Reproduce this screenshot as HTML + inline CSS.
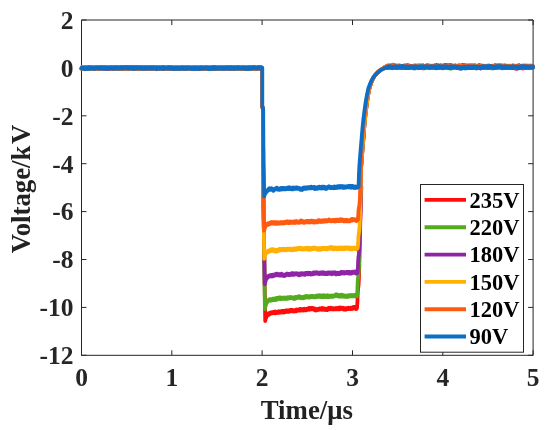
<!DOCTYPE html>
<html lang="en"><head><meta charset="utf-8"><title>Voltage vs Time</title>
<style>html,body{margin:0;padding:0;background:#fff}body{width:550px;height:430px;overflow:hidden}</style></head>
<body>
<svg width="550" height="430" viewBox="0 0 550 430" style="display:block">
<rect width="550" height="430" fill="#fff"/>
<g stroke="#262626" stroke-width="1" fill="none">
<path d="M81.5 20.0 H533.1 V355.3 H81.5 Z"/>
<path d="M81.5 355.3 V350.3 M81.5 20.0 V25.0"/>
<path d="M171.8 355.3 V350.3 M171.8 20.0 V25.0"/>
<path d="M262.1 355.3 V350.3 M262.1 20.0 V25.0"/>
<path d="M352.5 355.3 V350.3 M352.5 20.0 V25.0"/>
<path d="M442.8 355.3 V350.3 M442.8 20.0 V25.0"/>
<path d="M533.1 355.3 V350.3 M533.1 20.0 V25.0"/>
<path d="M81.5 20.0 H86.5 M533.1 20.0 H528.1"/>
<path d="M81.5 67.9 H86.5 M533.1 67.9 H528.1"/>
<path d="M81.5 115.8 H86.5 M533.1 115.8 H528.1"/>
<path d="M81.5 163.7 H86.5 M533.1 163.7 H528.1"/>
<path d="M81.5 211.6 H86.5 M533.1 211.6 H528.1"/>
<path d="M81.5 259.5 H86.5 M533.1 259.5 H528.1"/>
<path d="M81.5 307.4 H86.5 M533.1 307.4 H528.1"/>
<path d="M81.5 355.3 H86.5 M533.1 355.3 H528.1"/>
</g>
<g>
<path d="M81.5 68.4L81.8 67.6L82.1 68.6L82.4 67.8L82.7 68.5L83.0 67.8L83.3 68.7L83.6 67.8L83.9 68.5L84.2 67.8L84.5 68.5L84.8 67.8L85.1 68.6L85.4 67.8L85.7 68.5L86.0 67.5L86.3 68.5L86.6 67.7L86.9 68.5L87.2 67.6L87.5 68.5L87.8 67.7L88.1 68.4L88.4 67.4L88.7 68.3L89.0 67.3L89.3 68.6L89.6 67.6L89.9 68.4L90.2 67.6L90.5 68.7L90.8 67.5L91.1 68.4L91.4 67.7L91.7 68.4L92.0 67.7L92.3 68.3L92.6 67.5L92.9 68.4L93.2 67.4L93.5 68.2L93.8 67.6L94.1 68.4L94.4 67.6L94.7 68.4L95.0 67.5L95.3 68.3L95.6 67.7L95.9 68.5L96.2 67.8L96.5 68.8L96.8 67.6L97.1 68.5L97.4 67.5L97.7 68.7L98.0 67.6L98.3 68.7L98.6 67.9L98.9 68.8L99.2 68.0L99.5 68.9L99.8 67.7L100.1 68.8L100.4 67.8L100.7 68.5L101.0 67.7L101.3 68.5L101.6 67.5L101.9 68.4L102.2 67.7L102.5 68.4L102.8 67.6L103.1 68.5L103.4 67.4L103.7 68.3L104.0 67.5L104.3 68.3L104.6 67.6L104.9 68.4L105.2 67.7L105.5 68.4L105.8 67.8L106.1 68.5L106.4 67.6L106.7 68.7L107.0 67.6L107.3 68.6L107.6 67.7L107.9 68.6L108.2 67.6L108.5 68.8L108.8 67.8L109.1 68.6L109.4 67.5L109.7 68.6L110.0 67.8L110.3 68.5L110.6 67.7L110.9 68.5L111.2 67.7L111.5 68.4L111.8 67.6L112.1 68.6L112.4 67.5L112.7 68.4L113.0 67.6L113.3 68.3L113.6 67.6L113.9 68.3L114.2 67.5L114.5 68.3L114.8 67.6L115.1 68.3L115.4 67.5L115.7 68.5L116.0 67.7L116.3 68.5L116.6 67.5L116.9 68.6L117.2 67.6L117.5 68.5L117.8 67.8L118.1 68.6L118.4 67.7L118.7 68.7L119.0 67.8L119.3 68.8L119.6 67.6L119.9 68.6L120.2 67.6L120.5 68.5L120.8 67.3L121.1 68.5L121.4 67.3L121.7 68.5L122.0 67.4L122.3 68.4L122.6 67.6L122.9 68.4L123.2 67.3L123.5 68.7L123.8 67.6L124.1 68.3L124.4 67.6L124.7 68.2L125.0 67.4L125.3 68.5L125.6 67.5L125.9 68.3L126.2 67.1L126.5 68.1L126.8 67.4L127.1 68.1L127.4 67.3L127.7 68.2L128.0 67.3L128.3 68.3L128.6 67.5L128.9 68.3L129.2 67.5L129.5 68.2L129.8 67.1L130.1 68.4L130.4 67.3L130.7 68.1L131.0 67.5L131.3 68.3L131.6 67.4L131.9 68.2L132.2 67.5L132.5 68.2L132.8 67.5L133.1 68.5L133.4 67.7L133.7 68.8L134.0 67.6L134.3 68.7L134.6 67.1L134.9 68.4L135.2 67.4L135.5 68.2L135.8 67.4L136.1 68.4L136.4 67.3L136.7 68.2L137.0 67.6L137.3 68.3L137.6 67.7L137.9 68.5L138.2 67.6L138.5 68.4L138.8 67.6L139.1 68.6L139.4 67.7L139.7 68.7L140.0 67.6L140.3 68.5L140.6 67.8L140.9 68.7L141.2 67.5L141.5 68.7L141.8 67.7L142.1 68.6L142.4 67.7L142.7 68.9L143.0 67.7L143.3 68.4L143.6 67.8L143.9 68.6L144.2 67.7L144.5 68.3L144.8 67.4L145.1 68.2L145.4 67.5L145.7 68.4L146.0 67.3L146.3 68.0L146.6 66.9L146.9 68.3L147.2 67.2L147.5 68.2L147.8 67.4L148.1 68.2L148.4 67.6L148.7 68.3L149.0 67.7L149.3 68.3L149.6 67.4L149.9 68.4L150.2 67.7L150.5 68.5L150.8 67.6L151.1 68.7L151.4 67.7L151.7 68.4L152.0 67.7L152.3 68.6L152.6 67.8L152.9 68.6L153.2 67.7L153.5 68.5L153.8 67.8L154.1 68.4L154.4 67.5L154.7 68.4L155.0 67.5L155.3 68.4L155.6 67.5L155.9 68.3L156.2 67.2L156.5 68.2L156.8 67.4L157.1 68.2L157.4 67.6L157.7 68.4L158.0 67.5L158.3 68.6L158.6 67.6L158.9 68.3L159.2 67.5L159.5 68.3L159.8 67.4L160.1 68.5L160.4 67.4L160.7 68.4L161.0 67.4L161.3 68.5L161.6 67.6L161.9 68.3L162.2 67.2L162.5 68.3L162.8 67.5L163.1 68.5L163.4 67.6L163.7 68.5L164.0 67.4L164.3 68.5L164.6 67.6L164.9 68.5L165.2 67.8L165.5 68.5L165.8 67.9L166.1 68.6L166.4 67.9L166.7 68.6L167.0 67.9L167.3 68.5L167.6 67.7L167.9 68.8L168.2 67.6L168.5 68.3L168.8 67.3L169.1 68.3L169.4 67.3L169.7 68.6L170.0 67.5L170.3 68.5L170.6 67.7L170.9 68.7L171.2 67.7L171.5 68.5L171.8 67.7L172.1 68.9L172.4 67.8L172.7 68.6L173.0 67.7L173.3 68.5L173.6 67.9L173.9 68.8L174.2 67.9L174.5 68.7L174.8 67.7L175.1 68.7L175.4 67.6L175.7 68.5L176.0 67.6L176.3 68.3L176.6 67.6L176.9 68.4L177.2 67.4L177.5 68.6L177.8 67.6L178.1 68.4L178.4 67.7L178.7 68.6L179.0 67.4L179.3 68.5L179.6 67.8L179.9 68.5L180.2 67.7L180.5 68.6L180.8 67.8L181.1 68.7L181.4 67.6L181.7 68.6L182.0 67.7L182.3 68.8L182.6 67.5L182.9 68.5L183.2 67.5L183.5 68.5L183.8 67.8L184.1 68.6L184.4 67.3L184.7 68.4L185.0 67.4L185.3 68.4L185.6 67.6L185.9 68.6L186.2 67.5L186.5 68.4L186.8 67.3L187.1 68.4L187.4 67.6L187.7 68.5L188.0 67.6L188.3 68.4L188.6 67.8L188.9 68.5L189.2 67.7L189.5 68.5L189.8 67.7L190.1 68.8L190.4 67.9L190.7 68.8L191.0 67.7L191.3 68.7L191.6 67.9L191.9 68.8L192.2 67.7L192.5 68.5L192.8 67.5L193.1 68.5L193.4 67.6L193.7 68.2L194.0 67.3L194.3 68.3L194.6 67.6L194.9 68.4L195.2 67.7L195.5 68.6L195.8 67.8L196.1 68.5L196.4 67.8L196.7 68.7L197.0 67.9L197.3 68.9L197.6 67.8L197.9 68.7L198.2 67.5L198.5 68.5L198.8 67.6L199.1 68.7L199.4 67.6L199.7 68.5L200.0 67.5L200.3 68.4L200.6 67.6L200.9 68.5L201.2 67.6L201.5 68.4L201.8 67.6L202.1 68.6L202.4 67.6L202.7 68.9L203.0 67.6L203.3 68.7L203.6 68.1L203.9 68.8L204.2 68.1L204.5 68.8L204.8 67.7L205.1 68.9L205.4 67.7L205.7 68.8L206.0 67.7L206.3 68.7L206.6 67.8L206.9 68.7L207.2 67.6L207.5 68.5L207.8 67.5L208.1 68.9L208.4 67.5L208.7 68.4L209.0 67.4L209.3 68.4L209.6 67.6L209.9 68.6L210.2 67.5L210.5 68.6L210.8 67.6L211.1 68.5L211.4 67.6L211.7 68.8L212.0 67.8L212.3 68.5L212.6 67.8L212.9 68.5L213.2 67.7L213.5 68.5L213.8 67.9L214.1 68.8L214.4 67.5L214.7 68.5L215.0 67.7L215.3 68.4L215.6 67.7L215.9 68.5L216.2 67.8L216.5 68.6L216.8 67.7L217.1 68.4L217.4 67.8L217.7 68.5L218.0 67.7L218.3 68.7L218.6 67.9L218.9 68.6L219.2 67.9L219.5 68.5L219.8 67.6L220.1 68.5L220.4 67.6L220.7 68.6L221.0 67.8L221.3 68.8L221.6 67.8L221.9 68.4L222.2 67.8L222.5 68.5L222.8 67.8L223.1 68.7L223.4 67.8L223.7 68.6L224.0 67.9L224.3 68.8L224.6 67.9L224.9 68.6L225.2 68.0L225.5 68.7L225.8 67.9L226.1 69.0L226.4 68.0L226.7 68.7L227.0 67.9L227.3 68.6L227.6 67.8L227.9 68.5L228.2 67.7L228.5 68.4L228.8 67.7L229.1 68.6L229.4 67.6L229.7 68.5L230.0 67.5L230.3 68.4L230.6 67.5L230.9 68.6L231.2 67.8L231.5 68.9L231.8 67.7L232.1 68.7L232.4 67.5L232.7 68.5L233.0 67.5L233.3 68.4L233.6 67.7L233.9 68.7L234.2 67.4L234.5 68.4L234.8 67.7L235.1 68.6L235.4 67.6L235.7 68.5L236.0 67.7L236.3 68.4L236.6 67.6L236.9 68.5L237.2 67.7L237.5 68.5L237.8 67.6L238.1 68.5L238.4 67.5L238.7 68.3L239.0 67.5L239.3 68.4L239.6 67.3L239.9 68.3L240.2 67.6L240.5 68.3L240.8 67.3L241.1 68.3L241.4 67.6L241.7 68.5L242.0 67.2L242.3 68.4L242.6 67.5L242.9 68.4L243.2 67.6L243.5 68.3L243.8 67.6L244.1 68.9L244.4 67.8L244.7 68.5L245.0 67.7L245.3 68.8L245.6 67.7L245.9 68.6L246.2 67.9L246.5 68.7L246.8 67.9L247.1 68.6L247.4 67.8L247.7 69.0L248.0 68.0L248.3 68.6L248.6 68.0L248.9 68.9L249.2 68.0L249.5 68.8L249.8 67.7L250.1 68.4L250.4 67.7L250.7 68.5L251.0 67.4L251.3 68.5L251.6 67.4L251.9 68.2L252.2 67.4L252.5 68.5L252.8 67.4L253.1 68.3L253.4 67.5L253.7 68.3L254.0 67.4L254.3 68.3L254.6 67.5L254.9 68.5L255.2 67.6L255.5 68.5L255.8 67.7L256.1 68.6L256.4 67.9L256.7 68.7L257.0 67.8L257.3 68.4L257.6 67.5L257.9 68.4L258.2 67.5L258.5 68.3L258.8 67.0L259.1 68.4L259.4 67.4L259.7 68.1L260.0 67.2L260.3 68.2L260.6 67.4L260.9 68.3L261.2 67.6L261.5 68.5L262.1 67.9L262.1 105.8L263.0 109.4L263.2 163.3L263.4 196.8L265.2 321.0L265.5 319.7L265.8 318.1L266.1 317.8L266.4 316.2L266.7 316.5L267.0 315.1L267.3 315.7L267.6 314.4L267.9 315.2L268.2 313.5L268.5 315.0L268.8 313.7L269.1 314.7L269.4 312.9L269.7 314.0L270.0 312.6L270.3 313.9L270.6 312.4L270.9 313.5L271.2 312.4L271.5 313.6L271.8 312.2L272.1 313.4L272.4 312.1L272.7 313.0L273.0 312.1L273.3 313.0L273.6 312.0L273.9 313.1L274.2 311.7L274.5 312.9L274.8 311.6L275.1 313.3L275.4 311.7L275.7 313.0L276.0 311.8L276.3 313.1L276.6 311.9L276.9 312.8L277.2 311.9L277.5 312.7L277.8 311.8L278.1 312.7L278.4 311.6L278.7 312.8L279.0 311.3L279.3 312.6L279.6 311.7L279.9 312.6L280.2 311.4L280.5 312.6L280.8 311.4L281.1 312.4L281.4 311.2L281.7 312.1L282.0 310.9L282.3 312.3L282.6 311.3L282.9 312.2L283.2 310.9L283.5 312.6L283.8 311.2L284.1 312.2L284.4 311.1L284.7 312.1L285.0 310.7L285.3 312.2L285.6 310.7L285.9 311.7L286.2 310.5L286.5 311.5L286.8 310.4L287.1 311.9L287.4 310.5L287.7 311.8L288.0 310.4L288.3 311.5L288.6 310.5L288.9 311.8L289.2 310.5L289.5 311.7L289.8 310.2L290.1 311.4L290.4 310.0L290.7 311.2L291.0 310.0L291.3 311.4L291.6 309.9L291.9 311.0L292.2 310.2L292.5 311.1L292.8 310.2L293.1 311.2L293.4 310.2L293.7 311.5L294.0 310.5L294.3 311.4L294.6 310.1L294.9 311.2L295.2 310.2L295.5 311.1L295.8 309.8L296.1 311.3L296.4 310.0L296.7 311.0L297.0 309.4L297.3 310.7L297.6 309.7L297.9 310.7L298.2 309.6L298.5 310.5L298.8 309.4L299.1 310.5L299.4 309.5L299.7 310.5L300.0 308.8L300.3 310.5L300.6 309.3L300.9 310.4L301.2 309.2L301.5 310.5L301.8 309.2L302.1 310.1L302.4 309.1L302.7 310.3L303.0 309.2L303.3 310.6L303.6 308.9L303.9 310.1L304.2 309.2L304.5 310.1L304.8 308.8L305.1 310.2L305.4 309.0L305.7 310.2L306.0 309.2L306.3 310.3L306.6 309.1L306.9 310.1L307.2 308.7L307.5 309.9L307.8 308.4L308.1 309.5L308.4 308.2L308.7 309.3L309.0 308.0L309.3 309.2L309.6 308.2L309.9 309.7L310.2 308.0L310.5 309.2L310.8 308.3L311.1 309.2L311.4 308.0L311.7 309.2L312.0 307.9L312.3 309.2L312.6 308.4L312.9 309.2L313.2 308.1L313.5 309.3L313.8 308.3L314.1 309.6L314.4 308.4L314.7 310.1L315.0 308.7L315.3 309.8L315.6 309.1L315.9 310.5L316.2 309.1L316.5 310.3L316.8 309.3L317.1 310.3L317.4 309.1L317.7 310.0L318.0 309.0L318.3 309.8L318.6 308.9L318.9 309.9L319.2 308.8L319.5 309.8L319.8 308.5L320.1 309.5L320.4 308.4L320.7 309.6L321.0 308.4L321.3 309.5L321.6 308.1L321.9 309.8L322.2 308.0L322.5 309.4L322.8 308.3L323.1 309.4L323.4 308.6L323.7 309.8L324.0 308.3L324.3 309.7L324.6 308.7L324.9 309.9L325.2 308.8L325.5 309.9L325.8 308.9L326.1 310.0L326.4 309.0L326.7 309.9L327.0 308.7L327.3 310.1L327.6 308.4L327.9 309.5L328.2 308.4L328.5 309.2L328.8 308.0L329.1 309.1L329.4 308.0L329.7 309.0L330.0 307.9L330.3 309.3L330.6 307.8L330.9 309.1L331.2 307.8L331.5 309.2L331.8 308.1L332.1 309.3L332.4 308.2L332.7 309.4L333.0 308.1L333.3 309.4L333.6 308.4L333.9 309.5L334.2 308.4L334.5 309.4L334.8 308.5L335.1 309.4L335.4 308.3L335.7 309.2L336.0 308.3L336.3 309.2L336.6 308.2L336.9 309.4L337.2 308.2L337.5 309.3L337.8 308.0L338.1 309.2L338.4 307.7L338.7 309.3L339.0 308.1L339.3 309.1L339.6 307.7L339.9 309.3L340.2 307.6L340.5 309.0L340.8 307.8L341.1 308.9L341.4 307.6L341.7 308.7L342.0 307.9L342.3 309.0L342.6 308.1L342.9 309.3L343.2 307.8L343.5 309.4L343.8 308.3L344.1 309.6L344.4 308.5L344.7 309.6L345.0 308.5L345.3 309.6L345.6 308.3L345.9 309.7L346.2 308.5L346.5 309.4L346.8 308.2L347.1 309.2L347.4 308.0L347.7 309.1L348.0 308.2L348.3 309.1L348.6 307.8L348.9 308.9L349.2 307.9L349.5 308.8L349.8 308.0L350.1 309.0L350.4 307.7L350.7 308.9L351.0 307.9L351.3 309.0L351.6 307.9L351.9 308.7L352.2 307.6L352.5 308.9L352.8 307.4L353.1 308.6L353.4 307.0L353.7 308.1L354.0 306.9L354.3 308.0L354.6 307.2L354.9 308.1L355.2 307.3L355.5 308.8L355.8 307.6L356.1 309.1L356.4 307.7L356.7 308.8L357.0 307.7L357.1 307.3L357.1 306.9L357.1 306.5L357.2 306.1L357.2 305.7L357.2 305.3L357.2 304.9L357.3 304.5L357.3 304.1L357.3 303.7L357.3 303.3L357.4 302.9L357.4 302.5L357.4 302.1L357.4 301.7L357.4 301.3L357.4 300.9L357.5 300.5L357.5 300.1L357.5 299.7L357.5 299.3L357.5 298.9L357.5 298.5L357.5 298.1L357.5 297.7L357.6 297.3L357.6 296.9L357.6 296.5L357.6 296.1L357.6 295.7L357.6 295.3L357.6 294.9L357.7 294.5L357.7 294.1L357.7 293.7L357.7 293.3L357.7 292.9L357.8 292.5L357.8 292.1L357.8 291.7L357.9 291.3L357.9 290.9L357.9 290.5L358.0 290.1L358.0 289.7L358.1 289.3L358.1 288.9L358.1 288.5L358.2 288.1L358.2 287.7L358.3 287.3L358.3 286.9L358.4 286.5L358.4 286.1L358.5 285.7L358.5 285.3L358.5 284.9L358.6 284.5L358.6 284.1L358.6 283.7L358.6 283.3L358.7 282.9L358.7 282.5L358.7 282.1L358.7 281.7L358.8 281.3L358.8 280.9L358.8 280.5L358.8 280.1L358.8 279.7L358.9 279.3L358.9 278.9L358.9 278.5L358.9 278.1L358.9 277.7L359.0 277.3L359.0 276.9L359.0 276.5L359.0 276.1L359.0 275.7L359.0 275.3L359.0 274.9L359.1 274.5L359.1 274.1L359.1 273.7L359.1 273.3L359.1 272.9L359.1 272.5L359.1 272.1L359.1 271.7L359.2 271.3L359.2 270.9L359.2 270.5L359.2 270.1L359.2 269.7L359.2 269.3L359.2 268.9L359.2 268.5L359.2 268.1L359.2 267.7L359.2 267.3L359.3 266.9L359.3 266.5L359.3 266.1L359.3 265.7L359.3 265.3L359.3 264.9L359.3 264.5L359.3 264.1L359.3 263.7L359.3 263.3L359.3 262.9L359.3 262.5L359.4 262.1L359.4 261.7L359.4 261.3L359.4 260.9L359.4 260.5L359.4 260.1L359.4 259.7L359.4 259.3L359.4 258.9L359.4 258.5L359.4 258.1L359.4 257.7L359.5 257.3L359.5 256.9L359.5 256.5L359.5 256.1L359.5 255.7L359.5 255.3L359.5 254.9L359.5 254.5L359.5 254.1L359.5 253.7L359.5 253.3L359.5 252.9L359.5 252.5L359.6 252.1L359.6 251.7L359.6 251.3L359.6 250.9L359.6 250.5L359.6 250.1L359.6 249.7L359.6 249.3L359.6 248.9L359.6 248.5L359.6 248.1L359.6 247.7L359.6 247.3L359.7 246.9L359.7 246.5L359.7 246.1L359.7 245.7L359.7 245.3L359.7 244.9L359.7 244.5L359.7 244.1L359.7 243.7L359.7 243.3L359.7 242.9L359.7 242.5L359.8 242.1L359.8 241.7L359.8 241.3L359.8 240.9L359.8 240.5L359.8 240.1L359.8 239.7L359.8 239.3L359.8 238.9L359.8 238.5L359.8 238.1L359.9 237.7L359.9 237.3L359.9 236.9L359.9 236.5L359.9 236.1L359.9 235.7L359.9 235.3L359.9 234.9L359.9 234.5L359.9 234.1L360.0 233.7L360.0 233.3L360.0 232.9L360.0 232.5L360.0 232.1L360.0 231.7L360.0 231.3L360.0 230.9L360.0 230.5L360.1 230.1L360.1 229.7L360.1 229.3L360.1 228.9L360.1 228.5L360.1 228.1L360.1 227.7L360.1 227.3L360.1 226.9L360.1 226.5L360.2 226.1L360.2 225.7L360.2 225.3L360.2 224.9L360.2 224.5L360.2 224.1L360.2 223.7L360.2 223.3L360.2 222.9L360.3 222.5L360.3 222.1L360.3 221.7L360.3 221.3L360.3 220.9L360.3 220.5L360.3 220.1L360.3 219.7L360.3 219.3L360.4 218.9L360.4 218.5L360.4 218.1L360.4 217.7L360.4 217.3L360.4 216.9L360.4 216.5L360.4 216.1L360.4 215.7L360.5 215.3L360.5 214.9L360.5 214.5L360.5 214.1L360.5 213.7L360.5 213.3L360.5 212.9L360.5 212.5L360.6 212.1L360.6 211.7L360.6 211.3L360.6 210.9L360.6 210.5L360.6 210.1L360.6 209.7L360.6 209.3L360.6 208.9L360.7 208.5L360.7 208.1L360.7 207.7L360.7 207.3L360.7 206.9L360.7 206.5L360.7 206.1L360.7 205.7L360.8 205.3L360.8 204.9L360.8 204.5L360.8 204.1L360.8 203.7L360.8 203.3L360.8 202.9L360.8 202.5L360.8 202.1L360.9 201.7L360.9 201.3L360.9 200.9L360.9 200.5L360.9 200.1L360.9 199.7L360.9 199.3L360.9 198.9L361.0 198.5L361.0 198.1L361.0 197.7L361.0 197.3L361.0 196.9L361.0 196.5L361.0 196.1L361.0 195.7L361.1 195.3L361.1 194.9L361.1 194.5L361.1 194.1L361.1 193.7L361.1 193.3L361.1 192.9L361.2 192.5L361.2 192.1L361.2 191.7L361.2 191.3L361.2 190.9L361.2 190.5L361.2 190.1L361.2 189.7L361.3 189.3L361.3 188.9L361.3 188.5L361.3 188.1L361.3 187.7L361.3 187.3L361.3 186.9L360.4 186.5L360.4 186.1L360.4 185.7L360.4 185.3L360.4 184.9L360.5 184.5L360.5 184.1L360.5 183.7L360.5 183.3L360.5 182.9L360.5 182.5L360.5 182.1L360.5 181.7L360.5 181.3L360.6 180.9L360.6 180.5L360.6 180.1L360.6 179.7L360.6 179.3L360.6 178.9L360.6 178.5L360.6 178.1L360.6 177.7L360.7 177.3L360.7 176.9L360.7 176.5L360.7 176.1L360.7 175.7L360.7 175.3L360.7 174.9L360.7 174.5L360.8 174.1L360.8 173.7L360.8 173.3L360.8 172.9L360.8 172.5L360.8 172.1L360.9 171.7L360.9 171.3L360.9 170.9L360.9 170.5L360.9 170.1L361.0 169.7L361.0 169.3L361.0 168.9L361.0 168.5L361.1 168.1L361.1 167.7L361.1 167.3L361.1 166.9L361.1 166.5L361.2 166.1L361.2 165.7L361.2 165.3L361.3 164.9L361.3 164.5L361.3 164.1L361.3 163.7L361.4 163.3L361.4 162.9L361.4 162.5L361.5 162.1L361.5 161.7L361.5 161.3L361.5 160.9L361.6 160.5L361.6 160.1L361.6 159.7L361.7 159.3L361.7 158.9L361.7 158.5L361.8 158.1L361.8 157.7L361.8 157.3L361.9 156.9L361.9 156.5L361.9 156.1L362.0 155.7L362.0 155.3L362.0 154.9L362.0 154.5L362.1 154.1L362.1 153.7L362.1 153.3L362.2 152.9L362.2 152.5L362.2 152.1L362.3 151.7L362.3 151.3L362.3 150.9L362.4 150.5L362.4 150.1L362.4 149.7L362.5 149.3L362.5 148.9L362.5 148.5L362.6 148.1L362.6 147.7L362.6 147.3L362.7 146.9L362.7 146.5L362.7 146.1L362.8 145.7L362.8 145.3L362.8 144.9L362.9 144.5L362.9 144.1L362.9 143.7L363.0 143.3L363.0 142.9L363.1 142.5L363.1 142.1L363.1 141.7L363.2 141.3L363.2 140.9L363.2 140.5L363.3 140.1L363.3 139.7L363.3 139.3L363.4 138.9L363.4 138.5L363.4 138.1L363.5 137.7L363.5 137.3L363.5 136.9L363.5 136.5L363.6 136.1L363.6 135.7L363.6 135.3L363.6 134.9L363.7 134.5L363.7 134.1L363.7 133.7L363.8 133.3L363.8 132.9L363.8 132.5L363.9 132.1L363.9 131.7L363.9 131.3L363.9 130.9L364.0 130.5L364.0 130.1L364.0 129.7L364.1 129.3L364.1 128.9L364.1 128.5L364.2 128.1L364.2 127.7L364.2 127.3L364.2 126.9L364.3 126.5L364.3 126.1L364.4 125.7L364.4 125.3L364.4 124.9L364.5 124.5L364.5 124.1L364.5 123.7L364.6 123.3L364.6 122.9L364.6 122.5L364.7 122.1L364.7 121.7L364.8 121.3L364.8 120.9L364.8 120.5L364.9 120.1L364.9 119.7L365.0 119.3L365.0 118.9L365.0 118.5L365.1 118.1L365.1 117.7L365.2 117.3L365.2 116.9L365.3 116.5L365.3 116.1L365.3 115.7L365.4 115.3L365.4 114.9L365.5 114.5L365.5 114.1L365.6 113.7L365.6 113.3L365.7 112.9L365.7 112.5L365.8 112.1L365.8 111.7L365.8 111.3L365.9 110.9L365.9 110.5L366.0 110.1L366.0 109.7L366.1 109.3L366.1 108.9L366.2 108.5L366.2 108.1L366.3 107.7L366.3 107.3L366.4 106.9L366.4 106.5L366.5 106.1L366.5 105.7L366.6 105.3L366.6 104.9L366.7 104.5L366.7 104.1L366.8 103.7L366.8 103.3L366.9 102.9L367.0 102.5L367.0 102.1L367.1 101.7L367.1 101.3L367.2 100.9L367.2 100.5L367.3 100.1L367.3 99.7L367.4 99.3L367.5 98.9L367.5 98.5L367.6 98.1L367.7 97.7L367.7 97.3L367.8 96.9L367.9 96.5L367.9 96.1L368.0 95.7L368.1 95.3L368.1 94.9L368.2 94.5L368.3 94.1L368.3 93.7L368.4 93.3L368.5 92.9L368.5 92.5L368.6 92.1L368.7 91.7L368.8 91.3L368.8 90.9L368.9 90.5L369.0 90.1L369.1 89.7L369.2 89.3L369.3 88.9L369.4 88.5L369.5 88.1L369.6 87.7L369.7 87.3L369.8 86.9L369.9 86.5L370.1 86.1L370.2 85.7L370.3 85.3L370.4 84.9L370.6 84.5L370.7 84.1L370.8 83.7L371.0 83.3L371.1 82.9L371.3 82.5L371.4 82.1L371.6 81.7L371.7 81.3L371.9 80.9L372.1 80.5L372.2 80.1L372.4 79.7L372.6 79.3L372.8 78.9L373.0 78.5L373.2 78.1L373.4 77.7L373.7 77.3L373.9 76.9L374.2 76.5L374.4 76.1L374.7 75.7L375.0 75.3L375.3 74.9L375.7 74.5L376.0 74.1L376.4 73.7L376.8 73.3L377.1 72.9L377.5 72.5L377.9 72.1L378.4 71.7L378.8 71.3L379.3 70.9L379.8 70.5L380.3 70.1L380.9 69.7L381.6 69.3L382.4 68.9L383.5 68.5L383.8 68.1L384.1 67.8L384.4 67.8L384.7 67.4L385.0 67.5L385.3 67.1L385.6 67.4L385.9 66.9L386.2 67.3L386.5 66.8L386.8 67.2L387.1 66.7L387.4 67.3L387.7 66.5L388.0 67.6L388.3 66.8L388.6 67.6L388.9 66.8L389.2 67.7L389.5 66.6L389.8 67.5L390.1 66.1L390.4 67.3L390.7 65.6L391.0 67.0L391.3 65.5L391.6 66.8L391.9 65.7L392.2 66.9L392.5 65.6L392.8 66.9L393.1 65.4L393.4 66.7L393.7 65.7L394.0 66.7L394.3 65.0L394.6 66.6L394.9 65.4L395.2 66.4L395.5 65.4L395.8 66.7L396.1 65.6L396.4 66.8L396.7 65.9L397.0 67.0L397.3 66.1L397.6 67.5L397.9 65.9L398.2 66.8L398.5 65.9L398.8 66.8L399.1 65.7L399.4 66.9L399.7 65.9L400.0 67.4L400.3 66.1L400.6 67.3L400.9 66.5L401.2 67.5L401.5 66.3L401.8 67.2L402.1 66.2L402.4 67.2L402.7 66.1L403.0 67.4L403.3 66.0L403.6 67.6L403.9 66.0L404.2 67.6L404.5 66.8L404.8 67.9L405.1 66.8L405.4 67.5L405.7 66.4L406.0 67.0L406.3 65.4L406.6 66.5L406.9 65.1L407.2 66.3L407.5 65.4L407.8 66.6L408.1 65.5L408.4 66.8L408.7 65.8L409.0 67.2L409.3 65.9L409.6 67.5L409.9 66.4L410.2 67.3L410.5 66.4L410.8 67.8L411.1 66.7L411.4 67.5L411.7 66.4L412.0 67.7L412.3 66.1L412.6 67.1L412.9 65.9L413.2 67.2L413.5 66.1L413.8 66.9L414.1 65.8L414.4 66.9L414.7 65.9L415.0 66.9L415.3 65.5L415.6 66.8L415.9 65.7L416.2 67.1L416.5 65.7L416.8 67.2L417.1 65.8L417.4 66.9L417.7 65.6L418.0 66.9L418.3 65.5L418.6 66.6L418.9 65.5L419.2 66.6L419.5 65.7L419.8 66.9L420.1 65.7L420.4 67.2L420.7 66.0L421.0 67.5L421.3 66.4L421.6 67.9L421.9 66.9L422.2 67.9L422.5 67.1L422.8 68.4L423.1 67.4L423.4 68.4L423.7 66.9L424.0 68.2L424.3 67.1L424.6 68.0L424.9 66.6L425.2 67.7L425.5 66.0L425.8 67.4L426.1 66.1L426.4 67.1L426.7 65.9L427.0 66.9L427.3 65.7L427.6 66.9L427.9 65.3L428.2 66.7L428.5 65.5L428.8 66.7L429.1 65.8L429.4 66.9L429.7 65.8L430.0 66.9L430.3 65.8L430.6 66.9L430.9 65.9L431.2 67.1L431.5 66.2L431.8 67.2L432.1 65.8L432.4 67.6L432.7 66.4L433.0 67.6L433.3 66.6L433.6 67.5L433.9 66.2L434.2 67.4L434.5 66.0L434.8 66.9L435.1 65.8L435.4 66.8L435.7 65.8L436.0 67.1L436.3 65.8L436.6 67.0L436.9 65.6L437.2 66.9L437.5 65.8L437.8 67.4L438.1 66.0L438.4 67.7L438.7 66.4L439.0 67.9L439.3 66.6L439.6 68.0L439.9 66.5L440.2 67.6L440.5 66.7L440.8 67.6L441.1 66.7L441.4 67.5L441.7 66.5L442.0 67.6L442.3 65.9L442.6 67.1L442.9 65.9L443.2 66.9L443.5 65.8L443.8 66.8L444.1 65.7L444.4 67.1L444.7 65.5L445.0 66.7L445.3 65.6L445.6 66.5L445.9 65.0L446.2 66.6L446.5 65.5L446.8 66.7L447.1 65.5L447.4 66.5L447.7 65.3L448.0 66.9L448.3 65.4L448.6 66.7L448.9 65.9L449.2 67.1L449.5 65.5L449.8 67.1L450.1 65.4L450.4 66.5L450.7 65.2L451.0 66.2L451.3 65.1L451.6 66.8L451.9 65.8L452.2 67.0L452.5 66.1L452.8 67.4L453.1 66.6L453.4 67.5L453.7 66.1L454.0 67.2L454.3 66.1L454.6 67.3L454.9 65.7L455.2 67.0L455.5 65.7L455.8 67.4L456.1 65.9L456.4 67.2L456.7 66.4L457.0 67.9L457.3 66.3L457.6 67.7L457.9 66.6L458.2 67.8L458.5 67.0L458.8 68.4L459.1 67.1L459.4 68.3L459.7 66.8L460.0 68.0L460.3 66.9L460.6 68.1L460.9 66.7L461.2 67.7L461.5 66.5L461.8 67.4L462.1 66.1L462.4 67.0L462.7 65.5L463.0 66.6L463.3 65.8L463.6 67.0L463.9 65.7L464.2 67.2L464.5 66.3L464.8 67.8L465.1 66.2L465.4 68.2L465.7 66.5L466.0 67.9L466.3 66.5L466.6 67.9L466.9 66.8L467.2 67.9L467.5 66.5L467.8 67.5L468.1 65.7L468.4 67.7L468.7 65.9L469.0 67.2L469.3 65.7L469.6 67.1L469.9 65.5L470.2 67.1L470.5 65.9L470.8 66.9L471.1 65.8L471.4 67.3L471.7 65.6L472.0 66.9L472.3 65.9L472.6 67.0L472.9 66.2L473.2 67.5L473.5 65.7L473.8 66.8L474.1 65.5L474.4 66.7L474.7 65.5L475.0 66.5L475.3 65.4L475.6 66.8L475.9 65.9L476.2 67.3L476.5 66.3L476.8 67.9L477.1 66.9L477.4 67.7L477.7 66.1L478.0 67.2L478.3 65.4L478.6 66.9L478.9 65.1L479.2 66.2L479.5 65.1L479.8 66.3L480.1 65.3L480.4 66.4L480.7 65.6L481.0 66.7L481.3 65.7L481.6 66.8L481.9 65.5L482.2 66.9L482.5 65.7L482.8 67.0L483.1 65.9L483.4 67.0L483.7 66.1L484.0 67.3L484.3 66.0L484.6 67.2L484.9 66.0L485.2 67.4L485.5 66.0L485.8 67.2L486.1 65.9L486.4 67.5L486.7 66.0L487.0 67.4L487.3 65.7L487.6 67.9L487.9 66.0L488.2 67.5L488.5 66.4L488.8 67.3L489.1 66.4L489.4 67.6L489.7 66.2L490.0 67.2L490.3 66.2L490.6 67.4L490.9 66.2L491.2 67.7L491.5 66.2L491.8 67.3L492.1 66.1L492.4 67.8L492.7 66.4L493.0 67.9L493.3 66.5L493.6 67.2L493.9 65.9L494.2 66.8L494.5 65.5L494.8 66.3L495.1 65.1L495.4 66.4L495.7 65.5L496.0 66.8L496.3 65.9L496.6 66.9L496.9 66.0L497.2 67.7L497.5 66.0L497.8 67.0L498.1 66.1L498.4 67.1L498.7 65.8L499.0 67.0L499.3 65.9L499.6 67.0L499.9 66.0L500.2 67.1L500.5 66.2L500.8 67.4L501.1 66.0L501.4 67.3L501.7 65.9L502.0 67.4L502.3 66.0L502.6 67.3L502.9 66.2L503.2 67.8L503.5 66.0L503.8 67.3L504.1 65.7L504.4 66.9L504.7 65.7L505.0 67.0L505.3 65.7L505.6 66.8L505.9 65.7L506.2 66.9L506.5 65.8L506.8 66.8L507.1 66.0L507.4 67.1L507.7 65.9L508.0 67.7L508.3 66.2L508.6 67.6L508.9 66.6L509.2 67.5L509.5 66.5L509.8 67.5L510.1 66.2L510.4 67.5L510.7 65.8L511.0 67.8L511.3 66.2L511.6 67.2L511.9 66.2L512.2 67.3L512.5 65.8L512.8 66.9L513.1 65.7L513.4 67.1L513.7 66.3L514.0 67.5L514.3 66.7L514.6 68.3L514.9 67.0L515.2 68.4L515.5 67.0L515.8 68.4L516.1 67.4L516.4 68.9L516.7 67.4L517.0 68.5L517.3 67.1L517.6 68.1L517.9 66.3L518.2 67.4L518.5 65.7L518.8 66.6L519.1 65.2L519.4 66.6L519.7 65.7L520.0 66.8L520.3 65.8L520.6 67.3L520.9 66.4L521.2 67.4L521.5 66.7L521.8 67.9L522.1 66.6L522.4 68.0L522.7 67.1L523.0 68.5L523.3 67.2L523.6 68.3L523.9 67.1L524.2 68.0L524.5 66.9L524.8 68.0L525.1 66.4L525.4 67.6L525.7 66.5L526.0 67.5L526.3 66.2L526.6 67.4L526.9 66.4L527.2 67.7L527.5 66.2L527.8 67.2L528.1 66.1L528.4 67.2L528.7 66.0L529.0 67.0L529.3 66.1L529.6 67.5L529.9 66.1L530.2 67.0L530.5 66.0L530.8 67.3L531.1 66.0L531.4 66.9L531.7 66.1L532.0 67.2L532.3 66.0L532.6 67.3L532.9 66.1" fill="none" stroke="#ff0d0d" stroke-width="3.8" stroke-linejoin="round" stroke-linecap="round"/>
<path d="M81.5 69.0L81.8 67.8L82.1 68.7L82.4 67.9L82.7 68.6L83.0 67.8L83.3 68.8L83.6 67.6L83.9 68.6L84.2 67.5L84.5 68.3L84.8 67.4L85.1 68.5L85.4 67.5L85.7 68.3L86.0 67.6L86.3 68.4L86.6 67.5L86.9 68.5L87.2 67.6L87.5 68.5L87.8 67.5L88.1 68.8L88.4 67.8L88.7 68.7L89.0 68.0L89.3 68.8L89.6 67.9L89.9 68.7L90.2 67.8L90.5 68.7L90.8 67.6L91.1 68.4L91.4 67.4L91.7 68.4L92.0 67.7L92.3 68.5L92.6 67.7L92.9 68.5L93.2 67.5L93.5 68.5L93.8 67.7L94.1 68.4L94.4 67.3L94.7 68.4L95.0 67.7L95.3 68.5L95.6 67.8L95.9 68.9L96.2 67.7L96.5 68.6L96.8 67.7L97.1 68.9L97.4 67.8L97.7 68.6L98.0 67.8L98.3 68.8L98.6 67.9L98.9 69.1L99.2 67.8L99.5 68.6L99.8 67.7L100.1 68.5L100.4 67.4L100.7 68.5L101.0 67.3L101.3 68.3L101.6 67.1L101.9 68.2L102.2 67.3L102.5 68.3L102.8 67.3L103.1 68.2L103.4 67.3L103.7 68.5L104.0 67.4L104.3 68.4L104.6 67.2L104.9 68.2L105.2 67.5L105.5 68.4L105.8 67.2L106.1 68.3L106.4 67.4L106.7 68.3L107.0 67.3L107.3 68.3L107.6 67.4L107.9 68.4L108.2 67.6L108.5 68.4L108.8 67.5L109.1 68.3L109.4 67.5L109.7 68.2L110.0 67.4L110.3 68.3L110.6 67.3L110.9 68.3L111.2 67.4L111.5 68.3L111.8 67.4L112.1 68.3L112.4 67.4L112.7 68.4L113.0 67.4L113.3 68.7L113.6 67.4L113.9 68.4L114.2 67.6L114.5 68.6L114.8 67.4L115.1 68.6L115.4 67.7L115.7 68.5L116.0 67.4L116.3 68.6L116.6 67.6L116.9 68.6L117.2 67.7L117.5 68.4L117.8 67.4L118.1 68.7L118.4 67.5L118.7 68.3L119.0 67.6L119.3 68.5L119.6 67.6L119.9 68.5L120.2 67.6L120.5 68.6L120.8 67.6L121.1 68.5L121.4 67.4L121.7 68.5L122.0 67.8L122.3 68.9L122.6 67.8L122.9 68.6L123.2 67.7L123.5 68.7L123.8 67.7L124.1 68.7L124.4 67.7L124.7 68.5L125.0 67.8L125.3 68.4L125.6 67.5L125.9 68.4L126.2 67.3L126.5 68.3L126.8 67.6L127.1 68.3L127.4 67.7L127.7 68.6L128.0 67.6L128.3 68.4L128.6 67.7L128.9 68.7L129.2 67.6L129.5 68.6L129.8 67.7L130.1 68.6L130.4 67.8L130.7 68.8L131.0 67.8L131.3 68.8L131.6 67.9L131.9 68.9L132.2 68.0L132.5 68.9L132.8 68.0L133.1 68.8L133.4 67.8L133.7 68.6L134.0 67.8L134.3 68.5L134.6 67.8L134.9 68.4L135.2 67.6L135.5 68.5L135.8 67.4L136.1 68.3L136.4 67.5L136.7 68.3L137.0 67.6L137.3 68.7L137.6 67.7L137.9 68.6L138.2 67.6L138.5 68.4L138.8 67.3L139.1 68.4L139.4 67.6L139.7 68.5L140.0 67.6L140.3 68.4L140.6 67.3L140.9 68.4L141.2 67.5L141.5 68.3L141.8 67.4L142.1 68.3L142.4 67.6L142.7 68.8L143.0 67.6L143.3 68.5L143.6 67.7L143.9 68.7L144.2 67.6L144.5 68.5L144.8 67.7L145.1 68.8L145.4 67.8L145.7 68.7L146.0 67.9L146.3 68.6L146.6 67.9L146.9 68.5L147.2 67.7L147.5 68.5L147.8 67.8L148.1 68.4L148.4 67.6L148.7 68.5L149.0 67.5L149.3 68.3L149.6 67.5L149.9 68.3L150.2 67.6L150.5 68.7L150.8 67.5L151.1 68.4L151.4 67.7L151.7 68.8L152.0 67.7L152.3 68.5L152.6 67.8L152.9 68.6L153.2 67.7L153.5 68.6L153.8 67.6L154.1 68.8L154.4 67.8L154.7 68.7L155.0 67.5L155.3 68.5L155.6 67.8L155.9 68.6L156.2 67.5L156.5 68.5L156.8 67.6L157.1 68.6L157.4 67.7L157.7 68.4L158.0 67.7L158.3 68.5L158.6 67.7L158.9 68.6L159.2 67.7L159.5 68.7L159.8 67.4L160.1 68.4L160.4 67.6L160.7 68.4L161.0 67.4L161.3 68.2L161.6 67.4L161.9 68.3L162.2 67.6L162.5 68.2L162.8 67.5L163.1 68.3L163.4 67.3L163.7 68.3L164.0 67.6L164.3 68.3L164.6 67.5L164.9 68.5L165.2 67.4L165.5 68.4L165.8 67.4L166.1 68.6L166.4 67.5L166.7 68.6L167.0 67.7L167.3 68.6L167.6 67.6L167.9 68.6L168.2 67.8L168.5 69.0L168.8 68.0L169.1 69.0L169.4 68.1L169.7 68.8L170.0 67.9L170.3 68.6L170.6 67.9L170.9 68.6L171.2 67.4L171.5 68.4L171.8 67.5L172.1 68.3L172.4 67.6L172.7 68.4L173.0 67.3L173.3 68.6L173.6 67.6L173.9 68.3L174.2 67.4L174.5 68.3L174.8 67.7L175.1 68.8L175.4 67.7L175.7 68.7L176.0 67.6L176.3 68.3L176.6 67.4L176.9 68.5L177.2 67.6L177.5 68.4L177.8 67.7L178.1 68.5L178.4 67.6L178.7 68.5L179.0 67.7L179.3 68.7L179.6 67.6L179.9 68.6L180.2 67.5L180.5 68.5L180.8 67.7L181.1 68.6L181.4 67.9L181.7 68.7L182.0 67.7L182.3 68.7L182.6 67.8L182.9 68.8L183.2 67.7L183.5 68.7L183.8 67.5L184.1 68.5L184.4 67.6L184.7 68.7L185.0 67.9L185.3 68.6L185.6 68.0L185.9 69.0L186.2 68.0L186.5 69.1L186.8 67.9L187.1 69.0L187.4 68.0L187.7 68.8L188.0 67.5L188.3 68.7L188.6 67.9L188.9 68.6L189.2 67.4L189.5 68.5L189.8 67.8L190.1 68.6L190.4 67.8L190.7 68.8L191.0 68.0L191.3 68.8L191.6 68.0L191.9 69.0L192.2 67.9L192.5 68.8L192.8 67.9L193.1 68.6L193.4 67.6L193.7 68.5L194.0 67.5L194.3 68.7L194.6 67.8L194.9 68.8L195.2 67.8L195.5 68.6L195.8 67.6L196.1 68.6L196.4 67.9L196.7 68.6L197.0 67.7L197.3 68.6L197.6 67.7L197.9 68.6L198.2 67.6L198.5 68.2L198.8 67.4L199.1 68.3L199.4 67.3L199.7 68.6L200.0 67.3L200.3 68.6L200.6 67.6L200.9 68.4L201.2 67.5L201.5 68.6L201.8 67.4L202.1 68.6L202.4 67.7L202.7 68.6L203.0 67.7L203.3 68.8L203.6 67.7L203.9 68.5L204.2 67.5L204.5 68.8L204.8 67.6L205.1 68.8L205.4 67.7L205.7 68.4L206.0 67.4L206.3 68.4L206.6 67.7L206.9 68.4L207.2 67.3L207.5 68.2L207.8 67.3L208.1 68.2L208.4 67.4L208.7 68.0L209.0 67.4L209.3 68.2L209.6 67.3L209.9 68.5L210.2 67.4L210.5 68.5L210.8 67.8L211.1 68.6L211.4 67.9L211.7 68.6L212.0 67.8L212.3 68.6L212.6 67.7L212.9 68.5L213.2 67.8L213.5 68.7L213.8 67.6L214.1 68.4L214.4 67.6L214.7 68.6L215.0 67.6L215.3 68.9L215.6 67.7L215.9 68.6L216.2 67.5L216.5 68.8L216.8 67.6L217.1 68.3L217.4 67.7L217.7 68.4L218.0 67.6L218.3 68.6L218.6 67.5L218.9 68.7L219.2 67.6L219.5 68.4L219.8 67.5L220.1 68.5L220.4 67.6L220.7 68.5L221.0 67.7L221.3 68.4L221.6 67.5L221.9 68.6L222.2 67.7L222.5 68.5L222.8 67.7L223.1 68.5L223.4 67.5L223.7 68.6L224.0 67.7L224.3 68.6L224.6 67.4L224.9 68.7L225.2 67.5L225.5 68.3L225.8 67.6L226.1 68.4L226.4 67.2L226.7 68.2L227.0 67.4L227.3 68.3L227.6 67.3L227.9 68.5L228.2 67.5L228.5 68.2L228.8 67.5L229.1 68.4L229.4 67.4L229.7 68.4L230.0 67.7L230.3 68.4L230.6 67.5L230.9 68.5L231.2 67.6L231.5 68.5L231.8 67.5L232.1 68.6L232.4 67.8L232.7 68.8L233.0 67.6L233.3 68.8L233.6 67.7L233.9 68.6L234.2 67.8L234.5 68.5L234.8 67.8L235.1 68.7L235.4 67.6L235.7 68.4L236.0 67.6L236.3 68.5L236.6 67.5L236.9 68.5L237.2 67.4L237.5 68.6L237.8 67.6L238.1 68.8L238.4 67.5L238.7 68.5L239.0 67.6L239.3 68.5L239.6 67.6L239.9 68.3L240.2 67.5L240.5 68.6L240.8 67.3L241.1 68.3L241.4 67.6L241.7 68.4L242.0 67.6L242.3 68.5L242.6 67.7L242.9 68.4L243.2 67.6L243.5 68.8L243.8 67.5L244.1 68.9L244.4 67.6L244.7 68.7L245.0 67.6L245.3 68.5L245.6 67.8L245.9 68.7L246.2 67.8L246.5 68.8L246.8 68.0L247.1 68.9L247.4 67.8L247.7 68.4L248.0 67.6L248.3 68.5L248.6 67.3L248.9 68.4L249.2 67.4L249.5 68.5L249.8 67.5L250.1 68.8L250.4 67.8L250.7 68.7L251.0 67.9L251.3 68.9L251.6 67.9L251.9 69.0L252.2 67.8L252.5 68.7L252.8 67.9L253.1 68.8L253.4 67.7L253.7 68.8L254.0 67.7L254.3 68.6L254.6 67.8L254.9 68.5L255.2 67.8L255.5 68.6L255.8 67.5L256.1 68.5L256.4 67.4L256.7 68.7L257.0 67.6L257.3 68.6L257.6 67.7L257.9 68.5L258.2 67.8L258.5 68.7L258.8 67.7L259.1 68.6L259.4 67.8L259.7 68.6L260.0 67.7L260.3 68.4L260.6 67.5L260.9 68.2L261.2 67.5L261.5 68.1L262.1 67.9L262.1 105.8L263.0 109.4L263.2 163.3L263.4 196.8L264.9 309.0L265.2 307.6L265.5 305.9L265.8 305.5L266.1 304.0L266.4 303.9L266.7 302.4L267.0 302.6L267.3 301.3L267.6 301.8L267.9 300.4L268.2 301.2L268.5 299.9L268.8 300.9L269.1 299.3L269.4 300.5L269.7 299.4L270.0 300.6L270.3 299.1L270.6 300.3L270.9 299.2L271.2 300.7L271.5 299.2L271.8 300.1L272.1 299.1L272.4 300.3L272.7 298.7L273.0 299.9L273.3 298.9L273.6 299.8L273.9 298.6L274.2 300.1L274.5 298.8L274.8 300.1L275.1 298.7L275.4 300.0L275.7 298.2L276.0 299.9L276.3 298.8L276.6 299.9L276.9 297.8L277.2 299.5L277.5 298.4L277.8 299.3L278.1 298.0L278.4 298.9L278.7 297.8L279.0 298.7L279.3 297.4L279.6 298.8L279.9 297.7L280.2 299.0L280.5 297.5L280.8 299.0L281.1 297.7L281.4 299.1L281.7 297.9L282.0 298.8L282.3 297.9L282.6 298.7L282.9 297.8L283.2 298.8L283.5 297.6L283.8 298.7L284.1 297.7L284.4 298.6L284.7 297.7L285.0 298.8L285.3 297.8L285.6 298.7L285.9 297.7L286.2 299.0L286.5 297.6L286.8 298.9L287.1 297.6L287.4 298.6L287.7 297.3L288.0 298.7L288.3 297.4L288.6 298.5L288.9 297.2L289.2 298.4L289.5 297.4L289.8 298.3L290.1 297.3L290.4 298.2L290.7 297.2L291.0 298.1L291.3 297.1L291.6 298.1L291.9 297.2L292.2 298.4L292.5 297.4L292.8 298.3L293.1 297.4L293.4 298.5L293.7 297.4L294.0 299.0L294.3 297.4L294.6 298.4L294.9 297.3L295.2 298.8L295.5 297.3L295.8 298.3L296.1 296.9L296.4 298.1L296.7 296.9L297.0 297.9L297.3 296.9L297.6 297.9L297.9 296.8L298.2 297.9L298.5 296.6L298.8 297.6L299.1 296.1L299.4 297.7L299.7 296.7L300.0 297.9L300.3 296.7L300.6 298.2L300.9 296.8L301.2 298.0L301.5 297.2L301.8 298.1L302.1 297.1L302.4 298.0L302.7 296.9L303.0 298.4L303.3 296.9L303.6 298.3L303.9 297.0L304.2 297.7L304.5 296.4L304.8 297.7L305.1 296.5L305.4 297.4L305.7 296.1L306.0 297.7L306.3 296.0L306.6 297.3L306.9 296.2L307.2 297.3L307.5 296.2L307.8 297.4L308.1 296.3L308.4 297.5L308.7 296.4L309.0 297.4L309.3 296.2L309.6 297.5L309.9 296.2L310.2 297.1L310.5 296.1L310.8 297.4L311.1 295.9L311.4 296.9L311.7 296.0L312.0 297.0L312.3 295.9L312.6 297.0L312.9 296.3L313.2 297.2L313.5 296.3L313.8 297.4L314.1 296.3L314.4 297.4L314.7 296.4L315.0 297.2L315.3 296.2L315.6 297.3L315.9 295.9L316.2 297.0L316.5 295.8L316.8 296.8L317.1 295.7L317.4 296.8L317.7 295.4L318.0 297.0L318.3 295.8L318.6 296.9L318.9 295.7L319.2 296.8L319.5 295.3L319.8 296.7L320.1 295.4L320.4 296.8L320.7 295.8L321.0 297.1L321.3 295.6L321.6 297.2L321.9 295.8L322.2 296.7L322.5 295.7L322.8 297.1L323.1 295.7L323.4 297.0L323.7 295.2L324.0 296.8L324.3 295.6L324.6 297.1L324.9 295.7L325.2 296.7L325.5 295.6L325.8 296.8L326.1 295.8L326.4 296.9L326.7 295.8L327.0 297.2L327.3 295.5L327.6 296.8L327.9 295.8L328.2 296.8L328.5 295.5L328.8 297.1L329.1 295.8L329.4 296.8L329.7 295.9L330.0 297.0L330.3 295.8L330.6 296.8L330.9 295.7L331.2 296.9L331.5 295.8L331.8 296.8L332.1 295.5L332.4 296.6L332.7 295.7L333.0 296.8L333.3 295.6L333.6 296.6L333.9 295.4L334.2 296.3L334.5 295.1L334.8 296.2L335.1 294.9L335.4 295.9L335.7 294.5L336.0 295.5L336.3 294.4L336.6 295.3L336.9 294.4L337.2 295.7L337.5 294.9L337.8 296.3L338.1 294.9L338.4 296.2L338.7 295.1L339.0 296.5L339.3 295.5L339.6 296.5L339.9 295.3L340.2 296.7L340.5 295.2L340.8 296.2L341.1 294.7L341.4 295.9L341.7 294.9L342.0 296.6L342.3 294.9L342.6 296.3L342.9 295.1L343.2 296.5L343.5 295.1L343.8 296.4L344.1 295.4L344.4 296.7L344.7 295.6L345.0 296.8L345.3 295.7L345.6 296.9L345.9 295.7L346.2 296.7L346.5 295.7L346.8 296.8L347.1 295.7L347.4 297.0L347.7 295.5L348.0 296.9L348.3 295.3L348.6 296.5L348.9 295.4L349.2 296.5L349.5 295.2L349.8 296.3L350.1 295.4L350.4 296.4L350.7 295.2L351.0 296.4L351.3 295.0L351.6 296.3L351.9 295.2L352.2 296.2L352.5 295.2L352.8 296.1L353.1 295.1L353.4 296.4L353.7 295.3L354.0 296.1L354.3 295.0L354.6 296.1L354.9 295.3L355.2 296.2L355.5 295.2L355.8 296.4L356.1 295.2L356.4 296.2L356.7 295.2L357.0 296.3L357.0 295.4L357.1 295.0L357.1 294.6L357.1 294.2L357.2 293.8L357.2 293.4L357.2 293.0L357.3 292.6L357.3 292.2L357.3 291.8L357.3 291.4L357.3 291.0L357.4 290.6L357.4 290.2L357.4 289.8L357.4 289.4L357.4 289.0L357.5 288.6L357.5 288.2L357.5 287.8L357.5 287.4L357.5 287.0L357.5 286.6L357.5 286.2L357.6 285.8L357.6 285.4L357.6 285.0L357.6 284.6L357.6 284.2L357.6 283.8L357.6 283.4L357.7 283.0L357.7 282.6L357.7 282.2L357.7 281.8L357.7 281.4L357.8 281.0L357.8 280.6L357.8 280.2L357.9 279.8L357.9 279.4L357.9 279.0L358.0 278.6L358.0 278.2L358.1 277.8L358.1 277.4L358.2 277.0L358.2 276.6L358.3 276.2L358.3 275.8L358.4 275.4L358.4 275.0L358.5 274.6L358.5 274.2L358.5 273.8L358.6 273.4L358.6 273.0L358.6 272.6L358.6 272.2L358.7 271.8L358.7 271.4L358.7 271.0L358.8 270.6L358.8 270.2L358.8 269.8L358.8 269.4L358.8 269.0L358.9 268.6L358.9 268.2L358.9 267.8L358.9 267.4L358.9 267.0L359.0 266.6L359.0 266.2L359.0 265.8L359.0 265.4L359.0 265.0L359.0 264.6L359.1 264.2L359.1 263.8L359.1 263.4L359.1 263.0L359.1 262.6L359.1 262.2L359.1 261.8L359.1 261.4L359.1 261.0L359.2 260.6L359.2 260.2L359.2 259.8L359.2 259.4L359.2 259.0L359.2 258.6L359.2 258.2L359.2 257.8L359.2 257.4L359.2 257.0L359.3 256.6L359.3 256.2L359.3 255.8L359.3 255.4L359.3 255.0L359.3 254.6L359.3 254.2L359.3 253.8L359.3 253.4L359.3 253.0L359.3 252.6L359.4 252.2L359.4 251.8L359.4 251.4L359.4 251.0L359.4 250.6L359.4 250.2L359.4 249.8L359.4 249.4L359.4 249.0L359.4 248.6L359.4 248.2L359.4 247.8L359.5 247.4L359.5 247.0L359.5 246.6L359.5 246.2L359.5 245.8L359.5 245.4L359.5 245.0L359.5 244.6L359.5 244.2L359.5 243.8L359.5 243.4L359.5 243.0L359.6 242.6L359.6 242.2L359.6 241.8L359.6 241.4L359.6 241.0L359.6 240.6L359.6 240.2L359.6 239.8L359.6 239.4L359.6 239.0L359.6 238.6L359.6 238.2L359.7 237.8L359.7 237.4L359.7 237.0L359.7 236.6L359.7 236.2L359.7 235.8L359.7 235.4L359.7 235.0L359.7 234.6L359.7 234.2L359.7 233.8L359.7 233.4L359.8 233.0L359.8 232.6L359.8 232.2L359.8 231.8L359.8 231.4L359.8 231.0L359.8 230.6L359.8 230.2L359.8 229.8L359.8 229.4L359.9 229.0L359.9 228.6L359.9 228.2L359.9 227.8L359.9 227.4L359.9 227.0L359.9 226.6L359.9 226.2L359.9 225.8L360.0 225.4L360.0 225.0L360.0 224.6L360.0 224.2L360.0 223.8L360.0 223.4L360.0 223.0L360.0 222.6L360.0 222.2L360.1 221.8L360.1 221.4L360.1 221.0L360.1 220.6L360.1 220.2L360.1 219.8L360.1 219.4L360.1 219.0L360.1 218.6L360.2 218.2L360.2 217.8L360.2 217.4L360.2 217.0L360.2 216.6L360.2 216.2L360.2 215.8L360.2 215.4L360.2 215.0L360.3 214.6L360.3 214.2L360.3 213.8L360.3 213.4L360.3 213.0L360.3 212.6L360.3 212.2L360.3 211.8L360.4 211.4L360.4 211.0L360.4 210.6L360.4 210.2L360.4 209.8L360.4 209.4L360.4 209.0L360.4 208.6L360.4 208.2L360.5 207.8L360.5 207.4L360.5 207.0L360.5 206.6L360.5 206.2L360.5 205.8L360.5 205.4L360.5 205.0L360.6 204.6L360.6 204.2L360.6 203.8L360.6 203.4L360.6 203.0L360.6 202.6L360.6 202.2L360.6 201.8L360.7 201.4L360.7 201.0L360.7 200.6L360.7 200.2L360.7 199.8L360.7 199.4L360.7 199.0L360.7 198.6L360.8 198.2L360.8 197.8L360.8 197.4L360.8 197.0L360.8 196.6L360.8 196.2L360.8 195.8L360.8 195.4L360.9 195.0L360.9 194.6L360.9 194.2L360.9 193.8L360.9 193.4L360.9 193.0L360.9 192.6L360.9 192.2L361.0 191.8L361.0 191.4L361.0 191.0L361.0 190.6L361.0 190.2L361.0 189.8L361.0 189.4L361.1 189.0L361.1 188.6L361.1 188.2L361.1 187.8L361.1 187.4L361.1 187.0L360.4 186.6L360.4 186.2L360.4 185.8L360.4 185.4L360.4 185.0L360.5 184.6L360.5 184.2L360.5 183.8L360.5 183.4L360.5 183.0L360.5 182.6L360.5 182.2L360.5 181.8L360.5 181.4L360.6 181.0L360.6 180.6L360.6 180.2L360.6 179.8L360.6 179.4L360.6 179.0L360.6 178.6L360.6 178.2L360.6 177.8L360.7 177.4L360.7 177.0L360.7 176.6L360.7 176.2L360.7 175.8L360.7 175.4L360.7 175.0L360.7 174.6L360.8 174.2L360.8 173.8L360.8 173.4L360.8 173.0L360.8 172.6L360.8 172.2L360.9 171.8L360.9 171.4L360.9 171.0L360.9 170.6L360.9 170.2L361.0 169.8L361.0 169.4L361.0 169.0L361.0 168.6L361.1 168.2L361.1 167.8L361.1 167.4L361.1 167.0L361.1 166.6L361.2 166.2L361.2 165.8L361.2 165.4L361.2 165.0L361.3 164.6L361.3 164.2L361.3 163.8L361.4 163.4L361.4 163.0L361.4 162.6L361.5 162.2L361.5 161.8L361.5 161.4L361.5 161.0L361.6 160.6L361.6 160.2L361.6 159.8L361.7 159.4L361.7 159.0L361.7 158.6L361.8 158.2L361.8 157.8L361.8 157.4L361.9 157.0L361.9 156.6L361.9 156.2L361.9 155.8L362.0 155.4L362.0 155.0L362.0 154.6L362.1 154.2L362.1 153.8L362.1 153.4L362.2 153.0L362.2 152.6L362.2 152.2L362.3 151.8L362.3 151.4L362.3 151.0L362.4 150.6L362.4 150.2L362.4 149.8L362.5 149.4L362.5 149.0L362.5 148.6L362.6 148.2L362.6 147.8L362.6 147.4L362.7 147.0L362.7 146.6L362.7 146.2L362.8 145.8L362.8 145.4L362.8 145.0L362.9 144.6L362.9 144.2L362.9 143.8L363.0 143.4L363.0 143.0L363.0 142.6L363.1 142.2L363.1 141.8L363.1 141.4L363.2 141.0L363.2 140.6L363.3 140.2L363.3 139.8L363.3 139.4L363.4 139.0L363.4 138.6L363.4 138.2L363.4 137.8L363.5 137.4L363.5 137.0L363.5 136.6L363.6 136.2L363.6 135.8L363.6 135.4L363.6 135.0L363.7 134.6L363.7 134.2L363.7 133.8L363.8 133.4L363.8 133.0L363.8 132.6L363.8 132.2L363.9 131.8L363.9 131.4L363.9 131.0L364.0 130.6L364.0 130.2L364.0 129.8L364.1 129.4L364.1 129.0L364.1 128.6L364.1 128.2L364.2 127.8L364.2 127.4L364.2 127.0L364.3 126.6L364.3 126.2L364.3 125.8L364.4 125.4L364.4 125.0L364.5 124.6L364.5 124.2L364.5 123.8L364.6 123.4L364.6 123.0L364.6 122.6L364.7 122.2L364.7 121.8L364.8 121.4L364.8 121.0L364.8 120.6L364.9 120.2L364.9 119.8L365.0 119.4L365.0 119.0L365.0 118.6L365.1 118.2L365.1 117.8L365.2 117.4L365.2 117.0L365.2 116.6L365.3 116.2L365.3 115.8L365.4 115.4L365.4 115.0L365.5 114.6L365.5 114.2L365.6 113.8L365.6 113.4L365.7 113.0L365.7 112.6L365.7 112.2L365.8 111.8L365.8 111.4L365.9 111.0L365.9 110.6L366.0 110.2L366.0 109.8L366.1 109.4L366.1 109.0L366.2 108.6L366.2 108.2L366.3 107.8L366.3 107.4L366.4 107.0L366.4 106.6L366.5 106.2L366.5 105.8L366.6 105.4L366.6 105.0L366.7 104.6L366.7 104.2L366.8 103.8L366.8 103.4L366.9 103.0L366.9 102.6L367.0 102.2L367.1 101.8L367.1 101.4L367.2 101.0L367.2 100.6L367.3 100.2L367.3 99.8L367.4 99.4L367.5 99.0L367.5 98.6L367.6 98.2L367.6 97.8L367.7 97.4L367.8 97.0L367.8 96.6L367.9 96.2L368.0 95.8L368.0 95.4L368.1 95.0L368.2 94.6L368.2 94.2L368.3 93.8L368.4 93.4L368.5 93.0L368.5 92.6L368.6 92.2L368.7 91.8L368.8 91.4L368.8 91.0L368.9 90.6L369.0 90.2L369.1 89.8L369.2 89.4L369.3 89.0L369.4 88.6L369.5 88.2L369.6 87.8L369.7 87.4L369.8 87.0L369.9 86.6L370.0 86.2L370.2 85.8L370.3 85.4L370.4 85.0L370.5 84.6L370.7 84.2L370.8 83.8L370.9 83.4L371.1 83.0L371.2 82.6L371.4 82.2L371.5 81.8L371.7 81.4L371.9 81.0L372.0 80.6L372.2 80.2L372.4 79.8L372.6 79.4L372.8 79.0L373.0 78.6L373.2 78.2L373.4 77.8L373.6 77.4L373.9 77.0L374.1 76.6L374.4 76.2L374.7 75.8L375.0 75.4L375.3 75.0L375.6 74.6L376.0 74.2L376.3 73.8L376.7 73.4L377.1 73.0L377.5 72.6L377.9 72.2L378.3 71.8L378.7 71.4L379.2 71.0L379.7 70.6L380.2 70.2L380.8 69.8L381.5 69.4L382.3 69.0L383.3 68.6L383.6 68.2L383.9 67.9L384.2 68.0L384.5 67.6L384.8 67.8L385.1 67.4L385.4 67.6L385.7 67.0L386.0 67.6L386.3 66.8L386.6 67.3L386.9 66.5L387.2 67.4L387.5 66.3L387.8 67.3L388.1 66.5L388.4 67.5L388.7 66.5L389.0 67.8L389.3 66.4L389.6 67.2L389.9 65.7L390.2 66.8L390.5 65.7L390.8 66.4L391.1 65.0L391.4 66.4L391.7 65.2L392.0 66.1L392.3 65.1L392.6 66.1L392.9 65.1L393.2 66.2L393.5 65.3L393.8 67.1L394.1 65.8L394.4 67.2L394.7 66.2L395.0 67.5L395.3 66.3L395.6 67.7L395.9 66.6L396.2 67.5L396.5 66.5L396.8 67.6L397.1 66.6L397.4 67.6L397.7 66.5L398.0 67.7L398.3 66.2L398.6 67.4L398.9 65.9L399.2 67.4L399.5 66.0L399.8 67.5L400.1 66.2L400.4 67.1L400.7 66.2L401.0 67.2L401.3 66.2L401.6 67.1L401.9 65.9L402.2 67.2L402.5 66.0L402.8 67.2L403.1 66.0L403.4 67.2L403.7 65.8L404.0 67.1L404.3 65.9L404.6 67.2L404.9 65.6L405.2 66.9L405.5 66.1L405.8 67.5L406.1 66.3L406.4 67.8L406.7 66.8L407.0 68.0L407.3 66.7L407.6 67.9L407.9 66.6L408.2 67.8L408.5 66.7L408.8 67.7L409.1 66.4L409.4 67.6L409.7 66.4L410.0 67.8L410.3 66.3L410.6 68.0L410.9 66.2L411.2 67.6L411.5 66.5L411.8 67.5L412.1 66.5L412.4 67.5L412.7 66.5L413.0 67.5L413.3 66.5L413.6 67.6L413.9 66.0L414.2 67.7L414.5 66.5L414.8 67.9L415.1 66.7L415.4 68.0L415.7 66.6L416.0 67.7L416.3 66.4L416.6 67.5L416.9 66.4L417.2 67.7L417.5 66.3L417.8 67.4L418.1 66.6L418.4 67.7L418.7 66.5L419.0 67.7L419.3 66.5L419.6 67.2L419.9 65.7L420.2 67.2L420.5 65.8L420.8 67.0L421.1 65.7L421.4 66.9L421.7 65.9L422.0 67.0L422.3 66.1L422.6 67.5L422.9 66.4L423.2 67.5L423.5 66.7L423.8 67.9L424.1 67.0L424.4 68.2L424.7 66.9L425.0 68.2L425.3 67.2L425.6 68.1L425.9 66.5L426.2 67.4L426.5 66.2L426.8 67.2L427.1 65.9L427.4 67.5L427.7 65.8L428.0 67.4L428.3 66.0L428.6 67.2L428.9 66.0L429.2 67.2L429.5 66.3L429.8 67.4L430.1 66.1L430.4 67.5L430.7 66.5L431.0 67.7L431.3 66.6L431.6 67.6L431.9 66.7L432.2 67.6L432.5 66.8L432.8 67.6L433.1 66.7L433.4 67.7L433.7 66.5L434.0 67.7L434.3 66.3L434.6 67.6L434.9 66.2L435.2 68.0L435.5 66.2L435.8 67.1L436.1 65.6L436.4 67.3L436.7 65.0L437.0 66.7L437.3 65.3L437.6 66.9L437.9 65.9L438.2 67.0L438.5 66.1L438.8 67.5L439.1 66.2L439.4 67.2L439.7 66.0L440.0 67.2L440.3 65.9L440.6 66.7L440.9 65.4L441.2 66.8L441.5 65.7L441.8 67.0L442.1 65.8L442.4 66.8L442.7 65.7L443.0 66.7L443.3 65.8L443.6 67.2L443.9 66.0L444.2 67.4L444.5 66.4L444.8 67.5L445.1 66.4L445.4 67.4L445.7 66.1L446.0 67.3L446.3 66.1L446.6 67.6L446.9 65.9L447.2 67.1L447.5 66.3L447.8 67.3L448.1 66.5L448.4 67.7L448.7 66.4L449.0 67.7L449.3 66.7L449.6 68.2L449.9 67.2L450.2 68.3L450.5 67.3L450.8 68.7L451.1 67.7L451.4 68.5L451.7 67.0L452.0 68.3L452.3 66.8L452.6 67.9L452.9 66.6L453.2 67.7L453.5 66.7L453.8 67.5L454.1 66.3L454.4 67.5L454.7 66.3L455.0 67.5L455.3 66.4L455.6 67.2L455.9 65.8L456.2 67.1L456.5 65.9L456.8 66.8L457.1 65.8L457.4 66.9L457.7 65.6L458.0 67.1L458.3 65.7L458.6 66.9L458.9 65.7L459.2 66.9L459.5 65.6L459.8 67.0L460.1 65.4L460.4 66.7L460.7 65.5L461.0 66.7L461.3 65.7L461.6 67.1L461.9 65.3L462.2 67.1L462.5 65.9L462.8 66.8L463.1 66.0L463.4 66.9L463.7 65.8L464.0 67.2L464.3 65.8L464.6 66.8L464.9 65.5L465.2 66.7L465.5 65.8L465.8 66.7L466.1 65.5L466.4 66.8L466.7 65.4L467.0 67.0L467.3 65.6L467.6 66.9L467.9 65.9L468.2 67.0L468.5 65.9L468.8 67.2L469.1 66.0L469.4 67.2L469.7 65.9L470.0 66.8L470.3 65.8L470.6 66.8L470.9 65.8L471.2 66.8L471.5 65.7L471.8 66.7L472.1 65.3L472.4 66.9L472.7 65.4L473.0 66.7L473.3 65.5L473.6 66.4L473.9 65.5L474.2 66.5L474.5 65.3L474.8 67.1L475.1 65.5L475.4 67.2L475.7 66.0L476.0 66.9L476.3 66.0L476.6 67.6L476.9 66.2L477.2 67.3L477.5 66.4L477.8 67.4L478.1 66.4L478.4 67.4L478.7 66.3L479.0 67.2L479.3 66.3L479.6 67.5L479.9 66.5L480.2 67.5L480.5 66.4L480.8 68.0L481.1 66.8L481.4 68.0L481.7 66.6L482.0 67.8L482.3 66.7L482.6 67.6L482.9 66.8L483.2 67.6L483.5 66.5L483.8 67.4L484.1 65.9L484.4 67.7L484.7 66.2L485.0 67.1L485.3 66.0L485.6 67.4L485.9 65.8L486.2 67.3L486.5 66.0L486.8 67.5L487.1 66.6L487.4 67.3L487.7 66.1L488.0 67.2L488.3 65.8L488.6 66.6L488.9 65.6L489.2 66.9L489.5 65.9L489.8 67.4L490.1 66.5L490.4 67.8L490.7 67.0L491.0 68.3L491.3 67.1L491.6 68.1L491.9 67.1L492.2 68.2L492.5 67.0L492.8 68.3L493.1 66.8L493.4 68.4L493.7 66.4L494.0 67.5L494.3 66.3L494.6 67.8L494.9 66.2L495.2 67.0L495.5 65.6L495.8 67.2L496.1 65.5L496.4 66.7L496.7 65.6L497.0 67.2L497.3 65.8L497.6 66.9L497.9 65.9L498.2 67.0L498.5 66.0L498.8 67.5L499.1 66.3L499.4 67.2L499.7 65.8L500.0 67.0L500.3 65.7L500.6 66.7L500.9 65.1L501.2 66.6L501.5 65.3L501.8 66.4L502.1 65.6L502.4 66.6L502.7 65.8L503.0 66.8L503.3 65.9L503.6 67.5L503.9 66.2L504.2 67.3L504.5 66.2L504.8 67.6L505.1 66.5L505.4 67.6L505.7 66.5L506.0 67.3L506.3 66.4L506.6 67.5L506.9 66.0L507.2 67.2L507.5 65.7L507.8 67.2L508.1 66.2L508.4 67.2L508.7 66.0L509.0 67.2L509.3 65.9L509.6 67.1L509.9 66.3L510.2 67.3L510.5 66.4L510.8 67.8L511.1 66.6L511.4 67.4L511.7 66.4L512.0 67.2L512.3 65.9L512.6 66.8L512.9 65.7L513.2 66.7L513.5 65.6L513.8 67.1L514.1 66.0L514.4 67.2L514.7 66.0L515.0 67.3L515.3 66.2L515.6 67.5L515.9 66.0L516.2 67.2L516.5 66.1L516.8 66.9L517.1 65.8L517.4 66.9L517.7 65.7L518.0 66.9L518.3 65.5L518.6 66.8L518.9 65.8L519.2 66.8L519.5 65.9L519.8 67.1L520.1 66.2L520.4 67.6L520.7 66.3L521.0 67.5L521.3 66.4L521.6 67.5L521.9 66.2L522.2 67.1L522.5 65.7L522.8 66.7L523.1 65.5L523.4 67.1L523.7 66.1L524.0 67.4L524.3 66.7L524.6 68.0L524.9 67.0L525.2 68.1L525.5 66.8L525.8 68.2L526.1 66.5L526.4 67.2L526.7 66.0L527.0 67.2L527.3 65.9L527.6 67.2L527.9 66.5L528.2 68.1L528.5 66.4L528.8 68.2L529.1 66.9L529.4 67.9L529.7 66.6L530.0 67.4L530.3 66.3L530.6 67.2L530.9 65.7L531.2 66.7L531.5 65.7L531.8 67.1L532.1 66.1L532.4 67.3L532.7 66.1L533.0 67.5" fill="none" stroke="#55ab1e" stroke-width="3.8" stroke-linejoin="round" stroke-linecap="round"/>
<path d="M81.5 68.4L81.8 67.6L82.1 68.6L82.4 67.7L82.7 68.4L83.0 67.6L83.3 68.7L83.6 67.5L83.9 68.5L84.2 67.6L84.5 68.3L84.8 67.5L85.1 68.4L85.4 67.4L85.7 68.5L86.0 67.5L86.3 68.4L86.6 67.6L86.9 68.4L87.2 67.6L87.5 68.6L87.8 67.3L88.1 68.2L88.4 67.6L88.7 68.2L89.0 67.6L89.3 68.3L89.6 67.4L89.9 68.4L90.2 67.7L90.5 68.3L90.8 67.7L91.1 68.4L91.4 67.6L91.7 68.4L92.0 67.8L92.3 68.4L92.6 67.6L92.9 68.6L93.2 67.6L93.5 68.5L93.8 67.7L94.1 68.6L94.4 67.7L94.7 68.4L95.0 67.3L95.3 68.5L95.6 67.5L95.9 68.1L96.2 67.2L96.5 68.0L96.8 67.3L97.1 68.5L97.4 67.3L97.7 68.2L98.0 67.5L98.3 68.5L98.6 67.7L98.9 68.5L99.2 67.3L99.5 68.6L99.8 67.8L100.1 68.6L100.4 67.9L100.7 68.7L101.0 67.8L101.3 68.5L101.6 67.8L101.9 68.7L102.2 67.7L102.5 68.6L102.8 67.8L103.1 68.7L103.4 67.8L103.7 68.5L104.0 67.8L104.3 68.4L104.6 67.6L104.9 68.7L105.2 67.3L105.5 68.4L105.8 67.6L106.1 68.3L106.4 67.4L106.7 68.3L107.0 67.7L107.3 68.4L107.6 67.8L107.9 68.7L108.2 67.8L108.5 68.7L108.8 67.9L109.1 68.7L109.4 67.8L109.7 68.5L110.0 67.7L110.3 68.6L110.6 67.7L110.9 68.4L111.2 67.7L111.5 68.3L111.8 67.5L112.1 68.6L112.4 67.6L112.7 68.5L113.0 67.4L113.3 68.6L113.6 67.4L113.9 68.5L114.2 67.2L114.5 68.4L114.8 67.5L115.1 68.3L115.4 67.2L115.7 68.2L116.0 67.4L116.3 68.2L116.6 67.4L116.9 68.3L117.2 67.6L117.5 68.3L117.8 67.6L118.1 68.7L118.4 67.7L118.7 68.4L119.0 67.7L119.3 68.6L119.6 67.6L119.9 68.7L120.2 67.7L120.5 68.5L120.8 67.9L121.1 69.0L121.4 67.5L121.7 68.7L122.0 67.9L122.3 68.8L122.6 67.9L122.9 68.7L123.2 67.7L123.5 68.8L123.8 67.7L124.1 68.8L124.4 67.7L124.7 68.6L125.0 67.5L125.3 68.8L125.6 67.9L125.9 68.7L126.2 67.9L126.5 68.5L126.8 67.7L127.1 68.7L127.4 67.5L127.7 68.7L128.0 67.5L128.3 68.6L128.6 67.5L128.9 68.4L129.2 67.6L129.5 68.2L129.8 67.6L130.1 68.3L130.4 67.6L130.7 68.3L131.0 67.6L131.3 68.4L131.6 67.6L131.9 68.3L132.2 67.4L132.5 68.3L132.8 67.6L133.1 68.3L133.4 67.6L133.7 68.4L134.0 67.5L134.3 68.6L134.6 67.4L134.9 68.3L135.2 67.6L135.5 68.5L135.8 67.6L136.1 68.4L136.4 67.5L136.7 68.7L137.0 67.6L137.3 68.4L137.6 67.5L137.9 68.4L138.2 67.3L138.5 68.2L138.8 67.4L139.1 68.1L139.4 67.3L139.7 68.3L140.0 67.2L140.3 68.4L140.6 67.3L140.9 68.4L141.2 67.8L141.5 68.6L141.8 67.8L142.1 68.6L142.4 67.8L142.7 68.6L143.0 67.8L143.3 68.6L143.6 67.7L143.9 68.5L144.2 67.9L144.5 68.6L144.8 67.7L145.1 68.8L145.4 67.8L145.7 68.5L146.0 67.4L146.3 68.4L146.6 67.7L146.9 68.8L147.2 67.7L147.5 68.5L147.8 67.7L148.1 68.5L148.4 67.7L148.7 68.6L149.0 67.6L149.3 68.5L149.6 67.4L149.9 68.4L150.2 67.7L150.5 68.4L150.8 67.5L151.1 68.3L151.4 67.5L151.7 68.4L152.0 67.5L152.3 68.4L152.6 67.4L152.9 68.5L153.2 67.3L153.5 68.5L153.8 67.3L154.1 68.2L154.4 67.4L154.7 68.3L155.0 67.3L155.3 68.2L155.6 67.6L155.9 68.4L156.2 67.6L156.5 68.4L156.8 67.7L157.1 68.6L157.4 67.4L157.7 68.5L158.0 67.9L158.3 68.6L158.6 67.9L158.9 68.8L159.2 67.9L159.5 68.6L159.8 68.0L160.1 68.8L160.4 67.9L160.7 68.6L161.0 67.8L161.3 68.9L161.6 67.9L161.9 68.8L162.2 67.9L162.5 68.8L162.8 67.8L163.1 68.5L163.4 67.5L163.7 68.5L164.0 67.4L164.3 68.4L164.6 67.6L164.9 68.6L165.2 67.9L165.5 68.5L165.8 67.9L166.1 68.7L166.4 67.9L166.7 68.7L167.0 67.9L167.3 68.7L167.6 67.9L167.9 68.7L168.2 67.6L168.5 68.8L168.8 67.7L169.1 68.8L169.4 67.7L169.7 68.7L170.0 67.9L170.3 68.8L170.6 67.9L170.9 68.7L171.2 68.0L171.5 68.8L171.8 67.4L172.1 68.7L172.4 67.9L172.7 68.7L173.0 67.9L173.3 68.6L173.6 67.8L173.9 68.5L174.2 67.6L174.5 68.6L174.8 67.8L175.1 68.5L175.4 67.5L175.7 68.5L176.0 67.6L176.3 68.3L176.6 67.4L176.9 68.4L177.2 67.8L177.5 68.6L177.8 67.7L178.1 68.6L178.4 67.7L178.7 69.0L179.0 67.9L179.3 68.9L179.6 67.8L179.9 68.6L180.2 67.7L180.5 68.4L180.8 67.6L181.1 68.7L181.4 67.5L181.7 68.5L182.0 67.4L182.3 68.5L182.6 67.4L182.9 68.3L183.2 67.6L183.5 68.3L183.8 67.4L184.1 68.4L184.4 67.6L184.7 68.3L185.0 67.4L185.3 68.3L185.6 67.4L185.9 68.3L186.2 67.3L186.5 68.3L186.8 67.4L187.1 68.3L187.4 67.1L187.7 68.4L188.0 67.7L188.3 68.4L188.6 67.7L188.9 68.7L189.2 67.7L189.5 68.6L189.8 67.5L190.1 68.5L190.4 67.6L190.7 68.7L191.0 67.6L191.3 68.8L191.6 67.8L191.9 68.6L192.2 67.6L192.5 68.7L192.8 67.5L193.1 68.7L193.4 67.7L193.7 68.7L194.0 67.7L194.3 68.7L194.6 67.7L194.9 68.5L195.2 67.3L195.5 68.7L195.8 67.6L196.1 68.4L196.4 67.6L196.7 68.4L197.0 67.6L197.3 68.5L197.6 67.4L197.9 68.6L198.2 68.0L198.5 69.1L198.8 67.9L199.1 68.8L199.4 67.9L199.7 68.8L200.0 67.8L200.3 68.9L200.6 67.6L200.9 68.5L201.2 67.5L201.5 68.3L201.8 67.5L202.1 68.4L202.4 67.6L202.7 68.5L203.0 67.6L203.3 68.3L203.6 67.5L203.9 68.4L204.2 67.5L204.5 68.6L204.8 67.6L205.1 68.6L205.4 67.8L205.7 68.7L206.0 67.6L206.3 68.8L206.6 67.9L206.9 68.8L207.2 67.9L207.5 68.8L207.8 67.8L208.1 68.9L208.4 67.6L208.7 68.7L209.0 68.0L209.3 68.9L209.6 68.0L209.9 68.6L210.2 67.8L210.5 68.8L210.8 67.7L211.1 68.6L211.4 67.6L211.7 68.7L212.0 67.6L212.3 68.5L212.6 67.4L212.9 68.3L213.2 67.3L213.5 68.3L213.8 67.5L214.1 68.2L214.4 67.0L214.7 68.2L215.0 67.5L215.3 68.4L215.6 67.5L215.9 68.4L216.2 67.5L216.5 68.3L216.8 67.6L217.1 68.8L217.4 67.5L217.7 68.5L218.0 67.6L218.3 68.9L218.6 67.5L218.9 68.6L219.2 67.8L219.5 68.6L219.8 67.7L220.1 68.5L220.4 67.6L220.7 69.0L221.0 67.8L221.3 68.6L221.6 67.8L221.9 68.5L222.2 67.6L222.5 68.9L222.8 67.7L223.1 68.8L223.4 67.8L223.7 68.8L224.0 68.0L224.3 68.7L224.6 67.7L224.9 68.6L225.2 67.8L225.5 68.4L225.8 67.6L226.1 68.5L226.4 67.5L226.7 68.7L227.0 67.5L227.3 68.3L227.6 67.5L227.9 68.4L228.2 67.8L228.5 68.6L228.8 67.8L229.1 68.6L229.4 67.8L229.7 68.6L230.0 67.7L230.3 68.5L230.6 67.4L230.9 68.5L231.2 67.6L231.5 68.3L231.8 67.6L232.1 68.6L232.4 67.6L232.7 68.6L233.0 67.9L233.3 68.8L233.6 67.7L233.9 68.7L234.2 67.8L234.5 68.7L234.8 67.6L235.1 68.8L235.4 67.9L235.7 68.5L236.0 67.8L236.3 68.5L236.6 67.7L236.9 68.7L237.2 67.6L237.5 68.6L237.8 67.8L238.1 68.9L238.4 67.8L238.7 68.6L239.0 67.6L239.3 68.6L239.6 67.8L239.9 68.5L240.2 67.6L240.5 68.6L240.8 67.5L241.1 68.4L241.4 67.5L241.7 68.5L242.0 67.5L242.3 68.3L242.6 67.5L242.9 68.3L243.2 67.5L243.5 68.6L243.8 67.5L244.1 68.3L244.4 67.4L244.7 68.1L245.0 67.2L245.3 68.2L245.6 67.3L245.9 68.6L246.2 67.3L246.5 68.3L246.8 67.6L247.1 68.3L247.4 67.6L247.7 68.3L248.0 67.5L248.3 68.4L248.6 67.5L248.9 68.6L249.2 67.5L249.5 68.6L249.8 67.4L250.1 68.5L250.4 67.6L250.7 68.3L251.0 67.4L251.3 68.5L251.6 67.5L251.9 68.5L252.2 67.6L252.5 68.4L252.8 67.7L253.1 68.8L253.4 67.8L253.7 68.6L254.0 67.9L254.3 68.7L254.6 68.0L254.9 68.8L255.2 67.8L255.5 68.8L255.8 67.8L256.1 68.7L256.4 68.0L256.7 68.7L257.0 68.0L257.3 68.7L257.6 67.6L257.9 68.6L258.2 67.7L258.5 68.6L258.8 67.5L259.1 68.5L259.4 67.6L259.7 68.5L260.0 67.7L260.3 68.5L260.6 67.7L260.9 68.6L261.2 67.4L261.5 68.5L262.1 67.9L262.1 105.8L263.0 109.4L263.2 163.3L263.4 196.8L264.7 284.3L265.0 283.0L265.3 281.4L265.6 281.1L265.9 279.6L266.2 279.4L266.5 278.1L266.8 278.6L267.1 276.8L267.4 277.8L267.7 276.1L268.0 277.3L268.3 276.3L268.6 277.1L268.9 275.8L269.2 276.7L269.5 275.5L269.8 276.5L270.1 275.4L270.4 276.3L270.7 275.3L271.0 276.1L271.3 274.9L271.6 276.1L271.9 275.0L272.2 276.5L272.5 274.8L272.8 275.9L273.1 274.7L273.4 276.2L273.7 274.6L274.0 275.8L274.3 274.4L274.6 275.5L274.9 274.5L275.2 275.5L275.5 274.3L275.8 275.0L276.1 274.0L276.4 275.2L276.7 273.8L277.0 274.9L277.3 273.8L277.6 275.3L277.9 274.2L278.2 275.4L278.5 274.2L278.8 275.4L279.1 274.5L279.4 275.5L279.7 274.3L280.0 275.4L280.3 274.2L280.6 275.6L280.9 273.8L281.2 275.0L281.5 273.7L281.8 275.0L282.1 274.1L282.4 275.6L282.7 274.4L283.0 275.8L283.3 274.5L283.6 275.8L283.9 274.9L284.2 276.1L284.5 274.9L284.8 275.8L285.1 274.6L285.4 275.6L285.7 274.2L286.0 275.4L286.3 273.9L286.6 275.0L286.9 273.8L287.2 274.9L287.5 273.7L287.8 274.9L288.1 274.0L288.4 275.0L288.7 274.0L289.0 275.0L289.3 274.1L289.6 275.2L289.9 273.9L290.2 274.9L290.5 273.7L290.8 274.5L291.1 273.6L291.4 274.8L291.7 273.2L292.0 274.5L292.3 273.5L292.6 274.5L292.9 273.4L293.2 274.8L293.5 273.6L293.8 274.5L294.1 273.4L294.4 274.7L294.7 273.5L295.0 274.4L295.3 273.4L295.6 274.3L295.9 273.4L296.2 274.3L296.5 273.3L296.8 274.3L297.1 273.4L297.4 274.5L297.7 273.4L298.0 274.7L298.3 273.7L298.6 274.8L298.9 273.9L299.2 275.3L299.5 273.7L299.8 274.7L300.1 273.7L300.4 274.8L300.7 273.6L301.0 274.8L301.3 273.3L301.6 274.4L301.9 273.4L302.2 274.4L302.5 273.3L302.8 274.4L303.1 273.5L303.4 274.5L303.7 273.4L304.0 274.6L304.3 273.4L304.6 274.9L304.9 273.2L305.2 274.8L305.5 273.0L305.8 274.2L306.1 273.0L306.4 274.0L306.7 272.9L307.0 274.1L307.3 273.0L307.6 274.2L307.9 272.8L308.2 274.4L308.5 273.0L308.8 274.1L309.1 272.8L309.4 274.1L309.7 273.2L310.0 274.4L310.3 273.0L310.6 274.5L310.9 273.0L311.2 274.5L311.5 273.5L311.8 274.4L312.1 273.2L312.4 274.3L312.7 273.2L313.0 274.1L313.3 272.4L313.6 273.9L313.9 272.7L314.2 274.0L314.5 272.4L314.8 273.8L315.1 272.6L315.4 273.6L315.7 272.4L316.0 273.4L316.3 272.1L316.6 273.7L316.9 272.4L317.2 273.6L317.5 272.6L317.8 273.8L318.1 272.7L318.4 273.9L318.7 272.9L319.0 274.0L319.3 272.7L319.6 274.1L319.9 272.8L320.2 273.7L320.5 272.6L320.8 273.7L321.1 272.5L321.4 273.6L321.7 272.5L322.0 273.7L322.3 272.6L322.6 273.8L322.9 272.2L323.2 273.6L323.5 272.4L323.8 273.7L324.1 272.6L324.4 274.1L324.7 272.8L325.0 274.1L325.3 272.6L325.6 274.1L325.9 273.0L326.2 274.0L326.5 273.2L326.8 274.0L327.1 272.6L327.4 274.2L327.7 272.9L328.0 273.8L328.3 272.4L328.6 273.5L328.9 272.4L329.2 273.5L329.5 272.5L329.8 273.7L330.1 272.7L330.4 273.6L330.7 272.5L331.0 273.8L331.3 272.8L331.6 274.0L331.9 272.7L332.2 274.2L332.5 272.4L332.8 273.9L333.1 272.6L333.4 273.4L333.7 272.5L334.0 273.3L334.3 272.4L334.6 273.5L334.9 272.4L335.2 273.9L335.5 272.4L335.8 274.4L336.1 273.0L336.4 274.3L336.7 273.0L337.0 274.1L337.3 273.1L337.6 274.1L337.9 272.8L338.2 274.1L338.5 272.9L338.8 273.9L339.1 272.7L339.4 274.1L339.7 272.8L340.0 273.9L340.3 272.6L340.6 273.9L340.9 272.4L341.2 273.3L341.5 271.8L341.8 273.4L342.1 272.1L342.4 273.3L342.7 272.4L343.0 273.2L343.3 272.0L343.6 273.4L343.9 272.3L344.2 273.6L344.5 272.2L344.8 273.2L345.1 272.2L345.4 273.3L345.7 272.1L346.0 273.2L346.3 272.1L346.6 273.1L346.9 272.0L347.2 273.1L347.5 271.9L347.8 273.3L348.1 272.3L348.4 273.4L348.7 271.9L349.0 273.6L349.3 271.9L349.6 273.5L349.9 272.3L350.2 273.5L350.5 272.6L350.8 273.5L351.1 272.5L351.4 273.6L351.7 272.5L352.0 273.3L352.3 271.8L352.6 273.2L352.9 271.8L353.2 272.9L353.5 271.9L353.8 272.8L354.1 271.6L354.4 272.9L354.7 271.9L355.0 273.1L355.3 271.4L355.6 273.2L355.9 271.8L356.2 273.7L356.5 272.3L356.8 273.4L357.1 271.8L357.4 273.2L357.5 272.3L357.6 271.9L357.6 271.5L357.7 271.1L357.7 270.7L357.7 270.3L357.7 269.9L357.8 269.5L357.8 269.1L357.8 268.7L357.9 268.3L357.9 267.9L357.9 267.5L357.9 267.1L357.9 266.7L358.0 266.3L358.0 265.9L358.0 265.5L358.0 265.1L358.0 264.7L358.0 264.3L358.0 263.9L358.1 263.5L358.1 263.1L358.1 262.7L358.1 262.3L358.1 261.9L358.1 261.5L358.2 261.1L358.2 260.7L358.2 260.3L358.2 259.9L358.3 259.5L358.3 259.1L358.3 258.7L358.4 258.3L358.4 257.9L358.4 257.5L358.5 257.1L358.5 256.7L358.6 256.3L358.7 255.9L358.7 255.5L358.8 255.1L358.8 254.7L358.9 254.3L358.9 253.9L359.0 253.5L359.0 253.1L359.0 252.7L359.1 252.3L359.1 251.9L359.1 251.5L359.2 251.1L359.2 250.7L359.2 250.3L359.3 249.9L359.3 249.5L359.3 249.1L359.3 248.7L359.4 248.3L359.4 247.9L359.4 247.5L359.4 247.1L359.4 246.7L359.5 246.3L359.5 245.9L359.5 245.5L359.5 245.1L359.5 244.7L359.6 244.3L359.6 243.9L359.6 243.5L359.6 243.1L359.6 242.7L359.6 242.3L359.6 241.9L359.6 241.5L359.7 241.1L359.7 240.7L359.7 240.3L359.7 239.9L359.7 239.5L359.7 239.1L359.7 238.7L359.7 238.3L359.7 237.9L359.8 237.5L359.8 237.1L359.8 236.7L359.8 236.3L359.8 235.9L359.8 235.5L359.8 235.1L359.8 234.7L359.8 234.3L359.8 233.9L359.9 233.5L359.9 233.1L359.9 232.7L359.9 232.3L359.9 231.9L359.9 231.5L359.9 231.1L359.9 230.7L359.9 230.3L359.9 229.9L359.9 229.5L360.0 229.1L360.0 228.7L360.0 228.3L360.0 227.9L360.0 227.5L360.0 227.1L360.0 226.7L360.0 226.3L360.0 225.9L360.0 225.5L360.0 225.1L360.1 224.7L360.1 224.3L360.1 223.9L360.1 223.5L360.1 223.1L360.1 222.7L360.1 222.3L360.1 221.9L360.1 221.5L360.1 221.1L360.1 220.7L360.2 220.3L360.2 219.9L360.2 219.5L360.2 219.1L360.2 218.7L360.2 218.3L360.2 217.9L360.2 217.5L360.2 217.1L360.2 216.7L360.3 216.3L360.3 215.9L360.3 215.5L360.3 215.1L360.3 214.7L360.3 214.3L360.3 213.9L360.3 213.5L360.3 213.1L360.4 212.7L360.4 212.3L360.4 211.9L360.4 211.5L360.4 211.1L360.4 210.7L360.4 210.3L360.4 209.9L360.4 209.5L360.5 209.1L360.5 208.7L360.5 208.3L360.5 207.9L360.5 207.5L360.5 207.1L360.5 206.7L360.5 206.3L360.6 205.9L360.6 205.5L360.6 205.1L360.6 204.7L360.6 204.3L360.6 203.9L360.6 203.5L360.7 203.1L360.7 202.7L360.7 202.3L360.7 201.9L360.7 201.5L360.7 201.1L360.7 200.7L360.7 200.3L360.8 199.9L360.8 199.5L360.8 199.1L360.8 198.7L360.8 198.3L360.8 197.9L360.8 197.5L360.8 197.1L360.9 196.7L360.9 196.3L360.9 195.9L360.9 195.5L360.9 195.1L360.9 194.7L360.9 194.3L360.9 193.9L361.0 193.5L361.0 193.1L361.0 192.7L361.0 192.3L361.0 191.9L361.0 191.5L361.0 191.1L361.1 190.7L361.1 190.3L361.1 189.9L361.1 189.5L361.1 189.1L361.1 188.7L361.1 188.3L361.2 187.9L361.2 187.5L361.2 187.1L360.4 186.7L360.4 186.3L360.4 185.9L360.4 185.5L360.4 185.1L360.5 184.7L360.5 184.3L360.5 183.9L360.5 183.5L360.5 183.1L360.5 182.7L360.5 182.3L360.5 181.9L360.5 181.5L360.5 181.1L360.6 180.7L360.6 180.3L360.6 179.9L360.6 179.5L360.6 179.1L360.6 178.7L360.6 178.3L360.6 177.9L360.6 177.5L360.7 177.1L360.7 176.7L360.7 176.3L360.7 175.9L360.7 175.5L360.7 175.1L360.7 174.7L360.8 174.3L360.8 173.9L360.8 173.5L360.8 173.1L360.8 172.7L360.8 172.3L360.9 171.9L360.9 171.5L360.9 171.1L360.9 170.7L360.9 170.3L361.0 169.9L361.0 169.5L361.0 169.1L361.0 168.7L361.0 168.3L361.1 167.9L361.1 167.5L361.1 167.1L361.1 166.7L361.2 166.3L361.2 165.9L361.2 165.5L361.2 165.1L361.3 164.7L361.3 164.3L361.3 163.9L361.4 163.5L361.4 163.1L361.4 162.7L361.4 162.3L361.5 161.9L361.5 161.5L361.5 161.1L361.6 160.7L361.6 160.3L361.6 159.9L361.7 159.5L361.7 159.1L361.7 158.7L361.8 158.3L361.8 157.9L361.8 157.5L361.9 157.1L361.9 156.7L361.9 156.3L361.9 155.9L362.0 155.5L362.0 155.1L362.0 154.7L362.1 154.3L362.1 153.9L362.1 153.5L362.2 153.1L362.2 152.7L362.2 152.3L362.3 151.9L362.3 151.5L362.3 151.1L362.4 150.7L362.4 150.3L362.4 149.9L362.5 149.5L362.5 149.1L362.5 148.7L362.6 148.3L362.6 147.9L362.6 147.5L362.7 147.1L362.7 146.7L362.7 146.3L362.8 145.9L362.8 145.5L362.8 145.1L362.9 144.7L362.9 144.3L362.9 143.9L363.0 143.5L363.0 143.1L363.0 142.7L363.1 142.3L363.1 141.9L363.1 141.5L363.2 141.1L363.2 140.7L363.2 140.3L363.3 139.9L363.3 139.5L363.3 139.1L363.4 138.7L363.4 138.3L363.4 137.9L363.5 137.5L363.5 137.1L363.5 136.7L363.6 136.3L363.6 135.9L363.6 135.5L363.6 135.1L363.7 134.7L363.7 134.3L363.7 133.9L363.8 133.5L363.8 133.1L363.8 132.7L363.8 132.3L363.9 131.9L363.9 131.5L363.9 131.1L364.0 130.7L364.0 130.3L364.0 129.9L364.0 129.5L364.1 129.1L364.1 128.7L364.1 128.3L364.2 127.9L364.2 127.5L364.2 127.1L364.3 126.7L364.3 126.3L364.3 125.9L364.4 125.5L364.4 125.1L364.4 124.7L364.5 124.3L364.5 123.9L364.6 123.5L364.6 123.1L364.6 122.7L364.7 122.3L364.7 121.9L364.7 121.5L364.8 121.1L364.8 120.7L364.9 120.3L364.9 119.9L364.9 119.5L365.0 119.1L365.0 118.7L365.1 118.3L365.1 117.9L365.2 117.5L365.2 117.1L365.2 116.7L365.3 116.3L365.3 115.9L365.4 115.5L365.4 115.1L365.5 114.7L365.5 114.3L365.5 113.9L365.6 113.5L365.6 113.1L365.7 112.7L365.7 112.3L365.8 111.9L365.8 111.5L365.9 111.1L365.9 110.7L366.0 110.3L366.0 109.9L366.1 109.5L366.1 109.1L366.2 108.7L366.2 108.3L366.3 107.9L366.3 107.5L366.4 107.1L366.4 106.7L366.5 106.3L366.5 105.9L366.6 105.5L366.6 105.1L366.7 104.7L366.7 104.3L366.8 103.9L366.8 103.5L366.9 103.1L366.9 102.7L367.0 102.3L367.0 101.9L367.1 101.5L367.2 101.1L367.2 100.7L367.3 100.3L367.3 99.9L367.4 99.5L367.4 99.1L367.5 98.7L367.6 98.3L367.6 97.9L367.7 97.5L367.8 97.1L367.8 96.7L367.9 96.3L368.0 95.9L368.0 95.5L368.1 95.1L368.2 94.7L368.2 94.3L368.3 93.9L368.4 93.5L368.4 93.1L368.5 92.7L368.6 92.3L368.7 91.9L368.7 91.5L368.8 91.1L368.9 90.7L369.0 90.3L369.1 89.9L369.1 89.5L369.2 89.1L369.3 88.7L369.4 88.3L369.5 87.9L369.7 87.5L369.8 87.1L369.9 86.7L370.0 86.3L370.1 85.9L370.3 85.5L370.4 85.1L370.5 84.7L370.6 84.3L370.8 83.9L370.9 83.5L371.1 83.1L371.2 82.7L371.4 82.3L371.5 81.9L371.7 81.5L371.8 81.1L372.0 80.7L372.2 80.3L372.4 79.9L372.5 79.5L372.7 79.1L372.9 78.7L373.1 78.3L373.4 77.9L373.6 77.5L373.8 77.1L374.1 76.7L374.3 76.3L374.6 75.9L374.9 75.5L375.2 75.1L375.5 74.7L375.9 74.3L376.3 73.9L376.6 73.5L377.0 73.1L377.4 72.7L377.8 72.3L378.2 71.9L378.7 71.5L379.1 71.1L379.6 70.7L380.1 70.3L380.7 69.9L381.4 69.5L382.2 69.1L383.1 68.7L383.4 68.3L383.7 68.0L384.0 67.9L384.3 67.5L384.6 67.6L384.9 67.1L385.2 67.3L385.5 66.8L385.8 67.1L386.1 66.5L386.4 66.9L386.7 66.0L387.0 66.8L387.3 65.8L387.6 66.8L387.9 65.6L388.2 66.8L388.5 65.5L388.8 66.6L389.1 65.8L389.4 66.8L389.7 65.8L390.0 66.8L390.3 65.8L390.6 66.9L390.9 65.6L391.2 66.7L391.5 65.7L391.8 66.5L392.1 65.5L392.4 66.6L392.7 65.4L393.0 66.2L393.3 65.3L393.6 66.9L393.9 65.4L394.2 66.8L394.5 65.8L394.8 67.2L395.1 65.8L395.4 67.4L395.7 66.0L396.0 67.3L396.3 66.5L396.6 67.7L396.9 66.6L397.2 67.8L397.5 66.4L397.8 67.3L398.1 65.9L398.4 67.0L398.7 65.7L399.0 66.9L399.3 65.6L399.6 66.7L399.9 65.7L400.2 67.0L400.5 65.7L400.8 66.9L401.1 65.8L401.4 67.1L401.7 66.2L402.0 67.6L402.3 66.5L402.6 67.7L402.9 66.8L403.2 67.8L403.5 66.6L403.8 67.4L404.1 66.3L404.4 67.5L404.7 65.9L405.0 66.8L405.3 65.8L405.6 66.9L405.9 65.5L406.2 66.8L406.5 65.7L406.8 66.7L407.1 65.7L407.4 66.8L407.7 65.6L408.0 66.6L408.3 65.5L408.6 66.9L408.9 65.6L409.2 66.6L409.5 65.5L409.8 67.1L410.1 66.1L410.4 67.4L410.7 66.1L411.0 67.5L411.3 66.0L411.6 67.3L411.9 66.4L412.2 67.4L412.5 66.4L412.8 67.4L413.1 66.1L413.4 67.6L413.7 66.4L414.0 67.4L414.3 65.8L414.6 67.2L414.9 66.0L415.2 67.5L415.5 66.0L415.8 67.1L416.1 66.2L416.4 67.2L416.7 66.2L417.0 67.6L417.3 66.3L417.6 67.3L417.9 66.3L418.2 67.6L418.5 66.7L418.8 68.2L419.1 66.7L419.4 67.8L419.7 66.9L420.0 67.9L420.3 66.3L420.6 67.8L420.9 66.5L421.2 67.6L421.5 66.3L421.8 67.3L422.1 65.8L422.4 66.8L422.7 65.2L423.0 66.6L423.3 65.5L423.6 67.0L423.9 65.9L424.2 67.1L424.5 65.9L424.8 67.1L425.1 66.3L425.4 67.1L425.7 66.2L426.0 67.5L426.3 66.2L426.6 67.5L426.9 66.0L427.2 67.3L427.5 66.2L427.8 67.3L428.1 66.3L428.4 67.4L428.7 66.6L429.0 67.5L429.3 66.4L429.6 67.8L429.9 66.4L430.2 67.4L430.5 66.0L430.8 67.0L431.1 66.1L431.4 67.1L431.7 65.9L432.0 67.5L432.3 66.0L432.6 67.3L432.9 65.8L433.2 67.1L433.5 66.0L433.8 67.2L434.1 65.7L434.4 67.0L434.7 65.8L435.0 67.1L435.3 65.9L435.6 66.7L435.9 65.3L436.2 66.6L436.5 65.2L436.8 66.8L437.1 65.4L437.4 66.8L437.7 65.6L438.0 66.9L438.3 65.4L438.6 67.1L438.9 66.1L439.2 67.6L439.5 66.1L439.8 67.0L440.1 65.7L440.4 67.2L440.7 65.9L441.0 66.9L441.3 65.5L441.6 67.2L441.9 66.0L442.2 67.3L442.5 66.4L442.8 67.4L443.1 66.3L443.4 67.2L443.7 65.8L444.0 67.0L444.3 65.9L444.6 66.9L444.9 65.2L445.2 66.8L445.5 65.6L445.8 66.8L446.1 65.7L446.4 66.9L446.7 65.5L447.0 67.0L447.3 65.9L447.6 67.0L447.9 65.7L448.2 66.9L448.5 65.4L448.8 66.8L449.1 65.6L449.4 67.0L449.7 65.3L450.0 66.7L450.3 65.8L450.6 66.6L450.9 65.6L451.2 66.7L451.5 65.8L451.8 67.3L452.1 66.2L452.4 67.6L452.7 66.2L453.0 67.6L453.3 66.4L453.6 67.3L453.9 65.8L454.2 67.1L454.5 66.1L454.8 67.4L455.1 65.9L455.4 67.1L455.7 66.2L456.0 67.2L456.3 66.2L456.6 67.6L456.9 66.2L457.2 67.4L457.5 66.3L457.8 67.3L458.1 65.9L458.4 66.9L458.7 65.8L459.0 67.0L459.3 65.8L459.6 66.8L459.9 65.8L460.2 67.3L460.5 66.0L460.8 67.2L461.1 66.2L461.4 67.1L461.7 65.4L462.0 67.0L462.3 65.3L462.6 66.7L462.9 65.3L463.2 66.5L463.5 65.3L463.8 66.7L464.1 65.7L464.4 66.7L464.7 65.4L465.0 67.1L465.3 66.0L465.6 67.0L465.9 65.7L466.2 66.9L466.5 66.0L466.8 67.0L467.1 66.0L467.4 67.0L467.7 66.2L468.0 67.3L468.3 66.2L468.6 67.5L468.9 66.5L469.2 67.8L469.5 66.1L469.8 67.4L470.1 66.1L470.4 67.4L470.7 66.0L471.0 67.5L471.3 66.2L471.6 67.4L471.9 66.1L472.2 67.3L472.5 65.9L472.8 67.1L473.1 66.1L473.4 67.4L473.7 66.3L474.0 67.5L474.3 66.5L474.6 67.4L474.9 66.5L475.2 67.6L475.5 66.3L475.8 67.7L476.1 66.5L476.4 67.7L476.7 66.2L477.0 67.4L477.3 66.2L477.6 67.5L477.9 66.2L478.2 67.4L478.5 66.3L478.8 67.5L479.1 66.5L479.4 67.5L479.7 66.3L480.0 67.4L480.3 66.4L480.6 68.5L480.9 66.5L481.2 67.4L481.5 66.3L481.8 67.6L482.1 66.0L482.4 67.4L482.7 66.2L483.0 67.4L483.3 65.9L483.6 67.3L483.9 66.0L484.2 67.1L484.5 65.8L484.8 67.3L485.1 66.1L485.4 67.2L485.7 66.2L486.0 67.2L486.3 66.2L486.6 67.3L486.9 66.1L487.2 67.2L487.5 66.0L487.8 67.4L488.1 66.1L488.4 67.1L488.7 65.8L489.0 67.3L489.3 65.8L489.6 67.1L489.9 66.2L490.2 67.4L490.5 66.2L490.8 67.4L491.1 66.4L491.4 67.9L491.7 66.5L492.0 67.5L492.3 66.6L492.6 67.8L492.9 66.7L493.2 67.9L493.5 66.8L493.8 67.9L494.1 66.6L494.4 67.9L494.7 66.4L495.0 67.7L495.3 66.4L495.6 67.4L495.9 66.2L496.2 67.2L496.5 66.0L496.8 67.1L497.1 65.6L497.4 67.3L497.7 65.8L498.0 66.8L498.3 65.6L498.6 66.6L498.9 65.3L499.2 66.6L499.5 65.7L499.8 66.9L500.1 65.8L500.4 67.2L500.7 65.9L501.0 67.3L501.3 66.2L501.6 67.4L501.9 66.0L502.2 67.2L502.5 66.1L502.8 67.3L503.1 66.2L503.4 67.7L503.7 66.1L504.0 67.4L504.3 66.4L504.6 67.8L504.9 66.6L505.2 67.7L505.5 66.5L505.8 67.5L506.1 66.3L506.4 67.2L506.7 65.9L507.0 67.1L507.3 66.0L507.6 67.0L507.9 66.1L508.2 67.3L508.5 65.9L508.8 67.2L509.1 65.8L509.4 67.3L509.7 66.3L510.0 67.3L510.3 66.4L510.6 67.5L510.9 66.3L511.2 67.5L511.5 66.4L511.8 67.3L512.1 65.9L512.4 67.3L512.7 65.9L513.0 66.9L513.3 65.9L513.6 66.9L513.9 66.1L514.2 67.5L514.5 65.7L514.8 67.2L515.1 66.2L515.4 67.4L515.7 66.5L516.0 67.6L516.3 66.8L516.6 68.0L516.9 66.7L517.2 68.2L517.5 67.0L517.8 68.3L518.1 67.0L518.4 68.2L518.7 66.9L519.0 68.1L519.3 67.0L519.6 67.9L519.9 66.7L520.2 67.7L520.5 66.2L520.8 68.0L521.1 66.5L521.4 67.6L521.7 66.2L522.0 67.4L522.3 66.0L522.6 67.6L522.9 66.2L523.2 67.5L523.5 66.0L523.8 67.2L524.1 66.0L524.4 66.8L524.7 65.7L525.0 66.7L525.3 65.7L525.6 66.9L525.9 65.7L526.2 67.2L526.5 65.8L526.8 67.4L527.1 66.5L527.4 67.4L527.7 66.5L528.0 67.5L528.3 66.0L528.6 67.3L528.9 66.2L529.2 67.2L529.5 66.0L529.8 67.5L530.1 65.7L530.4 67.4L530.7 66.3L531.0 67.3L531.3 66.2L531.6 67.1L531.9 66.1L532.2 67.5L532.5 66.1L532.8 66.9" fill="none" stroke="#8f24a6" stroke-width="3.8" stroke-linejoin="round" stroke-linecap="round"/>
<path d="M81.5 68.5L81.8 67.5L82.1 68.3L82.4 67.3L82.7 68.3L83.0 67.2L83.3 68.3L83.6 67.6L83.9 68.3L84.2 67.5L84.5 68.4L84.8 67.7L85.1 68.5L85.4 67.7L85.7 68.5L86.0 67.8L86.3 68.6L86.6 67.9L86.9 68.6L87.2 67.9L87.5 68.7L87.8 67.7L88.1 68.8L88.4 67.9L88.7 68.5L89.0 67.9L89.3 68.5L89.6 67.9L89.9 68.5L90.2 67.7L90.5 68.6L90.8 67.7L91.1 68.6L91.4 67.4L91.7 68.6L92.0 67.6L92.3 68.4L92.6 67.6L92.9 68.4L93.2 67.5L93.5 68.3L93.8 67.2L94.1 68.4L94.4 67.6L94.7 68.4L95.0 67.6L95.3 68.6L95.6 67.5L95.9 68.6L96.2 67.5L96.5 69.0L96.8 67.6L97.1 68.4L97.4 67.6L97.7 68.5L98.0 67.4L98.3 68.5L98.6 67.5L98.9 68.4L99.2 67.4L99.5 68.6L99.8 67.4L100.1 68.2L100.4 67.6L100.7 68.6L101.0 67.6L101.3 68.5L101.6 67.7L101.9 68.5L102.2 67.6L102.5 68.5L102.8 67.5L103.1 68.5L103.4 67.7L103.7 68.5L104.0 67.6L104.3 68.4L104.6 67.5L104.9 68.3L105.2 67.6L105.5 68.5L105.8 67.6L106.1 68.3L106.4 67.5L106.7 68.3L107.0 67.6L107.3 68.4L107.6 67.6L107.9 68.4L108.2 67.5L108.5 68.5L108.8 67.5L109.1 68.4L109.4 67.6L109.7 68.4L110.0 67.5L110.3 68.5L110.6 67.6L110.9 68.4L111.2 67.6L111.5 68.3L111.8 67.6L112.1 68.4L112.4 67.6L112.7 68.3L113.0 67.6L113.3 68.3L113.6 67.3L113.9 68.4L114.2 67.5L114.5 68.4L114.8 67.7L115.1 68.5L115.4 67.8L115.7 68.7L116.0 68.0L116.3 69.0L116.6 68.1L116.9 68.9L117.2 67.8L117.5 68.8L117.8 68.0L118.1 68.6L118.4 68.0L118.7 68.6L119.0 67.6L119.3 68.6L119.6 67.8L119.9 68.8L120.2 67.8L120.5 68.9L120.8 67.9L121.1 68.8L121.4 67.9L121.7 68.8L122.0 67.9L122.3 68.7L122.6 67.5L122.9 68.6L123.2 67.8L123.5 68.5L123.8 67.6L124.1 68.6L124.4 67.7L124.7 68.7L125.0 67.6L125.3 68.7L125.6 67.8L125.9 68.7L126.2 67.9L126.5 68.9L126.8 67.9L127.1 68.8L127.4 67.9L127.7 68.8L128.0 67.9L128.3 68.6L128.6 67.9L128.9 68.9L129.2 67.8L129.5 68.6L129.8 67.9L130.1 68.8L130.4 67.9L130.7 68.7L131.0 68.0L131.3 68.7L131.6 68.0L131.9 69.0L132.2 67.8L132.5 68.9L132.8 68.0L133.1 69.1L133.4 68.2L133.7 69.1L134.0 67.9L134.3 68.9L134.6 68.1L134.9 68.7L135.2 67.9L135.5 68.8L135.8 67.8L136.1 68.6L136.4 67.7L136.7 68.4L137.0 67.7L137.3 68.7L137.6 67.5L137.9 68.9L138.2 67.7L138.5 68.5L138.8 67.6L139.1 68.6L139.4 67.6L139.7 68.6L140.0 67.8L140.3 68.6L140.6 67.7L140.9 68.4L141.2 67.7L141.5 68.7L141.8 67.6L142.1 68.5L142.4 67.4L142.7 68.3L143.0 67.3L143.3 68.0L143.6 66.9L143.9 68.0L144.2 67.1L144.5 67.9L144.8 67.1L145.1 67.9L145.4 67.3L145.7 68.0L146.0 67.4L146.3 68.5L146.6 67.3L146.9 68.4L147.2 67.2L147.5 68.4L147.8 67.5L148.1 68.4L148.4 67.6L148.7 68.4L149.0 67.6L149.3 68.9L149.6 67.7L149.9 68.8L150.2 67.7L150.5 68.6L150.8 67.7L151.1 68.6L151.4 67.8L151.7 68.8L152.0 67.7L152.3 68.7L152.6 67.5L152.9 68.5L153.2 67.6L153.5 68.6L153.8 67.7L154.1 68.4L154.4 67.5L154.7 68.5L155.0 67.8L155.3 68.5L155.6 67.8L155.9 68.7L156.2 67.8L156.5 68.8L156.8 68.0L157.1 69.0L157.4 67.7L157.7 68.7L158.0 68.0L158.3 68.9L158.6 67.9L158.9 68.7L159.2 68.0L159.5 68.7L159.8 67.9L160.1 68.8L160.4 67.8L160.7 68.8L161.0 67.3L161.3 68.6L161.6 67.5L161.9 68.4L162.2 67.6L162.5 68.7L162.8 67.7L163.1 68.7L163.4 67.8L163.7 68.7L164.0 68.0L164.3 68.9L164.6 67.9L164.9 68.8L165.2 67.9L165.5 69.0L165.8 67.8L166.1 69.0L166.4 68.1L166.7 68.8L167.0 68.1L167.3 68.9L167.6 68.0L167.9 68.8L168.2 67.9L168.5 69.0L168.8 67.9L169.1 68.7L169.4 67.8L169.7 68.6L170.0 67.7L170.3 68.5L170.6 67.7L170.9 68.4L171.2 67.6L171.5 68.2L171.8 67.4L172.1 68.6L172.4 67.7L172.7 68.6L173.0 67.8L173.3 68.6L173.6 67.7L173.9 68.7L174.2 68.1L174.5 68.8L174.8 67.8L175.1 68.6L175.4 67.9L175.7 68.5L176.0 67.5L176.3 68.4L176.6 67.4L176.9 68.6L177.2 67.7L177.5 68.5L177.8 67.7L178.1 68.5L178.4 67.7L178.7 68.5L179.0 67.6L179.3 68.3L179.6 67.6L179.9 68.5L180.2 67.1L180.5 68.4L180.8 67.4L181.1 68.4L181.4 67.6L181.7 68.4L182.0 67.5L182.3 68.7L182.6 67.7L182.9 68.4L183.2 67.4L183.5 68.4L183.8 67.7L184.1 68.4L184.4 67.6L184.7 69.0L185.0 67.7L185.3 68.8L185.6 67.7L185.9 68.6L186.2 67.9L186.5 68.6L186.8 67.8L187.1 68.7L187.4 67.9L187.7 68.9L188.0 67.8L188.3 68.6L188.6 67.8L188.9 68.7L189.2 67.9L189.5 68.6L189.8 67.9L190.1 69.0L190.4 67.9L190.7 68.7L191.0 67.9L191.3 68.8L191.6 68.0L191.9 68.7L192.2 67.9L192.5 68.7L192.8 67.8L193.1 68.8L193.4 67.9L193.7 68.6L194.0 67.4L194.3 68.7L194.6 67.8L194.9 68.6L195.2 67.8L195.5 68.5L195.8 67.7L196.1 68.4L196.4 67.4L196.7 68.3L197.0 67.6L197.3 68.3L197.6 67.6L197.9 68.3L198.2 67.5L198.5 68.5L198.8 67.4L199.1 68.7L199.4 67.5L199.7 68.6L200.0 67.5L200.3 68.6L200.6 67.9L200.9 68.9L201.2 67.7L201.5 68.7L201.8 67.9L202.1 68.5L202.4 67.7L202.7 68.5L203.0 67.7L203.3 68.6L203.6 67.5L203.9 68.6L204.2 67.7L204.5 68.5L204.8 67.7L205.1 68.8L205.4 68.1L205.7 68.8L206.0 67.9L206.3 69.0L206.6 68.3L206.9 69.1L207.2 68.0L207.5 69.0L207.8 67.8L208.1 68.9L208.4 67.6L208.7 68.5L209.0 67.5L209.3 68.4L209.6 67.6L209.9 68.4L210.2 67.2L210.5 68.8L210.8 67.5L211.1 68.5L211.4 67.7L211.7 68.7L212.0 67.7L212.3 68.5L212.6 67.8L212.9 68.5L213.2 67.8L213.5 68.8L213.8 68.0L214.1 68.7L214.4 68.0L214.7 68.7L215.0 67.8L215.3 68.6L215.6 67.9L215.9 68.6L216.2 67.8L216.5 68.6L216.8 67.8L217.1 68.8L217.4 67.8L217.7 68.6L218.0 67.7L218.3 68.6L218.6 67.6L218.9 68.6L219.2 67.6L219.5 68.6L219.8 67.8L220.1 68.5L220.4 67.4L220.7 68.7L221.0 67.4L221.3 68.4L221.6 67.8L221.9 68.4L222.2 67.6L222.5 68.8L222.8 67.8L223.1 68.5L223.4 67.5L223.7 68.5L224.0 67.7L224.3 68.5L224.6 67.7L224.9 68.5L225.2 67.6L225.5 68.6L225.8 67.7L226.1 68.7L226.4 67.7L226.7 68.9L227.0 67.9L227.3 68.7L227.6 67.6L227.9 68.6L228.2 67.9L228.5 68.8L228.8 67.8L229.1 68.6L229.4 67.8L229.7 68.6L230.0 67.8L230.3 68.8L230.6 67.7L230.9 68.4L231.2 67.7L231.5 68.4L231.8 67.4L232.1 68.7L232.4 67.4L232.7 68.6L233.0 67.7L233.3 68.6L233.6 67.6L233.9 68.6L234.2 67.5L234.5 68.9L234.8 67.7L235.1 68.6L235.4 67.9L235.7 68.6L236.0 67.9L236.3 68.7L236.6 67.8L236.9 68.8L237.2 67.9L237.5 68.7L237.8 67.7L238.1 68.6L238.4 67.8L238.7 68.6L239.0 67.5L239.3 68.6L239.6 67.5L239.9 68.5L240.2 67.3L240.5 68.5L240.8 67.3L241.1 68.0L241.4 67.2L241.7 68.1L242.0 67.1L242.3 68.2L242.6 67.3L242.9 68.2L243.2 67.4L243.5 68.3L243.8 67.5L244.1 68.3L244.4 67.5L244.7 68.6L245.0 67.4L245.3 68.3L245.6 67.5L245.9 68.3L246.2 67.3L246.5 68.4L246.8 67.5L247.1 68.3L247.4 67.4L247.7 68.3L248.0 67.6L248.3 68.4L248.6 67.7L248.9 68.5L249.2 67.7L249.5 68.7L249.8 67.3L250.1 68.6L250.4 67.7L250.7 68.7L251.0 67.7L251.3 68.7L251.6 67.8L251.9 68.6L252.2 67.8L252.5 68.5L252.8 67.9L253.1 68.6L253.4 67.5L253.7 68.6L254.0 67.8L254.3 68.8L254.6 67.8L254.9 68.8L255.2 67.6L255.5 68.7L255.8 67.7L256.1 68.8L256.4 67.9L256.7 68.6L257.0 67.3L257.3 68.6L257.6 67.5L257.9 68.8L258.2 67.7L258.5 68.5L258.8 67.7L259.1 68.7L259.4 67.4L259.7 68.4L260.0 67.6L260.3 68.7L260.6 67.8L260.9 68.8L261.2 67.5L261.5 68.5L262.1 67.9L262.1 105.8L263.0 109.4L263.2 163.3L263.4 196.8L264.2 258.9L264.5 257.6L264.8 256.3L265.1 255.6L265.4 254.4L265.7 254.1L266.0 253.0L266.3 253.3L266.6 252.1L266.9 252.9L267.2 251.5L267.5 252.3L267.8 251.0L268.1 252.1L268.4 250.7L268.7 251.9L269.0 250.3L269.3 251.3L269.6 250.1L269.9 251.4L270.2 249.9L270.5 251.0L270.8 249.4L271.1 251.0L271.4 249.8L271.7 250.9L272.0 249.2L272.3 250.8L272.6 249.7L272.9 250.5L273.2 249.5L273.5 250.6L273.8 249.4L274.1 250.8L274.4 249.7L274.7 251.1L275.0 249.7L275.3 251.3L275.6 250.1L275.9 251.3L276.2 250.5L276.5 251.7L276.8 250.3L277.1 251.2L277.4 250.1L277.7 250.9L278.0 249.7L278.3 250.7L278.6 249.5L278.9 250.8L279.2 248.8L279.5 250.3L279.8 249.2L280.1 250.1L280.4 249.0L280.7 250.2L281.0 249.0L281.3 249.9L281.6 248.9L281.9 250.2L282.2 249.0L282.5 250.1L282.8 249.0L283.1 250.0L283.4 248.7L283.7 250.1L284.0 249.3L284.3 250.4L284.6 248.8L284.9 250.1L285.2 249.0L285.5 250.1L285.8 249.0L286.1 250.0L286.4 248.9L286.7 250.2L287.0 249.0L287.3 249.9L287.6 248.8L287.9 249.9L288.2 248.8L288.5 249.9L288.8 248.6L289.1 249.9L289.4 248.6L289.7 249.8L290.0 248.7L290.3 249.9L290.6 248.8L290.9 249.7L291.2 248.8L291.5 250.3L291.8 248.9L292.1 249.8L292.4 248.9L292.7 249.8L293.0 248.9L293.3 250.1L293.6 248.5L293.9 249.9L294.2 248.6L294.5 249.9L294.8 248.9L295.1 250.0L295.4 248.5L295.7 249.8L296.0 248.7L296.3 249.9L296.6 248.5L296.9 249.5L297.2 248.1L297.5 249.3L297.8 248.4L298.1 249.3L298.4 248.2L298.7 249.0L299.0 248.0L299.3 249.1L299.6 247.8L299.9 249.1L300.2 247.9L300.5 249.1L300.8 248.2L301.1 249.4L301.4 248.0L301.7 249.4L302.0 248.2L302.3 249.3L302.6 248.2L302.9 249.5L303.2 248.5L303.5 249.3L303.8 248.4L304.1 249.3L304.4 248.3L304.7 249.3L305.0 248.2L305.3 249.1L305.6 248.1L305.9 249.3L306.2 248.0L306.5 249.0L306.8 248.1L307.1 249.3L307.4 247.8L307.7 249.1L308.0 247.8L308.3 249.5L308.6 248.3L308.9 249.9L309.2 248.0L309.5 249.3L309.8 248.4L310.1 249.3L310.4 248.2L310.7 249.7L311.0 248.3L311.3 249.4L311.6 247.9L311.9 249.2L312.2 248.1L312.5 249.2L312.8 248.0L313.1 248.9L313.4 247.8L313.7 248.8L314.0 247.5L314.3 248.6L314.6 247.6L314.9 248.9L315.2 247.7L315.5 248.9L315.8 248.0L316.1 249.0L316.4 248.1L316.7 249.4L317.0 248.1L317.3 249.4L317.6 248.2L317.9 249.7L318.2 248.4L318.5 249.6L318.8 248.3L319.1 249.6L319.4 248.2L319.7 249.9L320.0 248.4L320.3 249.9L320.6 248.4L320.9 249.6L321.2 248.3L321.5 249.4L321.8 248.4L322.1 249.2L322.4 248.0L322.7 249.2L323.0 248.0L323.3 249.0L323.6 247.9L323.9 249.0L324.2 247.9L324.5 248.9L324.8 247.9L325.1 249.0L325.4 247.9L325.7 249.4L326.0 247.9L326.3 249.3L326.6 248.0L326.9 249.3L327.2 248.0L327.5 249.0L327.8 247.9L328.1 248.7L328.4 247.7L328.7 248.7L329.0 247.6L329.3 248.8L329.6 247.5L329.9 248.4L330.2 247.5L330.5 248.4L330.8 247.3L331.1 248.4L331.4 247.4L331.7 248.7L332.0 247.0L332.3 248.9L332.6 247.3L332.9 249.0L333.2 247.8L333.5 249.1L333.8 247.9L334.1 249.3L334.4 247.6L334.7 249.1L335.0 247.4L335.3 249.0L335.6 247.8L335.9 248.9L336.2 247.9L336.5 249.1L336.8 247.7L337.1 249.4L337.4 247.9L337.7 248.8L338.0 247.8L338.3 248.9L338.6 248.0L338.9 248.9L339.2 247.7L339.5 249.1L339.8 247.8L340.1 248.8L340.4 247.4L340.7 249.0L341.0 247.4L341.3 248.8L341.6 247.8L341.9 249.0L342.2 247.9L342.5 249.2L342.8 247.8L343.1 249.1L343.4 247.8L343.7 249.0L344.0 247.8L344.3 249.0L344.6 247.7L344.9 248.7L345.2 247.5L345.5 249.0L345.8 247.5L346.1 248.6L346.4 247.6L346.7 248.5L347.0 247.4L347.3 248.6L347.6 247.7L347.9 248.7L348.2 247.6L348.5 248.7L348.8 247.5L349.1 249.0L349.4 247.7L349.7 248.8L350.0 247.9L350.3 248.9L350.6 247.8L350.9 249.3L351.2 247.6L351.5 248.9L351.8 247.9L352.1 249.3L352.4 247.9L352.7 248.8L353.0 247.8L353.3 248.9L353.6 247.6L353.9 248.6L354.2 247.7L354.5 248.7L354.8 247.5L355.1 249.2L355.4 247.9L355.7 248.8L356.0 247.9L356.3 249.3L356.6 247.8L356.9 248.9L357.2 247.7L357.5 248.6L357.7 247.8L357.8 247.4L357.8 247.0L357.9 246.6L357.9 246.2L357.9 245.8L358.0 245.4L358.0 245.0L358.0 244.6L358.1 244.2L358.1 243.8L358.1 243.4L358.1 243.0L358.2 242.6L358.2 242.2L358.2 241.8L358.2 241.4L358.2 241.0L358.2 240.6L358.3 240.2L358.3 239.8L358.3 239.4L358.3 239.0L358.3 238.6L358.3 238.2L358.4 237.8L358.4 237.4L358.4 237.0L358.5 236.6L358.5 236.2L358.5 235.8L358.6 235.4L358.6 235.0L358.7 234.6L358.7 234.2L358.8 233.8L358.9 233.4L358.9 233.0L359.0 232.6L359.0 232.2L359.1 231.8L359.2 231.4L359.2 231.0L359.2 230.6L359.3 230.2L359.3 229.8L359.4 229.4L359.4 229.0L359.4 228.6L359.5 228.2L359.5 227.8L359.5 227.4L359.5 227.0L359.6 226.6L359.6 226.2L359.6 225.8L359.6 225.4L359.7 225.0L359.7 224.6L359.7 224.2L359.7 223.8L359.7 223.4L359.8 223.0L359.8 222.6L359.8 222.2L359.8 221.8L359.8 221.4L359.8 221.0L359.8 220.6L359.9 220.2L359.9 219.8L359.9 219.4L359.9 219.0L359.9 218.6L359.9 218.2L359.9 217.8L360.0 217.4L360.0 217.0L360.0 216.6L360.0 216.2L360.0 215.8L360.0 215.4L360.0 215.0L360.0 214.6L360.0 214.2L360.1 213.8L360.1 213.4L360.1 213.0L360.1 212.6L360.1 212.2L360.1 211.8L360.1 211.4L360.1 211.0L360.1 210.6L360.1 210.2L360.2 209.8L360.2 209.4L360.2 209.0L360.2 208.6L360.2 208.2L360.2 207.8L360.2 207.4L360.2 207.0L360.2 206.6L360.2 206.2L360.3 205.8L360.3 205.4L360.3 205.0L360.3 204.6L360.3 204.2L360.3 203.8L360.3 203.4L360.3 203.0L360.3 202.6L360.4 202.2L360.4 201.8L360.4 201.4L360.4 201.0L360.4 200.6L360.4 200.2L360.4 199.8L360.4 199.4L360.4 199.0L360.5 198.6L360.5 198.2L360.5 197.8L360.5 197.4L360.5 197.0L360.5 196.6L360.5 196.2L360.5 195.8L360.5 195.4L360.6 195.0L360.6 194.6L360.6 194.2L360.6 193.8L360.6 193.4L360.6 193.0L360.6 192.6L360.7 192.2L360.7 191.8L360.7 191.4L360.7 191.0L360.7 190.6L360.7 190.2L360.7 189.8L360.8 189.4L360.8 189.0L360.8 188.6L360.8 188.2L360.8 187.8L360.8 187.4L360.8 187.0L360.4 186.6L360.4 186.2L360.4 185.8L360.4 185.4L360.4 185.0L360.5 184.6L360.5 184.2L360.5 183.8L360.5 183.4L360.5 183.0L360.5 182.6L360.5 182.2L360.5 181.8L360.5 181.4L360.6 181.0L360.6 180.6L360.6 180.2L360.6 179.8L360.6 179.4L360.6 179.0L360.6 178.6L360.6 178.2L360.6 177.8L360.7 177.4L360.7 177.0L360.7 176.6L360.7 176.2L360.7 175.8L360.7 175.4L360.7 175.0L360.7 174.6L360.8 174.2L360.8 173.8L360.8 173.4L360.8 173.0L360.8 172.6L360.8 172.2L360.9 171.8L360.9 171.4L360.9 171.0L360.9 170.6L360.9 170.2L361.0 169.8L361.0 169.4L361.0 169.0L361.0 168.6L361.0 168.2L361.1 167.8L361.1 167.4L361.1 167.0L361.1 166.6L361.2 166.2L361.2 165.8L361.2 165.4L361.2 165.0L361.3 164.6L361.3 164.2L361.3 163.8L361.4 163.4L361.4 163.0L361.4 162.6L361.4 162.2L361.5 161.8L361.5 161.4L361.5 161.0L361.6 160.6L361.6 160.2L361.6 159.8L361.7 159.4L361.7 159.0L361.7 158.6L361.8 158.2L361.8 157.8L361.8 157.4L361.9 157.0L361.9 156.6L361.9 156.2L361.9 155.8L362.0 155.4L362.0 155.0L362.0 154.6L362.1 154.2L362.1 153.8L362.1 153.4L362.2 153.0L362.2 152.6L362.2 152.2L362.3 151.8L362.3 151.4L362.3 151.0L362.4 150.6L362.4 150.2L362.4 149.8L362.5 149.4L362.5 149.0L362.5 148.6L362.5 148.2L362.5 147.8L362.6 147.4L362.6 147.0L362.6 146.6L362.6 146.2L362.7 145.8L362.7 145.4L362.7 145.0L362.8 144.6L362.8 144.2L362.8 143.8L362.8 143.4L362.9 143.0L362.9 142.6L362.9 142.2L362.9 141.8L363.0 141.4L363.0 141.0L363.0 140.6L363.1 140.2L363.1 139.8L363.1 139.4L363.2 139.0L363.2 138.6L363.2 138.2L363.2 137.8L363.3 137.4L363.3 137.0L363.3 136.6L363.4 136.2L363.4 135.8L363.4 135.4L363.5 135.0L363.5 134.6L363.5 134.2L363.6 133.8L363.6 133.4L363.7 133.0L363.7 132.6L363.7 132.2L363.8 131.8L363.8 131.4L363.8 131.0L363.9 130.6L363.9 130.2L363.9 129.8L364.0 129.4L364.0 129.0L364.1 128.6L364.1 128.2L364.1 127.8L364.2 127.4L364.2 127.0L364.3 126.6L364.3 126.2L364.3 125.8L364.4 125.4L364.4 125.0L364.4 124.6L364.5 124.2L364.5 123.8L364.6 123.4L364.6 123.0L364.6 122.6L364.7 122.2L364.7 121.8L364.7 121.4L364.8 121.0L364.8 120.6L364.9 120.2L364.9 119.8L364.9 119.4L365.0 119.0L365.0 118.6L365.1 118.2L365.1 117.8L365.2 117.4L365.2 117.0L365.2 116.6L365.3 116.2L365.3 115.8L365.4 115.4L365.4 115.0L365.5 114.6L365.5 114.2L365.6 113.8L365.6 113.4L365.6 113.0L365.7 112.6L365.7 112.2L365.8 111.8L365.8 111.4L365.9 111.0L365.9 110.6L366.0 110.2L366.0 109.8L366.1 109.4L366.1 109.0L366.2 108.6L366.2 108.2L366.3 107.8L366.3 107.4L366.4 107.0L366.4 106.6L366.5 106.2L366.5 105.8L366.6 105.4L366.6 105.0L366.7 104.6L366.7 104.2L366.8 103.8L366.8 103.4L366.9 103.0L366.9 102.6L367.0 102.2L367.0 101.8L367.1 101.4L367.2 101.0L367.2 100.6L367.3 100.2L367.3 99.8L367.4 99.4L367.5 99.0L367.5 98.6L367.6 98.2L367.6 97.8L367.7 97.4L367.8 97.0L367.8 96.6L367.9 96.2L368.0 95.8L368.0 95.4L368.1 95.0L368.2 94.6L368.2 94.2L368.3 93.8L368.4 93.4L368.4 93.0L368.5 92.6L368.6 92.2L368.7 91.8L368.7 91.4L368.8 91.0L368.9 90.6L369.0 90.2L369.1 89.8L369.2 89.4L369.2 89.0L369.3 88.6L369.4 88.2L369.6 87.8L369.7 87.4L369.8 87.0L369.9 86.6L370.0 86.2L370.2 85.8L370.3 85.4L370.4 85.0L370.5 84.6L370.7 84.2L370.8 83.8L370.9 83.4L371.1 83.0L371.2 82.6L371.4 82.2L371.5 81.8L371.7 81.4L371.8 81.0L372.0 80.6L372.2 80.2L372.4 79.8L372.6 79.4L372.8 79.0L373.0 78.6L373.2 78.2L373.4 77.8L373.6 77.4L373.8 77.0L374.1 76.6L374.4 76.2L374.6 75.8L374.9 75.4L375.2 75.0L375.6 74.6L375.9 74.2L376.3 73.8L376.7 73.4L377.0 73.0L377.4 72.6L377.8 72.2L378.3 71.8L378.7 71.4L379.2 71.0L379.7 70.6L380.2 70.2L380.8 69.8L381.5 69.4L382.3 69.0L383.2 68.6L383.5 68.2L383.8 67.9L384.1 67.8L384.4 67.4L384.7 67.6L385.0 67.1L385.3 67.3L385.6 66.7L385.9 67.1L386.2 66.4L386.5 66.9L386.8 66.1L387.1 66.8L387.4 66.0L387.7 67.4L388.0 66.4L388.3 67.4L388.6 66.6L388.9 67.7L389.2 66.7L389.5 67.5L389.8 66.3L390.1 67.2L390.4 66.0L390.7 67.1L391.0 65.7L391.3 66.9L391.6 65.0L391.9 66.9L392.2 65.7L392.5 66.6L392.8 65.3L393.1 66.9L393.4 65.6L393.7 66.7L394.0 65.7L394.3 66.6L394.6 65.6L394.9 66.7L395.2 65.7L395.5 66.9L395.8 65.6L396.1 66.6L396.4 65.6L396.7 67.0L397.0 65.6L397.3 67.2L397.6 65.9L397.9 67.3L398.2 66.3L398.5 67.6L398.8 66.6L399.1 67.8L399.4 66.6L399.7 67.9L400.0 66.2L400.3 67.4L400.6 66.4L400.9 67.2L401.2 66.3L401.5 67.3L401.8 66.2L402.1 67.5L402.4 66.4L402.7 67.9L403.0 66.4L403.3 67.4L403.6 66.0L403.9 66.9L404.2 65.4L404.5 66.2L404.8 64.8L405.1 65.9L405.4 65.0L405.7 66.7L406.0 65.4L406.3 67.0L406.6 66.0L406.9 67.2L407.2 66.4L407.5 67.5L407.8 66.3L408.1 67.8L408.4 66.5L408.7 67.9L409.0 66.5L409.3 67.8L409.6 66.9L409.9 67.9L410.2 67.0L410.5 68.0L410.8 67.2L411.1 68.0L411.4 66.8L411.7 68.0L412.0 66.5L412.3 67.6L412.6 66.5L412.9 67.6L413.2 66.1L413.5 67.1L413.8 65.9L414.1 66.9L414.4 65.4L414.7 66.4L415.0 65.2L415.3 66.6L415.6 65.4L415.9 66.9L416.2 66.1L416.5 67.3L416.8 66.3L417.1 67.5L417.4 66.3L417.7 67.2L418.0 66.3L418.3 67.3L418.6 65.9L418.9 66.9L419.2 65.9L419.5 66.7L419.8 65.7L420.1 66.9L420.4 65.0L420.7 66.3L421.0 65.3L421.3 66.6L421.6 65.4L421.9 66.6L422.2 65.6L422.5 66.8L422.8 65.5L423.1 66.9L423.4 65.9L423.7 67.3L424.0 66.3L424.3 67.8L424.6 66.6L424.9 67.8L425.2 66.8L425.5 67.9L425.8 66.8L426.1 68.1L426.4 66.9L426.7 68.0L427.0 66.7L427.3 67.8L427.6 66.3L427.9 67.9L428.2 66.5L428.5 67.9L428.8 66.3L429.1 67.8L429.4 66.3L429.7 67.4L430.0 66.1L430.3 66.9L430.6 65.8L430.9 66.7L431.2 65.9L431.5 67.1L431.8 66.2L432.1 67.8L432.4 66.6L432.7 68.2L433.0 67.4L433.3 68.3L433.6 66.9L433.9 68.0L434.2 66.4L434.5 67.3L434.8 65.7L435.1 66.8L435.4 65.7L435.7 66.9L436.0 65.9L436.3 67.4L436.6 66.2L436.9 67.3L437.2 66.0L437.5 67.1L437.8 66.0L438.1 66.7L438.4 65.5L438.7 66.6L439.0 65.6L439.3 66.7L439.6 66.0L439.9 67.1L440.2 66.2L440.5 67.7L440.8 66.8L441.1 68.2L441.4 66.7L441.7 67.7L442.0 66.2L442.3 67.6L442.6 66.5L442.9 67.5L443.2 66.3L443.5 67.9L443.8 66.3L444.1 67.5L444.4 66.4L444.7 67.9L445.0 66.5L445.3 68.2L445.6 66.4L445.9 67.4L446.2 66.3L446.5 67.3L446.8 66.1L447.1 67.2L447.4 66.1L447.7 67.2L448.0 66.3L448.3 67.5L448.6 66.1L448.9 67.4L449.2 66.2L449.5 67.2L449.8 66.3L450.1 67.2L450.4 66.4L450.7 67.4L451.0 66.3L451.3 67.2L451.6 66.1L451.9 67.0L452.2 65.6L452.5 66.6L452.8 65.5L453.1 66.3L453.4 65.7L453.7 66.9L454.0 66.1L454.3 67.5L454.6 65.9L454.9 67.6L455.2 66.4L455.5 67.8L455.8 66.5L456.1 67.8L456.4 66.5L456.7 67.7L457.0 66.7L457.3 67.8L457.6 66.2L457.9 67.4L458.2 66.3L458.5 67.3L458.8 65.7L459.1 67.0L459.4 66.1L459.7 67.0L460.0 66.2L460.3 67.1L460.6 66.1L460.9 67.6L461.2 65.9L461.5 67.2L461.8 66.3L462.1 67.3L462.4 66.2L462.7 67.3L463.0 66.4L463.3 67.7L463.6 66.7L463.9 67.7L464.2 66.7L464.5 67.9L464.8 66.8L465.1 68.0L465.4 66.8L465.7 67.8L466.0 66.8L466.3 67.6L466.6 66.4L466.9 67.6L467.2 66.3L467.5 67.3L467.8 66.3L468.1 67.5L468.4 66.3L468.7 67.2L469.0 65.9L469.3 67.7L469.6 66.0L469.9 67.2L470.2 65.8L470.5 67.4L470.8 66.0L471.1 67.0L471.4 65.5L471.7 67.3L472.0 65.8L472.3 66.6L472.6 65.5L472.9 66.6L473.2 65.2L473.5 66.9L473.8 65.4L474.1 66.7L474.4 65.7L474.7 67.1L475.0 65.6L475.3 67.1L475.6 66.1L475.9 67.1L476.2 66.0L476.5 67.2L476.8 65.8L477.1 67.3L477.4 66.3L477.7 67.3L478.0 66.2L478.3 67.1L478.6 66.1L478.9 67.2L479.2 65.9L479.5 67.2L479.8 65.9L480.1 67.2L480.4 65.9L480.7 67.7L481.0 66.0L481.3 67.5L481.6 66.4L481.9 67.5L482.2 66.3L482.5 67.5L482.8 66.5L483.1 67.7L483.4 66.4L483.7 67.7L484.0 66.6L484.3 67.8L484.6 66.4L484.9 67.5L485.2 66.4L485.5 67.5L485.8 66.3L486.1 67.3L486.4 66.2L486.7 67.9L487.0 66.3L487.3 67.4L487.6 66.1L487.9 67.7L488.2 66.4L488.5 67.7L488.8 66.5L489.1 67.6L489.4 66.5L489.7 67.5L490.0 66.3L490.3 67.4L490.6 66.2L490.9 67.3L491.2 65.9L491.5 67.3L491.8 66.4L492.1 67.4L492.4 66.0L492.7 67.6L493.0 65.9L493.3 67.3L493.6 66.0L493.9 67.3L494.2 66.1L494.5 67.3L494.8 66.5L495.1 67.4L495.4 66.1L495.7 67.2L496.0 65.9L496.3 66.8L496.6 65.6L496.9 66.6L497.2 65.4L497.5 66.8L497.8 65.9L498.1 67.3L498.4 66.2L498.7 67.9L499.0 66.5L499.3 67.6L499.6 66.3L499.9 67.6L500.2 66.2L500.5 66.8L500.8 65.4L501.1 67.1L501.4 65.9L501.7 67.1L502.0 66.0L502.3 67.3L502.6 66.3L502.9 67.9L503.2 66.6L503.5 67.5L503.8 66.5L504.1 67.4L504.4 66.3L504.7 67.4L505.0 66.1L505.3 67.3L505.6 66.2L505.9 67.4L506.2 66.3L506.5 67.7L506.8 66.6L507.1 68.2L507.4 66.7L507.7 67.8L508.0 66.4L508.3 67.9L508.6 66.3L508.9 67.5L509.2 66.1L509.5 67.4L509.8 65.7L510.1 67.1L510.4 66.0L510.7 66.9L511.0 65.8L511.3 67.0L511.6 65.7L511.9 67.3L512.2 66.3L512.5 67.7L512.8 66.4L513.1 67.7L513.4 66.6L513.7 67.6L514.0 66.6L514.3 67.6L514.6 66.4L514.9 67.4L515.2 65.9L515.5 67.5L515.8 66.2L516.1 68.0L516.4 66.1L516.7 67.5L517.0 66.3L517.3 67.3L517.6 66.2L517.9 67.2L518.2 66.0L518.5 67.3L518.8 66.2L519.1 67.6L519.4 66.4L519.7 67.4L520.0 66.5L520.3 67.7L520.6 66.6L520.9 67.8L521.2 66.7L521.5 67.8L521.8 66.6L522.1 67.9L522.4 66.7L522.7 67.6L523.0 66.5L523.3 67.5L523.6 66.5L523.9 67.5L524.2 66.3L524.5 67.6L524.8 66.3L525.1 67.3L525.4 66.0L525.7 67.2L526.0 66.0L526.3 66.8L526.6 65.4L526.9 66.4L527.2 65.5L527.5 66.7L527.8 65.8L528.1 66.8L528.4 65.6L528.7 67.0L529.0 65.7L529.3 67.3L529.6 66.0L529.9 67.1L530.2 66.0L530.5 67.3L530.8 66.4L531.1 67.4L531.4 66.6L531.7 67.7L532.0 66.6L532.3 67.9L532.6 66.8L532.9 68.1" fill="none" stroke="#ffb000" stroke-width="3.8" stroke-linejoin="round" stroke-linecap="round"/>
<path d="M81.5 68.8L81.8 67.9L82.1 68.7L82.4 67.5L82.7 68.7L83.0 67.7L83.3 68.6L83.6 68.0L83.9 68.8L84.2 67.8L84.5 68.6L84.8 67.8L85.1 68.6L85.4 67.5L85.7 68.4L86.0 67.3L86.3 68.4L86.6 67.6L86.9 68.4L87.2 67.5L87.5 68.3L87.8 67.6L88.1 68.6L88.4 67.6L88.7 68.5L89.0 67.7L89.3 68.4L89.6 67.6L89.9 68.6L90.2 67.6L90.5 68.3L90.8 67.5L91.1 68.3L91.4 67.5L91.7 68.3L92.0 67.6L92.3 68.4L92.6 67.3L92.9 68.5L93.2 67.8L93.5 68.7L93.8 67.9L94.1 68.7L94.4 67.9L94.7 68.8L95.0 67.9L95.3 68.8L95.6 67.8L95.9 68.7L96.2 67.8L96.5 68.6L96.8 67.8L97.1 68.5L97.4 67.7L97.7 68.5L98.0 67.6L98.3 68.4L98.6 67.7L98.9 68.3L99.2 67.3L99.5 68.3L99.8 67.4L100.1 68.5L100.4 67.3L100.7 68.5L101.0 67.4L101.3 68.2L101.6 67.3L101.9 68.2L102.2 67.4L102.5 68.4L102.8 67.5L103.1 68.3L103.4 67.3L103.7 68.3L104.0 67.3L104.3 68.9L104.6 67.6L104.9 68.4L105.2 67.7L105.5 68.5L105.8 67.8L106.1 68.6L106.4 67.8L106.7 68.8L107.0 67.9L107.3 68.5L107.6 67.9L107.9 68.5L108.2 67.7L108.5 68.4L108.8 67.7L109.1 68.6L109.4 67.6L109.7 68.7L110.0 67.7L110.3 68.6L110.6 67.5L110.9 68.4L111.2 67.1L111.5 68.4L111.8 67.6L112.1 68.4L112.4 67.5L112.7 68.5L113.0 67.8L113.3 68.9L113.6 67.7L113.9 68.5L114.2 67.8L114.5 68.7L114.8 67.7L115.1 68.4L115.4 67.3L115.7 68.7L116.0 67.6L116.3 68.2L116.6 67.5L116.9 68.6L117.2 67.6L117.5 68.5L117.8 67.6L118.1 68.3L118.4 67.7L118.7 68.5L119.0 67.7L119.3 68.6L119.6 67.6L119.9 68.5L120.2 67.6L120.5 68.6L120.8 67.7L121.1 68.5L121.4 67.7L121.7 68.5L122.0 67.7L122.3 68.5L122.6 67.8L122.9 68.6L123.2 67.7L123.5 68.3L123.8 67.4L124.1 68.3L124.4 67.4L124.7 68.4L125.0 67.5L125.3 68.3L125.6 67.4L125.9 68.3L126.2 67.4L126.5 68.5L126.8 67.5L127.1 68.5L127.4 67.4L127.7 68.6L128.0 67.7L128.3 68.6L128.6 67.8L128.9 68.6L129.2 67.8L129.5 68.5L129.8 67.7L130.1 68.5L130.4 67.5L130.7 68.5L131.0 67.6L131.3 68.4L131.6 67.8L131.9 68.8L132.2 67.3L132.5 68.5L132.8 67.4L133.1 68.4L133.4 67.7L133.7 69.1L134.0 67.7L134.3 68.7L134.6 67.5L134.9 68.5L135.2 67.7L135.5 68.7L135.8 67.8L136.1 68.5L136.4 67.7L136.7 68.7L137.0 67.7L137.3 68.5L137.6 67.7L137.9 68.6L138.2 67.8L138.5 68.5L138.8 67.8L139.1 68.6L139.4 67.8L139.7 68.4L140.0 67.5L140.3 68.5L140.6 67.6L140.9 68.6L141.2 67.6L141.5 68.3L141.8 67.5L142.1 68.3L142.4 67.5L142.7 68.4L143.0 67.5L143.3 68.3L143.6 67.1L143.9 68.7L144.2 67.7L144.5 68.4L144.8 67.5L145.1 68.4L145.4 67.3L145.7 68.7L146.0 67.6L146.3 68.5L146.6 67.6L146.9 68.7L147.2 67.8L147.5 68.7L147.8 67.8L148.1 68.7L148.4 67.9L148.7 68.7L149.0 68.0L149.3 68.6L149.6 67.9L149.9 68.8L150.2 68.0L150.5 68.7L150.8 68.0L151.1 68.8L151.4 67.7L151.7 68.7L152.0 67.8L152.3 68.6L152.6 67.6L152.9 68.9L153.2 67.4L153.5 68.4L153.8 67.4L154.1 68.3L154.4 67.2L154.7 68.4L155.0 67.5L155.3 68.5L155.6 67.6L155.9 68.8L156.2 67.9L156.5 68.7L156.8 67.6L157.1 68.7L157.4 67.7L157.7 68.7L158.0 67.8L158.3 68.8L158.6 67.8L158.9 68.9L159.2 67.8L159.5 68.6L159.8 67.8L160.1 68.5L160.4 67.8L160.7 68.5L161.0 67.7L161.3 68.5L161.6 67.7L161.9 68.7L162.2 67.8L162.5 68.7L162.8 67.8L163.1 68.5L163.4 67.7L163.7 68.6L164.0 67.5L164.3 68.8L164.6 67.6L164.9 68.8L165.2 67.9L165.5 68.5L165.8 67.8L166.1 68.6L166.4 67.7L166.7 68.7L167.0 67.9L167.3 68.8L167.6 68.0L167.9 68.8L168.2 67.7L168.5 68.9L168.8 68.1L169.1 68.8L169.4 67.9L169.7 68.7L170.0 67.8L170.3 68.7L170.6 67.6L170.9 68.5L171.2 67.6L171.5 68.3L171.8 67.5L172.1 68.3L172.4 67.6L172.7 68.4L173.0 67.6L173.3 68.4L173.6 67.7L173.9 68.7L174.2 67.7L174.5 68.6L174.8 67.7L175.1 68.5L175.4 67.8L175.7 68.5L176.0 67.7L176.3 68.6L176.6 67.5L176.9 68.6L177.2 67.7L177.5 68.4L177.8 67.7L178.1 68.7L178.4 67.5L178.7 68.6L179.0 67.6L179.3 68.5L179.6 67.6L179.9 68.7L180.2 67.8L180.5 68.6L180.8 67.9L181.1 68.6L181.4 67.8L181.7 68.8L182.0 67.9L182.3 68.8L182.6 67.9L182.9 68.9L183.2 67.5L183.5 68.8L183.8 67.9L184.1 68.8L184.4 67.8L184.7 68.5L185.0 67.6L185.3 68.7L185.6 67.7L185.9 68.3L186.2 67.4L186.5 68.4L186.8 67.4L187.1 68.3L187.4 67.6L187.7 68.3L188.0 67.6L188.3 68.3L188.6 67.4L188.9 68.4L189.2 67.5L189.5 68.4L189.8 67.5L190.1 68.5L190.4 67.8L190.7 68.5L191.0 67.7L191.3 68.5L191.6 67.7L191.9 68.4L192.2 67.6L192.5 68.5L192.8 67.5L193.1 68.4L193.4 67.5L193.7 68.2L194.0 67.3L194.3 68.4L194.6 67.6L194.9 68.6L195.2 67.6L195.5 68.5L195.8 67.6L196.1 68.6L196.4 67.8L196.7 68.6L197.0 67.9L197.3 68.7L197.6 67.6L197.9 68.6L198.2 67.8L198.5 68.7L198.8 67.7L199.1 68.5L199.4 67.7L199.7 68.5L200.0 67.8L200.3 68.7L200.6 67.8L200.9 68.4L201.2 67.7L201.5 68.9L201.8 67.5L202.1 68.5L202.4 67.7L202.7 68.6L203.0 67.8L203.3 68.5L203.6 67.8L203.9 68.6L204.2 67.7L204.5 68.6L204.8 67.9L205.1 69.0L205.4 68.0L205.7 68.9L206.0 68.0L206.3 68.8L206.6 67.8L206.9 68.9L207.2 67.8L207.5 68.9L207.8 67.9L208.1 69.0L208.4 67.8L208.7 68.7L209.0 67.7L209.3 68.4L209.6 67.5L209.9 68.6L210.2 67.4L210.5 68.4L210.8 67.7L211.1 68.4L211.4 67.5L211.7 68.7L212.0 67.6L212.3 68.5L212.6 67.7L212.9 68.6L213.2 67.9L213.5 68.9L213.8 67.9L214.1 68.9L214.4 67.5L214.7 68.7L215.0 67.6L215.3 68.8L215.6 67.7L215.9 68.5L216.2 67.7L216.5 68.5L216.8 67.6L217.1 68.3L217.4 67.6L217.7 68.4L218.0 67.7L218.3 68.3L218.6 67.4L218.9 68.3L219.2 67.7L219.5 68.3L219.8 67.6L220.1 68.3L220.4 67.4L220.7 68.4L221.0 67.3L221.3 68.4L221.6 67.4L221.9 68.5L222.2 67.6L222.5 68.3L222.8 67.6L223.1 68.5L223.4 67.8L223.7 68.8L224.0 67.9L224.3 68.8L224.6 67.8L224.9 68.8L225.2 67.9L225.5 68.6L225.8 67.7L226.1 68.8L226.4 67.5L226.7 68.5L227.0 67.8L227.3 68.5L227.6 67.7L227.9 68.5L228.2 67.8L228.5 68.8L228.8 67.6L229.1 68.6L229.4 67.9L229.7 68.7L230.0 67.8L230.3 68.6L230.6 67.5L230.9 68.6L231.2 67.7L231.5 68.8L231.8 67.8L232.1 68.7L232.4 67.3L232.7 68.7L233.0 67.8L233.3 68.8L233.6 67.6L233.9 68.6L234.2 67.5L234.5 68.6L234.8 67.7L235.1 68.5L235.4 67.6L235.7 68.3L236.0 67.6L236.3 68.3L236.6 67.6L236.9 68.4L237.2 67.6L237.5 68.7L237.8 67.2L238.1 68.5L238.4 67.5L238.7 68.5L239.0 67.4L239.3 68.4L239.6 67.5L239.9 68.5L240.2 67.7L240.5 68.5L240.8 67.7L241.1 68.5L241.4 67.7L241.7 68.6L242.0 67.8L242.3 68.6L242.6 67.6L242.9 68.5L243.2 67.7L243.5 68.6L243.8 67.7L244.1 68.6L244.4 67.6L244.7 68.7L245.0 67.7L245.3 68.6L245.6 67.8L245.9 68.9L246.2 68.0L246.5 68.7L246.8 67.9L247.1 68.7L247.4 67.7L247.7 68.5L248.0 67.8L248.3 68.7L248.6 67.7L248.9 68.5L249.2 67.2L249.5 68.4L249.8 67.6L250.1 68.4L250.4 67.6L250.7 68.6L251.0 67.4L251.3 68.5L251.6 67.4L251.9 68.3L252.2 67.6L252.5 68.4L252.8 67.5L253.1 68.3L253.4 67.6L253.7 68.5L254.0 67.5L254.3 68.3L254.6 67.4L254.9 68.4L255.2 67.7L255.5 68.5L255.8 67.8L256.1 68.7L256.4 67.8L256.7 68.7L257.0 67.9L257.3 68.7L257.6 67.6L257.9 68.8L258.2 67.7L258.5 68.4L258.8 67.4L259.1 68.5L259.4 67.4L259.7 68.3L260.0 67.5L260.3 68.5L260.6 67.5L260.9 68.7L261.2 67.7L261.5 68.6L262.1 67.9L262.1 105.8L263.0 109.4L263.2 163.3L263.4 196.8L264.1 230.6L264.4 229.5L264.7 228.4L265.0 227.8L265.3 226.8L265.6 226.5L265.9 225.4L266.2 225.7L266.5 224.5L266.8 225.3L267.1 223.9L267.4 224.8L267.7 223.5L268.0 224.8L268.3 223.3L268.6 224.6L268.9 223.4L269.2 224.4L269.5 223.2L269.8 224.2L270.1 222.7L270.4 223.9L270.7 222.5L271.0 223.7L271.3 222.3L271.6 223.4L271.9 222.3L272.2 223.3L272.5 222.2L272.8 223.5L273.1 222.3L273.4 223.3L273.7 222.2L274.0 223.6L274.3 222.4L274.6 223.5L274.9 222.3L275.2 223.8L275.5 222.4L275.8 223.4L276.1 222.2L276.4 223.5L276.7 222.4L277.0 223.7L277.3 222.3L277.6 223.5L277.9 222.6L278.2 223.8L278.5 222.4L278.8 223.6L279.1 222.6L279.4 223.5L279.7 222.4L280.0 223.6L280.3 222.2L280.6 223.3L280.9 222.4L281.2 223.4L281.5 222.2L281.8 223.3L282.1 222.3L282.4 223.4L282.7 222.1L283.0 223.5L283.3 222.1L283.6 223.3L283.9 222.2L284.2 223.3L284.5 222.0L284.8 223.1L285.1 222.1L285.4 222.9L285.7 221.7L286.0 223.0L286.3 221.9L286.6 222.8L286.9 221.4L287.2 222.7L287.5 221.8L287.8 222.7L288.1 221.6L288.4 223.0L288.7 221.6L289.0 222.9L289.3 221.5L289.6 223.2L289.9 221.8L290.2 222.7L290.5 221.8L290.8 222.8L291.1 221.7L291.4 222.9L291.7 221.8L292.0 222.7L292.3 221.6L292.6 222.9L292.9 221.7L293.2 222.7L293.5 221.9L293.8 222.8L294.1 221.9L294.4 223.0L294.7 221.1L295.0 222.7L295.3 221.4L295.6 222.9L295.9 221.4L296.2 222.4L296.5 221.3L296.8 222.5L297.1 221.3L297.4 222.5L297.7 221.6L298.0 222.6L298.3 221.6L298.6 222.9L298.9 221.7L299.2 222.8L299.5 221.5L299.8 222.5L300.1 221.1L300.4 222.1L300.7 220.5L301.0 222.1L301.3 220.7L301.6 221.8L301.9 220.9L302.2 222.3L302.5 220.8L302.8 222.2L303.1 221.3L303.4 222.3L303.7 221.5L304.0 222.8L304.3 221.6L304.6 222.7L304.9 221.4L305.2 222.5L305.5 221.2L305.8 222.2L306.1 221.1L306.4 221.9L306.7 221.0L307.0 222.4L307.3 220.9L307.6 222.2L307.9 221.2L308.2 222.2L308.5 220.9L308.8 222.3L309.1 221.4L309.4 222.3L309.7 221.1L310.0 222.1L310.3 220.8L310.6 222.5L310.9 220.8L311.2 221.9L311.5 220.7L311.8 221.8L312.1 221.0L312.4 222.0L312.7 220.9L313.0 222.2L313.3 220.8L313.6 222.2L313.9 221.1L314.2 222.6L314.5 221.2L314.8 222.4L315.1 221.1L315.4 222.2L315.7 221.3L316.0 222.2L316.3 221.1L316.6 222.3L316.9 221.1L317.2 222.3L317.5 220.8L317.8 221.9L318.1 220.7L318.4 221.8L318.7 220.3L319.0 221.4L319.3 220.5L319.6 221.4L319.9 220.5L320.2 221.8L320.5 220.5L320.8 222.0L321.1 220.7L321.4 221.5L321.7 220.7L322.0 221.9L322.3 220.4L322.6 221.5L322.9 220.6L323.2 221.8L323.5 220.5L323.8 221.4L324.1 220.2L324.4 221.5L324.7 220.2L325.0 221.4L325.3 220.3L325.6 221.5L325.9 220.3L326.2 221.5L326.5 220.5L326.8 221.4L327.1 220.3L327.4 221.4L327.7 220.2L328.0 221.1L328.3 220.1L328.6 220.9L328.9 219.4L329.2 220.8L329.5 219.7L329.8 220.9L330.1 220.0L330.4 221.0L330.7 220.1L331.0 221.4L331.3 220.1L331.6 221.4L331.9 220.2L332.2 221.2L332.5 220.2L332.8 221.1L333.1 220.2L333.4 221.1L333.7 220.2L334.0 221.3L334.3 220.0L334.6 221.1L334.9 220.0L335.2 221.5L335.5 220.1L335.8 221.4L336.1 219.6L336.4 220.9L336.7 219.9L337.0 221.0L337.3 219.7L337.6 220.9L337.9 220.0L338.2 221.1L338.5 220.1L338.8 221.1L339.1 220.0L339.4 221.1L339.7 219.4L340.0 220.7L340.3 219.7L340.6 220.7L340.9 219.3L341.2 220.8L341.5 219.5L341.8 220.7L342.1 219.4L342.4 220.7L342.7 220.0L343.0 221.1L343.3 220.2L343.6 221.3L343.9 220.3L344.2 221.3L344.5 220.3L344.8 221.4L345.1 220.3L345.4 221.4L345.7 220.0L346.0 221.3L346.3 219.9L346.6 221.1L346.9 219.9L347.2 221.2L347.5 220.3L347.8 221.3L348.1 220.3L348.4 221.3L348.7 220.4L349.0 221.4L349.3 220.4L349.6 221.4L349.9 220.1L350.2 221.2L350.5 219.8L350.8 220.7L351.1 219.6L351.4 220.5L351.7 218.8L352.0 220.4L352.3 219.5L352.6 220.5L352.9 219.1L353.2 220.4L353.5 219.2L353.8 220.4L354.1 219.3L354.4 220.3L354.7 219.3L355.0 220.4L355.3 219.4L355.6 220.5L355.9 219.4L356.2 220.8L356.5 219.6L356.8 221.0L357.1 219.5L357.4 220.4L357.7 219.2L357.9 219.8L357.9 219.4L358.0 219.0L358.0 218.6L358.0 218.2L358.1 217.8L358.1 217.4L358.1 217.0L358.2 216.6L358.2 216.2L358.2 215.8L358.3 215.4L358.3 215.0L358.3 214.6L358.3 214.2L358.3 213.8L358.4 213.4L358.4 213.0L358.4 212.6L358.4 212.2L358.4 211.8L358.5 211.4L358.5 211.0L358.5 210.6L358.6 210.2L358.6 209.8L358.7 209.4L358.7 209.0L358.8 208.6L358.9 208.2L358.9 207.8L359.0 207.4L359.1 207.0L359.2 206.6L359.2 206.2L359.3 205.8L359.3 205.4L359.4 205.0L359.4 204.6L359.5 204.2L359.5 203.8L359.5 203.4L359.6 203.0L359.6 202.6L359.6 202.2L359.7 201.8L359.7 201.4L359.7 201.0L359.8 200.6L359.8 200.2L359.8 199.8L359.8 199.4L359.9 199.0L359.9 198.6L359.9 198.2L359.9 197.8L359.9 197.4L359.9 197.0L360.0 196.6L360.0 196.2L360.0 195.8L360.0 195.4L360.0 195.0L360.0 194.6L360.0 194.2L360.1 193.8L360.1 193.4L360.1 193.0L360.1 192.6L360.1 192.2L360.1 191.8L360.1 191.4L360.2 191.0L360.2 190.6L360.2 190.2L360.2 189.8L360.2 189.4L360.2 189.0L360.2 188.6L360.2 188.2L360.3 187.8L360.3 187.4L360.3 187.0L360.3 186.6L360.3 186.2L360.3 185.8L360.3 185.4L360.3 185.0L360.4 184.6L360.4 184.2L360.4 183.8L360.4 183.4L360.4 183.0L360.4 182.6L360.4 182.2L360.4 181.8L360.5 181.4L360.5 181.0L360.5 180.6L360.5 180.2L360.5 179.8L360.5 179.4L360.5 179.0L360.5 178.6L360.6 178.2L360.6 177.8L360.6 177.4L360.6 177.0L360.6 176.6L360.6 176.2L360.6 175.8L360.7 175.4L360.7 175.0L360.7 174.6L360.7 174.2L360.7 173.8L360.7 173.4L360.8 173.0L360.8 172.6L360.8 172.2L360.8 171.8L360.8 171.4L360.8 171.0L360.9 170.6L360.9 170.2L360.9 169.8L360.9 169.4L360.9 169.0L360.9 168.6L361.0 168.2L361.0 167.8L361.0 167.4L361.0 167.0L361.0 166.6L361.0 166.2L361.1 165.8L361.1 165.4L361.1 165.0L361.1 164.6L361.1 164.2L361.1 163.8L361.2 163.4L361.2 163.0L361.2 162.6L361.2 162.2L361.2 161.8L361.3 161.4L361.3 161.0L361.3 160.6L361.3 160.2L361.3 159.8L361.3 159.4L361.4 159.0L361.4 158.6L361.4 158.2L361.4 157.8L361.4 157.4L361.5 157.0L361.5 156.6L361.5 156.2L361.5 155.8L361.5 155.4L361.5 155.0L361.6 154.6L361.6 154.2L361.6 153.8L361.6 153.4L361.6 153.0L361.7 152.6L361.7 152.2L361.7 151.8L361.7 151.4L361.7 151.0L361.8 150.6L361.8 150.2L361.8 149.8L361.8 149.4L361.8 149.0L361.9 148.6L361.9 148.2L361.9 147.8L361.9 147.4L361.9 147.0L362.0 146.6L362.0 146.2L362.0 145.8L362.0 145.4L362.1 145.0L362.1 144.6L362.1 144.2L362.1 143.8L362.1 143.4L362.2 143.0L362.2 142.6L362.2 142.2L362.2 141.8L362.3 141.4L362.3 141.0L362.3 140.6L362.3 140.2L362.4 139.8L362.4 139.4L362.4 139.0L362.4 138.6L362.5 138.2L362.5 137.8L362.5 137.4L362.5 137.0L362.6 136.6L362.6 136.2L362.6 135.8L362.6 135.4L362.7 135.0L362.7 134.6L362.7 134.2L362.8 133.8L362.8 133.4L362.8 133.0L362.9 132.6L362.9 132.2L362.9 131.8L363.0 131.4L363.0 131.0L363.0 130.6L363.1 130.2L363.1 129.8L363.1 129.4L363.2 129.0L363.2 128.6L363.2 128.2L363.3 127.8L363.3 127.4L363.3 127.0L363.4 126.6L363.4 126.2L363.5 125.8L363.5 125.4L363.5 125.0L363.6 124.6L363.6 124.2L363.7 123.8L363.7 123.4L363.7 123.0L363.8 122.6L363.8 122.2L363.9 121.8L363.9 121.4L364.0 121.0L364.0 120.6L364.0 120.2L364.1 119.8L364.1 119.4L364.2 119.0L364.2 118.6L364.3 118.2L364.3 117.8L364.4 117.4L364.4 117.0L364.5 116.6L364.5 116.2L364.6 115.8L364.6 115.4L364.7 115.0L364.7 114.6L364.8 114.2L364.8 113.8L364.8 113.4L364.9 113.0L364.9 112.6L365.0 112.2L365.0 111.8L365.1 111.4L365.1 111.0L365.2 110.6L365.2 110.2L365.3 109.8L365.3 109.4L365.4 109.0L365.4 108.6L365.5 108.2L365.5 107.8L365.6 107.4L365.6 107.0L365.7 106.6L365.7 106.2L365.8 105.8L365.8 105.4L365.9 105.0L365.9 104.6L366.0 104.2L366.1 103.8L366.1 103.4L366.2 103.0L366.2 102.6L366.3 102.2L366.3 101.8L366.4 101.4L366.4 101.0L366.5 100.6L366.6 100.2L366.6 99.8L366.7 99.4L366.7 99.0L366.8 98.6L366.9 98.2L366.9 97.8L367.0 97.4L367.1 97.0L367.1 96.6L367.2 96.2L367.3 95.8L367.3 95.4L367.4 95.0L367.5 94.6L367.6 94.2L367.7 93.8L367.8 93.4L367.9 93.0L368.0 92.6L368.1 92.2L368.2 91.8L368.3 91.4L368.4 91.0L368.5 90.6L368.7 90.2L368.8 89.8L368.9 89.4L369.0 89.0L369.1 88.6L369.3 88.2L369.4 87.8L369.5 87.4L369.7 87.0L369.8 86.6L370.0 86.2L370.1 85.8L370.2 85.4L370.4 85.0L370.5 84.6L370.7 84.2L370.8 83.8L370.9 83.4L371.1 83.0L371.2 82.6L371.4 82.2L371.5 81.8L371.7 81.4L371.9 81.0L372.0 80.6L372.2 80.2L372.4 79.8L372.6 79.4L372.8 79.0L373.0 78.6L373.2 78.2L373.4 77.8L373.6 77.4L373.9 77.0L374.1 76.6L374.4 76.2L374.7 75.8L375.0 75.4L375.3 75.0L375.6 74.6L376.0 74.2L376.3 73.8L376.7 73.4L377.1 73.0L377.5 72.6L377.9 72.2L378.3 71.8L378.7 71.4L379.2 71.0L379.7 70.6L380.2 70.2L380.8 69.8L381.5 69.4L382.3 69.0L383.3 68.6L383.6 68.2L383.9 67.9L384.2 67.8L384.5 67.5L384.8 67.5L385.1 67.1L385.4 67.3L385.7 66.8L386.0 67.1L386.3 66.5L386.6 66.9L386.9 66.4L387.2 66.9L387.5 66.1L387.8 67.0L388.1 66.0L388.4 66.9L388.7 65.8L389.0 66.8L389.3 66.0L389.6 67.0L389.9 65.9L390.2 67.3L390.5 66.4L390.8 67.6L391.1 66.6L391.4 67.3L391.7 65.9L392.0 67.0L392.3 65.4L392.6 66.1L392.9 64.8L393.2 66.0L393.5 64.8L393.8 66.2L394.1 65.4L394.4 66.5L394.7 65.8L395.0 66.8L395.3 65.8L395.6 67.4L395.9 65.9L396.2 67.1L396.5 66.0L396.8 67.4L397.1 66.1L397.4 67.3L397.7 65.6L398.0 66.9L398.3 65.8L398.6 67.0L398.9 65.8L399.2 67.1L399.5 66.3L399.8 67.6L400.1 66.5L400.4 68.0L400.7 66.7L401.0 68.0L401.3 66.9L401.6 68.2L401.9 66.6L402.2 68.0L402.5 66.5L402.8 67.9L403.1 66.6L403.4 67.5L403.7 66.6L404.0 67.5L404.3 66.3L404.6 67.4L404.9 66.1L405.2 67.8L405.5 66.2L405.8 67.3L406.1 66.1L406.4 67.0L406.7 65.9L407.0 66.7L407.3 65.9L407.6 67.0L407.9 66.0L408.2 67.2L408.5 66.3L408.8 67.8L409.1 66.3L409.4 67.4L409.7 66.3L410.0 67.3L410.3 65.9L410.6 67.0L410.9 65.9L411.2 67.0L411.5 65.9L411.8 67.3L412.1 65.9L412.4 67.2L412.7 66.2L413.0 67.4L413.3 65.9L413.6 67.3L413.9 66.3L414.2 67.6L414.5 66.0L414.8 67.4L415.1 66.3L415.4 67.2L415.7 66.2L416.0 67.4L416.3 66.0L416.6 66.9L416.9 66.1L417.2 67.3L417.5 66.1L417.8 67.1L418.1 66.3L418.4 67.4L418.7 66.5L419.0 67.6L419.3 66.7L419.6 67.9L419.9 66.6L420.2 67.7L420.5 66.6L420.8 67.9L421.1 66.9L421.4 68.1L421.7 66.8L422.0 67.8L422.3 66.4L422.6 68.0L422.9 66.6L423.2 67.7L423.5 66.3L423.8 67.4L424.1 66.5L424.4 67.5L424.7 66.4L425.0 67.6L425.3 65.9L425.6 67.1L425.9 65.8L426.2 66.7L426.5 65.2L426.8 66.5L427.1 65.3L427.4 66.6L427.7 65.7L428.0 67.0L428.3 65.9L428.6 67.7L428.9 66.8L429.2 67.8L429.5 66.6L429.8 67.7L430.1 66.5L430.4 67.9L430.7 66.7L431.0 68.0L431.3 66.5L431.6 67.4L431.9 66.0L432.2 67.3L432.5 66.2L432.8 67.2L433.1 66.0L433.4 67.4L433.7 66.0L434.0 67.0L434.3 66.0L434.6 67.1L434.9 65.8L435.2 67.4L435.5 66.1L435.8 67.2L436.1 66.0L436.4 67.4L436.7 66.5L437.0 67.7L437.3 66.5L437.6 67.2L437.9 66.2L438.2 67.2L438.5 65.7L438.8 67.1L439.1 65.7L439.4 67.0L439.7 66.1L440.0 67.3L440.3 66.3L440.6 67.5L440.9 66.5L441.2 67.5L441.5 66.3L441.8 67.2L442.1 66.0L442.4 66.9L442.7 65.9L443.0 66.9L443.3 65.6L443.6 66.8L443.9 65.7L444.2 66.9L444.5 65.6L444.8 66.9L445.1 65.6L445.4 67.2L445.7 65.8L446.0 67.1L446.3 66.1L446.6 67.2L446.9 66.2L447.2 67.0L447.5 65.8L447.8 66.9L448.1 65.6L448.4 67.3L448.7 65.7L449.0 67.0L449.3 65.6L449.6 66.9L449.9 65.9L450.2 66.9L450.5 65.9L450.8 67.3L451.1 66.3L451.4 67.2L451.7 65.8L452.0 67.5L452.3 66.5L452.6 67.3L452.9 66.5L453.2 67.5L453.5 66.3L453.8 67.2L454.1 65.8L454.4 66.8L454.7 65.7L455.0 66.7L455.3 65.5L455.6 67.0L455.9 66.1L456.2 67.7L456.5 66.3L456.8 67.9L457.1 66.4L457.4 67.4L457.7 66.3L458.0 67.2L458.3 65.6L458.6 67.3L458.9 65.7L459.2 66.9L459.5 65.9L459.8 67.5L460.1 66.3L460.4 67.8L460.7 66.1L461.0 67.4L461.3 66.4L461.6 67.4L461.9 66.2L462.2 67.6L462.5 66.0L462.8 67.7L463.1 66.3L463.4 67.5L463.7 66.2L464.0 67.4L464.3 66.0L464.6 67.1L464.9 65.7L465.2 67.1L465.5 66.0L465.8 67.1L466.1 65.9L466.4 67.2L466.7 65.9L467.0 67.2L467.3 65.8L467.6 67.0L467.9 65.6L468.2 66.7L468.5 65.5L468.8 67.0L469.1 65.3L469.4 66.6L469.7 65.6L470.0 67.0L470.3 65.5L470.6 66.9L470.9 65.8L471.2 66.9L471.5 65.9L471.8 66.9L472.1 65.8L472.4 66.8L472.7 65.7L473.0 66.8L473.3 66.0L473.6 67.3L473.9 66.3L474.2 67.7L474.5 66.4L474.8 68.1L475.1 66.9L475.4 68.1L475.7 66.6L476.0 68.3L476.3 66.6L476.6 67.9L476.9 66.4L477.2 68.0L477.5 66.3L477.8 67.1L478.1 66.0L478.4 67.1L478.7 65.6L479.0 66.8L479.3 65.7L479.6 67.2L479.9 65.9L480.2 67.2L480.5 66.4L480.8 67.7L481.1 66.6L481.4 67.6L481.7 66.2L482.0 68.1L482.3 66.4L482.6 67.4L482.9 66.3L483.2 67.4L483.5 66.2L483.8 67.6L484.1 66.2L484.4 67.2L484.7 66.0L485.0 67.4L485.3 66.2L485.6 67.2L485.9 66.0L486.2 67.4L486.5 66.2L486.8 67.5L487.1 66.3L487.4 67.5L487.7 66.3L488.0 67.5L488.3 66.6L488.6 67.6L488.9 66.5L489.2 67.6L489.5 66.4L489.8 67.5L490.1 66.3L490.4 67.1L490.7 66.1L491.0 66.9L491.3 66.0L491.6 66.9L491.9 65.6L492.2 67.2L492.5 66.0L492.8 67.0L493.1 66.0L493.4 67.3L493.7 66.0L494.0 67.2L494.3 66.0L494.6 67.6L494.9 66.1L495.2 67.3L495.5 65.9L495.8 67.3L496.1 65.8L496.4 67.0L496.7 65.7L497.0 66.7L497.3 65.8L497.6 67.1L497.9 65.8L498.2 67.2L498.5 66.0L498.8 67.2L499.1 66.2L499.4 67.2L499.7 66.1L500.0 67.4L500.3 66.1L500.6 67.4L500.9 66.1L501.2 67.0L501.5 65.9L501.8 67.1L502.1 65.8L502.4 67.1L502.7 65.6L503.0 66.9L503.3 65.7L503.6 66.9L503.9 65.8L504.2 67.1L504.5 65.8L504.8 66.8L505.1 65.8L505.4 66.8L505.7 65.8L506.0 67.1L506.3 66.1L506.6 67.5L506.9 66.4L507.2 67.5L507.5 66.5L507.8 67.5L508.1 66.5L508.4 67.6L508.7 66.4L509.0 67.5L509.3 66.5L509.6 67.5L509.9 66.3L510.2 67.5L510.5 66.2L510.8 67.4L511.1 66.0L511.4 67.2L511.7 66.1L512.0 67.4L512.3 66.1L512.6 66.8L512.9 65.8L513.2 66.9L513.5 66.0L513.8 67.2L514.1 66.3L514.4 67.4L514.7 66.2L515.0 67.7L515.3 66.6L515.6 67.5L515.9 66.2L516.2 67.7L516.5 65.9L516.8 67.6L517.1 66.1L517.4 67.3L517.7 65.9L518.0 67.8L518.3 66.2L518.6 67.7L518.9 66.5L519.2 67.5L519.5 66.7L519.8 67.7L520.1 66.7L520.4 68.0L520.7 66.7L521.0 67.7L521.3 66.4L521.6 67.8L521.9 66.3L522.2 67.1L522.5 66.0L522.8 66.9L523.1 65.8L523.4 66.9L523.7 65.6L524.0 67.4L524.3 66.0L524.6 67.0L524.9 65.9L525.2 67.1L525.5 66.2L525.8 67.1L526.1 65.9L526.4 66.9L526.7 66.1L527.0 67.3L527.3 65.9L527.6 66.9L527.9 65.6L528.2 66.9L528.5 65.9L528.8 67.2L529.1 65.9L529.4 67.2L529.7 66.2L530.0 67.8L530.3 66.5L530.6 68.2L530.9 67.2L531.2 68.0L531.5 67.0L531.8 67.9L532.1 66.9L532.4 68.2L532.7 66.7L533.0 67.5" fill="none" stroke="#ff5a10" stroke-width="3.8" stroke-linejoin="round" stroke-linecap="round"/>
<path d="M81.5 68.2L81.8 67.5L82.1 68.4L82.4 67.6L82.7 68.7L83.0 67.7L83.3 68.4L83.6 67.6L83.9 68.5L84.2 67.6L84.5 68.7L84.8 67.7L85.1 69.2L85.4 68.1L85.7 68.8L86.0 68.1L86.3 69.0L86.6 68.0L86.9 68.9L87.2 68.2L87.5 68.8L87.8 68.0L88.1 68.7L88.4 67.8L88.7 69.0L89.0 67.7L89.3 68.7L89.6 67.8L89.9 68.8L90.2 67.7L90.5 68.5L90.8 67.7L91.1 68.5L91.4 67.7L91.7 68.5L92.0 67.5L92.3 68.5L92.6 67.7L92.9 68.6L93.2 67.9L93.5 68.9L93.8 68.0L94.1 68.9L94.4 67.6L94.7 68.7L95.0 67.8L95.3 68.8L95.6 67.8L95.9 68.4L96.2 67.6L96.5 68.3L96.8 67.7L97.1 68.4L97.4 67.6L97.7 68.4L98.0 67.6L98.3 68.5L98.6 67.6L98.9 68.6L99.2 67.4L99.5 68.5L99.8 67.7L100.1 68.5L100.4 67.5L100.7 68.5L101.0 67.7L101.3 68.3L101.6 67.5L101.9 68.4L102.2 67.7L102.5 68.5L102.8 67.6L103.1 68.6L103.4 67.7L103.7 68.5L104.0 67.7L104.3 68.6L104.6 67.8L104.9 68.9L105.2 67.8L105.5 68.7L105.8 67.9L106.1 68.6L106.4 67.7L106.7 68.6L107.0 67.8L107.3 69.0L107.6 67.8L107.9 68.7L108.2 67.8L108.5 68.6L108.8 67.9L109.1 68.5L109.4 67.7L109.7 68.8L110.0 67.8L110.3 68.5L110.6 67.6L110.9 68.3L111.2 67.6L111.5 68.4L111.8 67.5L112.1 68.6L112.4 67.6L112.7 68.5L113.0 67.7L113.3 68.5L113.6 67.5L113.9 68.8L114.2 67.7L114.5 68.7L114.8 67.7L115.1 68.5L115.4 67.7L115.7 68.6L116.0 67.7L116.3 68.5L116.6 67.7L116.9 68.6L117.2 67.8L117.5 68.4L117.8 67.5L118.1 68.6L118.4 67.7L118.7 68.5L119.0 67.6L119.3 68.5L119.6 67.7L119.9 68.6L120.2 67.6L120.5 68.6L120.8 67.5L121.1 68.6L121.4 67.7L121.7 68.7L122.0 67.3L122.3 68.6L122.6 67.5L122.9 68.4L123.2 67.6L123.5 68.5L123.8 67.6L124.1 68.4L124.4 67.2L124.7 68.3L125.0 67.6L125.3 68.4L125.6 67.5L125.9 68.3L126.2 67.6L126.5 68.4L126.8 67.4L127.1 68.4L127.4 67.5L127.7 68.5L128.0 67.4L128.3 68.4L128.6 67.5L128.9 68.6L129.2 67.6L129.5 68.6L129.8 67.4L130.1 68.4L130.4 67.6L130.7 68.5L131.0 67.6L131.3 68.4L131.6 67.4L131.9 68.5L132.2 67.7L132.5 68.4L132.8 67.6L133.1 68.9L133.4 67.5L133.7 68.6L134.0 67.9L134.3 68.7L134.6 67.8L134.9 68.7L135.2 67.8L135.5 68.4L135.8 67.6L136.1 68.6L136.4 67.7L136.7 68.4L137.0 67.3L137.3 68.6L137.6 67.6L137.9 68.4L138.2 67.6L138.5 68.4L138.8 67.6L139.1 68.3L139.4 67.6L139.7 68.4L140.0 67.6L140.3 68.6L140.6 67.6L140.9 68.4L141.2 67.6L141.5 68.4L141.8 67.6L142.1 68.4L142.4 67.5L142.7 68.8L143.0 67.6L143.3 68.3L143.6 67.7L143.9 68.6L144.2 67.6L144.5 68.5L144.8 67.5L145.1 68.4L145.4 67.6L145.7 68.5L146.0 67.4L146.3 68.6L146.6 67.7L146.9 68.4L147.2 67.8L147.5 68.4L147.8 67.7L148.1 68.6L148.4 67.7L148.7 68.6L149.0 67.8L149.3 68.5L149.6 67.8L149.9 68.8L150.2 67.6L150.5 68.4L150.8 67.8L151.1 68.5L151.4 67.7L151.7 68.5L152.0 67.4L152.3 68.4L152.6 67.5L152.9 68.6L153.2 67.6L153.5 68.3L153.8 67.5L154.1 68.5L154.4 67.6L154.7 68.6L155.0 67.6L155.3 68.6L155.6 67.8L155.9 68.8L156.2 68.0L156.5 69.2L156.8 67.7L157.1 68.8L157.4 68.0L157.7 68.8L158.0 68.0L158.3 68.6L158.6 67.9L158.9 68.6L159.2 67.7L159.5 68.7L159.8 67.7L160.1 68.7L160.4 67.9L160.7 68.5L161.0 67.8L161.3 68.4L161.6 67.5L161.9 68.6L162.2 67.7L162.5 68.5L162.8 67.4L163.1 68.6L163.4 67.7L163.7 69.0L164.0 67.7L164.3 68.7L164.6 67.8L164.9 68.8L165.2 67.7L165.5 68.6L165.8 67.8L166.1 68.5L166.4 67.7L166.7 68.6L167.0 67.7L167.3 68.6L167.6 67.5L167.9 68.6L168.2 67.5L168.5 68.6L168.8 67.4L169.1 68.6L169.4 67.6L169.7 68.4L170.0 67.4L170.3 68.7L170.6 67.7L170.9 68.5L171.2 67.5L171.5 68.6L171.8 67.8L172.1 68.6L172.4 67.7L172.7 68.8L173.0 68.0L173.3 69.0L173.6 68.2L173.9 69.0L174.2 68.2L174.5 68.9L174.8 68.1L175.1 68.8L175.4 67.8L175.7 68.8L176.0 67.9L176.3 68.7L176.6 67.9L176.9 68.7L177.2 67.6L177.5 68.6L177.8 67.8L178.1 68.8L178.4 67.9L178.7 68.8L179.0 67.9L179.3 68.7L179.6 67.9L179.9 68.8L180.2 67.7L180.5 68.8L180.8 67.7L181.1 68.6L181.4 67.7L181.7 68.4L182.0 67.4L182.3 68.5L182.6 67.7L182.9 68.7L183.2 67.8L183.5 68.6L183.8 67.9L184.1 68.7L184.4 67.9L184.7 68.8L185.0 68.0L185.3 68.7L185.6 68.0L185.9 68.9L186.2 68.2L186.5 68.9L186.8 68.0L187.1 68.8L187.4 68.0L187.7 68.7L188.0 68.0L188.3 68.6L188.6 67.9L188.9 68.5L189.2 67.6L189.5 68.7L189.8 67.8L190.1 68.6L190.4 67.9L190.7 68.6L191.0 67.9L191.3 68.7L191.6 67.8L191.9 69.1L192.2 68.0L192.5 68.9L192.8 67.9L193.1 68.7L193.4 68.0L193.7 68.7L194.0 67.9L194.3 68.7L194.6 68.0L194.9 69.1L195.2 68.0L195.5 68.6L195.8 67.5L196.1 68.7L196.4 67.9L196.7 68.6L197.0 67.9L197.3 68.7L197.6 67.8L197.9 68.7L198.2 68.0L198.5 69.1L198.8 67.7L199.1 68.8L199.4 68.0L199.7 68.7L200.0 67.9L200.3 68.7L200.6 67.7L200.9 68.9L201.2 67.7L201.5 68.8L201.8 67.5L202.1 68.6L202.4 67.8L202.7 68.6L203.0 67.8L203.3 68.8L203.6 67.9L203.9 68.6L204.2 67.9L204.5 68.6L204.8 67.7L205.1 68.4L205.4 67.6L205.7 68.4L206.0 67.5L206.3 68.5L206.6 67.6L206.9 68.6L207.2 67.8L207.5 68.8L207.8 67.6L208.1 68.7L208.4 67.9L208.7 69.1L209.0 68.3L209.3 69.1L209.6 68.2L209.9 69.2L210.2 67.8L210.5 68.8L210.8 68.0L211.1 68.6L211.4 67.8L211.7 68.7L212.0 67.7L212.3 68.6L212.6 67.7L212.9 68.5L213.2 67.2L213.5 68.9L213.8 67.7L214.1 68.6L214.4 67.7L214.7 68.6L215.0 67.5L215.3 68.6L215.6 68.0L215.9 69.0L216.2 67.6L216.5 68.7L216.8 67.7L217.1 68.7L217.4 67.9L217.7 68.6L218.0 67.8L218.3 68.6L218.6 67.7L218.9 68.6L219.2 67.6L219.5 68.6L219.8 67.6L220.1 68.6L220.4 67.6L220.7 68.5L221.0 67.7L221.3 68.6L221.6 67.8L221.9 68.8L222.2 67.7L222.5 68.9L222.8 67.7L223.1 68.4L223.4 67.4L223.7 68.3L224.0 67.6L224.3 68.7L224.6 67.6L224.9 68.7L225.2 67.5L225.5 68.5L225.8 67.6L226.1 68.6L226.4 67.8L226.7 68.4L227.0 67.7L227.3 68.6L227.6 67.7L227.9 68.6L228.2 67.4L228.5 68.4L228.8 67.4L229.1 68.7L229.4 67.7L229.7 68.4L230.0 67.7L230.3 68.7L230.6 67.8L230.9 68.6L231.2 67.8L231.5 68.7L231.8 67.4L232.1 68.6L232.4 67.5L232.7 68.6L233.0 67.8L233.3 68.4L233.6 67.6L233.9 68.4L234.2 67.5L234.5 68.8L234.8 67.7L235.1 68.6L235.4 67.7L235.7 68.6L236.0 67.6L236.3 68.6L236.6 67.6L236.9 68.4L237.2 67.6L237.5 68.6L237.8 67.7L238.1 68.5L238.4 67.3L238.7 68.4L239.0 67.6L239.3 68.5L239.6 67.5L239.9 68.6L240.2 67.6L240.5 68.5L240.8 67.6L241.1 68.5L241.4 67.8L241.7 68.4L242.0 67.8L242.3 68.4L242.6 67.7L242.9 68.4L243.2 67.4L243.5 68.5L243.8 67.6L244.1 68.5L244.4 67.7L244.7 68.5L245.0 67.8L245.3 68.8L245.6 67.6L245.9 68.6L246.2 67.6L246.5 68.8L246.8 67.9L247.1 68.8L247.4 67.9L247.7 68.6L248.0 67.5L248.3 69.1L248.6 67.8L248.9 68.5L249.2 67.8L249.5 68.7L249.8 67.7L250.1 68.9L250.4 67.8L250.7 68.7L251.0 67.7L251.3 68.5L251.6 67.6L251.9 68.5L252.2 67.5L252.5 68.5L252.8 67.4L253.1 68.4L253.4 67.3L253.7 68.4L254.0 67.2L254.3 68.2L254.6 67.4L254.9 68.4L255.2 67.5L255.5 68.6L255.8 67.6L256.1 68.5L256.4 67.9L256.7 68.5L257.0 67.7L257.3 68.5L257.6 67.5L257.9 68.4L258.2 67.4L258.5 68.3L258.8 67.5L259.1 68.3L259.4 67.5L259.7 68.5L260.0 67.6L260.3 68.3L260.6 67.6L260.9 68.6L261.2 67.2L261.5 68.5L262.3 67.9L262.3 105.8L263.2 109.4L263.5 163.3L264.2 196.4L264.5 195.4L264.8 194.4L265.1 194.1L265.4 193.0L265.7 192.9L266.0 191.9L266.3 192.5L266.6 191.0L266.9 191.8L267.2 190.4L267.5 191.0L267.8 189.6L268.1 190.5L268.4 189.0L268.7 190.0L269.0 188.5L269.3 189.4L269.6 188.3L269.9 189.9L270.2 188.6L270.5 189.7L270.8 188.7L271.1 189.7L271.4 188.1L271.7 189.9L272.0 188.8L272.3 190.0L272.6 188.8L272.9 190.1L273.2 189.1L273.5 190.8L273.8 189.2L274.1 190.2L274.4 189.1L274.7 189.8L275.0 188.7L275.3 189.5L275.6 188.4L275.9 189.3L276.2 187.9L276.5 188.8L276.8 187.7L277.1 189.0L277.4 188.0L277.7 189.6L278.0 188.3L278.3 189.4L278.6 188.6L278.9 189.9L279.2 188.7L279.5 189.8L279.8 188.5L280.1 189.7L280.4 188.4L280.7 189.3L281.0 188.0L281.3 189.1L281.6 188.2L281.9 189.5L282.2 187.9L282.5 189.2L282.8 188.2L283.1 189.2L283.4 187.9L283.7 189.1L284.0 188.2L284.3 189.3L284.6 188.0L284.9 189.4L285.2 188.3L285.5 189.4L285.8 188.1L286.1 189.2L286.4 188.1L286.7 189.1L287.0 187.8L287.3 189.0L287.6 187.9L287.9 189.1L288.2 187.4L288.5 188.6L288.8 187.4L289.1 188.5L289.4 187.3L289.7 189.0L290.0 187.6L290.3 189.0L290.6 187.7L290.9 188.8L291.2 188.0L291.5 189.2L291.8 187.9L292.1 188.9L292.4 187.9L292.7 189.2L293.0 187.5L293.3 189.4L293.6 187.8L293.9 188.6L294.2 187.6L294.5 188.9L294.8 187.6L295.1 188.6L295.4 187.6L295.7 188.8L296.0 187.4L296.3 188.6L296.6 187.6L296.9 188.6L297.2 187.5L297.5 188.8L297.8 187.6L298.1 188.8L298.4 187.9L298.7 188.9L299.0 188.0L299.3 189.0L299.6 188.1L299.9 189.3L300.2 188.4L300.5 189.7L300.8 188.4L301.1 189.8L301.4 188.8L301.7 189.6L302.0 188.5L302.3 190.0L302.6 188.3L302.9 189.2L303.2 187.7L303.5 189.1L303.8 187.6L304.1 188.6L304.4 187.4L304.7 188.8L305.0 187.5L305.3 188.8L305.6 187.5L305.9 188.5L306.2 187.7L306.5 188.9L306.8 187.5L307.1 188.5L307.4 187.3L307.7 188.4L308.0 187.4L308.3 188.4L308.6 187.1L308.9 188.3L309.2 187.1L309.5 188.2L309.8 187.2L310.1 188.1L310.4 187.1L310.7 188.0L311.0 186.6L311.3 188.3L311.6 186.8L311.9 188.0L312.2 187.1L312.5 188.1L312.8 187.1L313.1 188.3L313.4 186.9L313.7 188.1L314.0 186.9L314.3 188.4L314.6 187.2L314.9 189.2L315.2 187.1L315.5 188.4L315.8 187.6L316.1 188.5L316.4 187.6L316.7 188.7L317.0 187.4L317.3 188.8L317.6 187.5L317.9 188.5L318.2 187.0L318.5 188.2L318.8 187.0L319.1 188.4L319.4 186.7L319.7 188.2L320.0 187.0L320.3 188.2L320.6 187.4L320.9 188.2L321.2 187.1L321.5 188.5L321.8 186.7L322.1 188.5L322.4 187.1L322.7 188.2L323.0 186.8L323.3 188.0L323.6 186.7L323.9 188.2L324.2 187.1L324.5 188.2L324.8 186.9L325.1 188.3L325.4 187.4L325.7 188.8L326.0 187.6L326.3 189.0L326.6 187.8L326.9 188.5L327.2 187.4L327.5 188.2L327.8 187.0L328.1 187.9L328.4 186.7L328.7 187.6L329.0 186.3L329.3 187.3L329.6 186.5L329.9 187.5L330.2 186.7L330.5 188.1L330.8 186.9L331.1 188.0L331.4 187.0L331.7 188.1L332.0 187.1L332.3 188.0L332.6 187.1L332.9 188.0L333.2 187.0L333.5 188.0L333.8 186.7L334.1 188.2L334.4 186.4L334.7 188.0L335.0 186.8L335.3 188.1L335.6 187.0L335.9 188.1L336.2 187.0L336.5 187.8L336.8 186.5L337.1 187.8L337.4 186.6L337.7 187.7L338.0 186.2L338.3 187.5L338.6 186.4L338.9 187.3L339.2 186.2L339.5 187.7L339.8 186.2L340.1 187.6L340.4 186.3L340.7 187.2L341.0 186.3L341.3 187.2L341.6 186.3L341.9 187.5L342.2 186.2L342.5 187.7L342.8 186.5L343.1 187.4L343.4 186.4L343.7 187.8L344.0 186.5L344.3 187.6L344.6 186.5L344.9 187.7L345.2 186.7L345.5 187.5L345.8 186.5L346.1 187.6L346.4 186.5L346.7 187.5L347.0 186.5L347.3 187.4L347.6 186.5L347.9 187.3L348.2 186.3L348.5 187.4L348.8 185.9L349.1 187.3L349.4 186.1L349.7 187.1L350.0 185.8L350.3 187.1L350.6 186.0L350.9 187.8L351.2 186.0L351.5 187.3L351.8 186.1L352.1 187.4L352.4 185.9L352.7 187.3L353.0 186.3L353.3 187.7L353.6 186.5L353.9 187.7L354.2 186.5L354.5 187.7L354.8 186.7L355.1 188.0L355.4 186.3L355.7 187.8L356.0 186.7L356.3 187.9L356.6 186.8L356.9 187.9L357.2 186.6L357.5 187.5L357.8 186.5L358.1 187.3L358.4 186.4L358.6 186.6L358.6 186.2L358.6 185.8L358.6 185.4L358.6 185.0L358.7 184.6L358.7 184.2L358.7 183.8L358.7 183.4L358.7 183.0L358.7 182.6L358.7 182.2L358.7 181.8L358.7 181.4L358.8 181.0L358.8 180.6L358.8 180.2L358.8 179.8L358.8 179.4L358.8 179.0L358.8 178.6L358.8 178.2L358.8 177.8L358.9 177.4L358.9 177.0L358.9 176.6L358.9 176.2L358.9 175.8L358.9 175.4L358.9 175.0L358.9 174.6L359.0 174.2L359.0 173.8L359.0 173.4L359.0 173.0L359.0 172.6L359.0 172.2L359.1 171.8L359.1 171.4L359.1 171.0L359.1 170.6L359.1 170.2L359.2 169.8L359.2 169.4L359.2 169.0L359.2 168.6L359.3 168.2L359.3 167.8L359.3 167.4L359.3 167.0L359.3 166.6L359.4 166.2L359.4 165.8L359.4 165.4L359.4 165.0L359.5 164.6L359.5 164.2L359.5 163.8L359.6 163.4L359.6 163.0L359.6 162.6L359.7 162.2L359.7 161.8L359.7 161.4L359.7 161.0L359.8 160.6L359.8 160.2L359.8 159.8L359.9 159.4L359.9 159.0L359.9 158.6L360.0 158.2L360.0 157.8L360.0 157.4L360.1 157.0L360.1 156.6L360.1 156.2L360.1 155.8L360.2 155.4L360.2 155.0L360.2 154.6L360.3 154.2L360.3 153.8L360.3 153.4L360.4 153.0L360.4 152.6L360.4 152.2L360.5 151.8L360.5 151.4L360.5 151.0L360.6 150.6L360.6 150.2L360.6 149.8L360.7 149.4L360.7 149.0L360.7 148.6L360.8 148.2L360.8 147.8L360.8 147.4L360.9 147.0L360.9 146.6L360.9 146.2L361.0 145.8L361.0 145.4L361.0 145.0L361.1 144.6L361.1 144.2L361.1 143.8L361.2 143.4L361.2 143.0L361.2 142.6L361.3 142.2L361.3 141.8L361.3 141.4L361.4 141.0L361.4 140.6L361.5 140.2L361.5 139.8L361.5 139.4L361.6 139.0L361.6 138.6L361.6 138.2L361.7 137.8L361.7 137.4L361.7 137.0L361.7 136.6L361.8 136.2L361.8 135.8L361.8 135.4L361.9 135.0L361.9 134.6L361.9 134.2L362.0 133.8L362.0 133.4L362.1 133.0L362.1 132.6L362.1 132.2L362.2 131.8L362.2 131.4L362.2 131.0L362.3 130.6L362.3 130.2L362.3 129.8L362.4 129.4L362.4 129.0L362.4 128.6L362.5 128.2L362.5 127.8L362.5 127.4L362.6 127.0L362.6 126.6L362.7 126.2L362.7 125.8L362.7 125.4L362.8 125.0L362.8 124.6L362.9 124.2L362.9 123.8L362.9 123.4L363.0 123.0L363.0 122.6L363.1 122.2L363.1 121.8L363.2 121.4L363.2 121.0L363.2 120.6L363.3 120.2L363.3 119.8L363.4 119.4L363.4 119.0L363.5 118.6L363.5 118.2L363.6 117.8L363.6 117.4L363.7 117.0L363.7 116.6L363.8 116.2L363.8 115.8L363.9 115.4L363.9 115.0L364.0 114.6L364.0 114.2L364.1 113.8L364.1 113.4L364.2 113.0L364.2 112.6L364.3 112.2L364.3 111.8L364.4 111.4L364.4 111.0L364.5 110.6L364.5 110.2L364.6 109.8L364.6 109.4L364.7 109.0L364.8 108.6L364.8 108.2L364.9 107.8L364.9 107.4L365.0 107.0L365.0 106.6L365.1 106.2L365.1 105.8L365.2 105.4L365.3 105.0L365.3 104.6L365.4 104.2L365.4 103.8L365.5 103.4L365.6 103.0L365.6 102.6L365.7 102.2L365.7 101.8L365.8 101.4L365.9 101.0L365.9 100.6L366.0 100.2L366.1 99.8L366.1 99.4L366.2 99.0L366.3 98.6L366.3 98.2L366.4 97.8L366.5 97.4L366.6 97.0L366.6 96.6L366.7 96.2L366.8 95.8L366.9 95.4L366.9 95.0L367.0 94.6L367.1 94.2L367.2 93.8L367.2 93.4L367.3 93.0L367.4 92.6L367.5 92.2L367.6 91.8L367.7 91.4L367.7 91.0L367.8 90.6L367.9 90.2L368.0 89.8L368.1 89.4L368.2 89.0L368.3 88.6L368.4 88.2L368.5 87.8L368.7 87.4L368.8 87.0L369.0 86.6L369.1 86.2L369.3 85.8L369.4 85.4L369.6 85.0L369.7 84.6L369.9 84.2L370.1 83.8L370.2 83.4L370.4 83.0L370.6 82.6L370.8 82.2L370.9 81.8L371.1 81.4L371.3 81.0L371.5 80.6L371.7 80.2L371.9 79.8L372.2 79.4L372.4 79.0L372.6 78.6L372.9 78.2L373.1 77.8L373.4 77.4L373.6 77.0L373.9 76.6L374.2 76.2L374.5 75.8L374.8 75.4L375.2 75.0L375.6 74.6L375.9 74.2L376.4 73.8L376.8 73.4L377.2 73.0L377.6 72.6L378.1 72.2L378.6 71.8L379.1 71.4L379.6 71.0L380.1 70.6L380.7 70.2L381.3 69.8L382.0 69.4L382.9 69.0L383.9 68.6L384.2 68.4L384.5 68.1L384.8 68.2L385.1 67.9L385.4 68.1L385.7 67.7L386.0 68.0L386.3 67.4L386.6 67.8L386.9 67.3L387.2 67.9L387.5 67.1L387.8 67.6L388.1 66.7L388.4 67.8L388.7 66.6L389.0 67.4L389.3 66.3L389.6 67.6L389.9 66.3L390.2 67.7L390.5 66.5L390.8 67.6L391.1 66.4L391.4 67.8L391.7 66.7L392.0 68.0L392.3 66.8L392.6 68.2L392.9 67.0L393.2 68.0L393.5 66.9L393.8 67.9L394.1 66.7L394.4 67.7L394.7 66.4L395.0 67.5L395.3 66.6L395.6 67.8L395.9 66.5L396.2 68.0L396.5 66.5L396.8 67.9L397.1 66.7L397.4 67.8L397.7 66.7L398.0 67.8L398.3 66.6L398.6 67.6L398.9 66.5L399.2 67.5L399.5 66.4L399.8 67.5L400.1 66.3L400.4 67.7L400.7 66.3L401.0 67.5L401.3 66.1L401.6 67.4L401.9 66.5L402.2 67.8L402.5 65.9L402.8 67.7L403.1 66.3L403.4 67.4L403.7 66.3L404.0 67.8L404.3 66.5L404.6 67.8L404.9 66.5L405.2 67.7L405.5 66.4L405.8 68.2L406.1 66.9L406.4 67.9L406.7 66.7L407.0 68.0L407.3 66.8L407.6 68.1L407.9 66.7L408.2 68.1L408.5 66.9L408.8 68.0L409.1 66.9L409.4 68.0L409.7 66.6L410.0 67.7L410.3 66.6L410.6 67.7L410.9 66.5L411.2 67.8L411.5 66.4L411.8 67.8L412.1 66.7L412.4 67.9L412.7 67.0L413.0 68.1L413.3 66.9L413.6 68.0L413.9 66.9L414.2 68.5L414.5 66.5L414.8 67.8L415.1 66.5L415.4 68.3L415.7 66.5L416.0 67.7L416.3 66.6L416.6 67.5L416.9 66.5L417.2 67.5L417.5 66.6L417.8 67.6L418.1 66.7L418.4 67.9L418.7 66.5L419.0 68.0L419.3 66.9L419.6 67.7L419.9 66.2L420.2 67.9L420.5 66.2L420.8 67.6L421.1 66.4L421.4 67.5L421.7 66.4L422.0 67.8L422.3 66.3L422.6 67.3L422.9 66.2L423.2 67.3L423.5 66.5L423.8 67.6L424.1 66.7L424.4 67.9L424.7 66.6L425.0 68.2L425.3 66.8L425.6 67.8L425.9 66.4L426.2 67.6L426.5 66.4L426.8 67.3L427.1 66.3L427.4 67.3L427.7 66.4L428.0 67.4L428.3 66.7L428.6 67.8L428.9 66.9L429.2 68.1L429.5 66.8L429.8 67.6L430.1 66.4L430.4 67.7L430.7 66.4L431.0 67.4L431.3 66.3L431.6 67.4L431.9 66.3L432.2 67.8L432.5 66.6L432.8 67.6L433.1 66.7L433.4 67.6L433.7 66.5L434.0 67.7L434.3 66.5L434.6 67.9L434.9 66.4L435.2 67.7L435.5 66.2L435.8 67.8L436.1 66.6L436.4 68.4L436.7 66.7L437.0 67.7L437.3 66.5L437.6 67.8L437.9 66.4L438.2 67.3L438.5 66.1L438.8 67.1L439.1 65.8L439.4 67.2L439.7 66.3L440.0 67.8L440.3 66.5L440.6 67.8L440.9 66.6L441.2 67.8L441.5 66.7L441.8 67.8L442.1 66.3L442.4 67.9L442.7 66.8L443.0 68.3L443.3 66.7L443.6 67.7L443.9 66.5L444.2 67.7L444.5 66.4L444.8 67.9L445.1 66.5L445.4 67.9L445.7 66.2L446.0 67.5L446.3 66.6L446.6 67.7L446.9 66.7L447.2 67.9L447.5 66.5L447.8 67.8L448.1 66.6L448.4 68.2L448.7 66.7L449.0 68.2L449.3 66.9L449.6 68.0L449.9 66.7L450.2 68.1L450.5 66.5L450.8 67.9L451.1 66.4L451.4 67.7L451.7 66.5L452.0 67.9L452.3 66.4L452.6 67.8L452.9 66.9L453.2 67.8L453.5 66.8L453.8 67.5L454.1 66.7L454.4 67.4L454.7 66.4L455.0 67.4L455.3 66.6L455.6 67.5L455.9 66.6L456.2 67.8L456.5 66.7L456.8 68.1L457.1 66.9L457.4 67.8L457.7 66.8L458.0 67.9L458.3 66.9L458.6 67.8L458.9 66.9L459.2 68.1L459.5 67.1L459.8 68.1L460.1 67.2L460.4 68.5L460.7 67.4L461.0 68.8L461.3 67.5L461.6 68.7L461.9 67.1L462.2 68.4L462.5 67.1L462.8 68.1L463.1 66.9L463.4 67.9L463.7 66.6L464.0 68.0L464.3 66.9L464.6 68.3L464.9 66.7L465.2 68.0L465.5 66.9L465.8 68.1L466.1 66.9L466.4 68.2L466.7 67.1L467.0 68.2L467.3 67.1L467.6 68.0L467.9 66.8L468.2 68.0L468.5 66.5L468.8 68.1L469.1 66.5L469.4 67.9L469.7 66.7L470.0 67.8L470.3 66.6L470.6 68.1L470.9 67.1L471.2 68.0L471.5 66.6L471.8 67.9L472.1 66.7L472.4 68.1L472.7 66.6L473.0 67.5L473.3 66.4L473.6 67.5L473.9 66.4L474.2 67.8L474.5 66.6L474.8 67.6L475.1 66.5L475.4 67.9L475.7 66.8L476.0 68.1L476.3 66.4L476.6 68.4L476.9 66.8L477.2 68.3L477.5 67.0L477.8 68.2L478.1 66.8L478.4 68.0L478.7 66.9L479.0 67.9L479.3 66.9L479.6 68.0L479.9 66.6L480.2 68.2L480.5 67.0L480.8 68.2L481.1 67.1L481.4 67.9L481.7 66.9L482.0 67.8L482.3 66.5L482.6 67.4L482.9 66.3L483.2 67.3L483.5 66.4L483.8 67.7L484.1 66.3L484.4 67.7L484.7 66.7L485.0 67.9L485.3 66.6L485.6 67.8L485.9 66.7L486.2 67.6L486.5 66.3L486.8 67.6L487.1 66.6L487.4 67.5L487.7 66.1L488.0 68.0L488.3 66.7L488.6 67.9L488.9 66.5L489.2 67.8L489.5 66.3L489.8 67.6L490.1 66.3L490.4 67.3L490.7 65.9L491.0 67.1L491.3 66.3L491.6 67.4L491.9 66.6L492.2 67.6L492.5 66.7L492.8 67.8L493.1 67.0L493.4 67.9L493.7 66.7L494.0 68.2L494.3 66.8L494.6 67.8L494.9 66.7L495.2 67.7L495.5 66.6L495.8 68.1L496.1 66.3L496.4 67.9L496.7 66.4L497.0 67.5L497.3 66.5L497.6 67.4L497.9 66.2L498.2 67.5L498.5 66.4L498.8 67.4L499.1 65.9L499.4 67.6L499.7 66.4L500.0 67.4L500.3 66.4L500.6 67.4L500.9 66.2L501.2 67.7L501.5 66.7L501.8 67.8L502.1 66.6L502.4 68.3L502.7 67.1L503.0 68.2L503.3 66.8L503.6 68.0L503.9 66.8L504.2 68.1L504.5 66.8L504.8 67.7L505.1 66.4L505.4 67.7L505.7 66.4L506.0 67.7L506.3 66.7L506.6 68.0L506.9 66.7L507.2 67.6L507.5 66.7L507.8 67.7L508.1 66.5L508.4 67.8L508.7 66.9L509.0 68.1L509.3 66.3L509.6 68.0L509.9 66.7L510.2 67.9L510.5 66.7L510.8 67.8L511.1 66.8L511.4 67.9L511.7 66.6L512.0 68.0L512.3 66.4L512.6 68.0L512.9 66.5L513.2 68.1L513.5 66.6L513.8 67.8L514.1 66.7L514.4 68.1L514.7 67.0L515.0 68.0L515.3 66.9L515.6 67.9L515.9 66.5L516.2 67.8L516.5 66.7L516.8 67.8L517.1 66.6L517.4 67.8L517.7 66.7L518.0 68.1L518.3 66.7L518.6 68.4L518.9 67.0L519.2 68.1L519.5 66.8L519.8 67.7L520.1 66.5L520.4 67.8L520.7 66.5L521.0 67.3L521.3 66.4L521.6 67.7L521.9 66.2L522.2 67.8L522.5 66.5L522.8 67.8L523.1 66.4L523.4 67.7L523.7 66.3L524.0 67.9L524.3 66.6L524.6 67.6L524.9 66.2L525.2 67.8L525.5 66.7L525.8 67.7L526.1 66.7L526.4 67.8L526.7 66.8L527.0 67.8L527.3 66.8L527.6 67.8L527.9 66.6L528.2 67.8L528.5 66.8L528.8 67.8L529.1 66.6L529.4 67.9L529.7 66.6L530.0 67.7L530.3 66.7L530.6 67.6L530.9 66.5L531.2 67.5L531.5 66.5L531.8 67.5L532.1 66.6L532.4 67.7L532.7 66.4L533.0 67.7" fill="none" stroke="#0e6ec5" stroke-width="3.8" stroke-linejoin="round" stroke-linecap="round"/>
</g>
<g font-family="'Liberation Serif', serif" font-weight="bold" font-size="25.5" fill="#262626">
<text x="81.5" y="385.9" text-anchor="middle">0</text>
<text x="171.8" y="385.9" text-anchor="middle">1</text>
<text x="262.1" y="385.9" text-anchor="middle">2</text>
<text x="352.5" y="385.9" text-anchor="middle">3</text>
<text x="442.8" y="385.9" text-anchor="middle">4</text>
<text x="533.1" y="385.9" text-anchor="middle">5</text>
<text x="73.5" y="28.8" text-anchor="end">2</text>
<text x="73.5" y="76.7" text-anchor="end">0</text>
<text x="73.5" y="124.6" text-anchor="end">-2</text>
<text x="73.5" y="172.5" text-anchor="end">-4</text>
<text x="73.5" y="220.4" text-anchor="end">-6</text>
<text x="73.5" y="268.3" text-anchor="end">-8</text>
<text x="73.5" y="316.2" text-anchor="end">-10</text>
<text x="73.5" y="364.1" text-anchor="end">-12</text>
</g>
<g font-family="'Liberation Serif', serif" font-weight="bold" font-size="26.8" fill="#222">
<text x="306.8" y="418.7" text-anchor="middle">Time/μs</text>
<text transform="translate(29.5 188.9) rotate(-90)" text-anchor="middle">Voltage/k<tspan dx="1.6">V</tspan></text>
</g>
<rect x="420.5" y="184.5" width="103" height="167.7" fill="#fff" stroke="#262626" stroke-width="1"/>
<g font-family="'Liberation Serif', serif" font-weight="bold" font-size="22.5" fill="#000">
<path d="M424.6 199.9 H466" stroke="#ff0d0d" stroke-width="3.9"/>
<text x="469.4" y="207.6">235V</text>
<path d="M424.6 227.2 H466" stroke="#55ab1e" stroke-width="3.9"/>
<text x="469.4" y="234.9">220V</text>
<path d="M424.6 254.6 H466" stroke="#8f24a6" stroke-width="3.9"/>
<text x="469.4" y="262.3">180V</text>
<path d="M424.6 281.9 H466" stroke="#ffb000" stroke-width="3.9"/>
<text x="469.4" y="289.6">150V</text>
<path d="M424.6 309.2 H466" stroke="#ff5a10" stroke-width="3.9"/>
<text x="469.4" y="316.9">120V</text>
<path d="M424.6 336.5 H466" stroke="#0e6ec5" stroke-width="3.9"/>
<text x="469.4" y="344.2">90V</text>
</g>
</svg>
</body></html>
